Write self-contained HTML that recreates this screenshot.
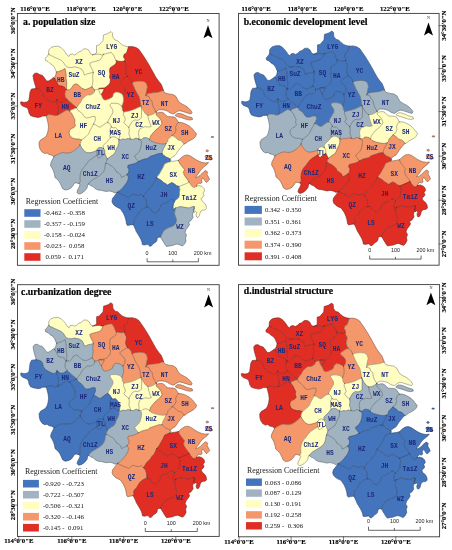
<!DOCTYPE html><html><head><meta charset="utf-8"><title>Regression coefficient maps</title>
<style>html,body{margin:0;padding:0;background:#fff}svg{display:block}.t{font-family:'Liberation Serif',serif;font-weight:bold;font-size:6.75px;fill:#000;stroke:#000;stroke-width:.15}.ti{font-family:'Liberation Serif',serif;font-weight:bold;font-size:9.75px;fill:#000;stroke:#000;stroke-width:.2}.lg{font-family:'Liberation Serif',serif;font-size:6.85px;fill:#111;white-space:pre}.lt{font-family:'Liberation Serif',serif;font-size:7.9px;fill:#222}.rl{font-family:'Liberation Mono',monospace;font-weight:bold;font-size:6.25px;fill:#1c2a7c;text-anchor:middle}.sb{font-family:'Liberation Sans',sans-serif;font-size:5.4px;fill:#222;text-anchor:middle}.rg{stroke:#1a1a1a;stroke-opacity:.62;stroke-width:0.5;stroke-linejoin:round;stroke-linecap:round}</style></head><body>
<svg width="452" height="550" viewBox="0 0 452 550">
<rect x="0" y="0" width="452" height="550" fill="#fff"/>
<g id="panel-a">
<g transform="translate(0.00 0.00)">
<g stroke-width="0.35" stroke-linejoin="round">
<polygon points="48.8,54.0 48.5,53.0 48.8,50.0 51.0,47.5 54.0,46.5 58.0,46.2 61.0,47.5 63.5,50.0 65.5,52.5 67.0,55.0 69.0,56.5 70.0,54.5 72.5,54.0 74.5,55.0 76.5,54.0 78.5,52.0 81.0,51.2 83.5,49.0 86.5,48.8 89.0,50.5 90.5,53.5 92.5,54.8 95.0,54.5 99.0,54.0 102.0,55.0 103.5,54.3 101.5,58.0 100.0,60.0 96.0,61.2 92.0,62.2 89.8,63.2 90.2,65.5 91.5,68.0 92.8,70.5 93.2,72.5 90.0,73.2 87.5,73.7 85.7,74.7 84.2,74.7 83.5,72.3 82.0,69.5 78.4,67.5 77.0,67.5 74.5,66.8 72.0,67.5 69.0,67.5 66.5,66.8 65.0,65.0 63.5,62.5 61.5,60.5 58.5,59.0 55.0,57.5 52.0,56.0 49.5,55.0" fill="#fffdbf" stroke="#fffdbf"/>
<polygon points="92.5,54.8 93.5,54.5 96.5,53.0 96.5,45.5 99.0,45.0 103.0,40.5 103.5,35.0 108.0,33.5 111.0,31.5 112.5,33.0 112.8,37.0 115.0,40.0 117.5,40.5 120.0,43.0 122.5,45.0 125.0,46.0 127.0,46.5 128.5,46.8 127.5,50.0 126.5,53.0 124.0,54.5 123.5,57.0 125.0,59.5 124.5,61.0 121.5,61.5 118.5,61.2 116.0,60.5 115.0,58.5 113.5,55.0 111.5,52.5 108.5,53.0 105.0,54.0 103.5,54.3 102.0,55.0 99.0,54.0 95.0,54.5" fill="#fffdbf" stroke="#fffdbf"/>
<polygon points="103.5,54.3 105.0,54.0 108.5,53.0 111.5,52.5 113.5,55.0 115.0,58.5 116.0,60.5 116.5,61.5 115.8,63.5 114.5,65.0 112.0,66.5 110.0,68.0 109.5,71.0 110.0,74.0 109.5,77.0 110.5,80.0 110.0,83.0 108.5,85.0 106.0,87.0 104.3,87.9 99.0,88.3 98.8,88.8 104.1,88.7 103.8,90.0 102.5,92.5 101.2,94.5 99.8,93.0 99.0,91.0 98.5,89.0 96.5,89.7 94.5,90.0 93.5,88.5 92.0,86.8 92.5,84.0 93.0,80.0 92.5,77.0 93.0,74.0 93.2,72.5 92.8,70.5 91.5,68.0 90.2,65.5 89.8,63.2 92.0,62.2 96.0,61.2 100.0,60.0 101.5,58.0" fill="#fffdbf" stroke="#fffdbf"/>
<polygon points="48.8,54.0 49.5,55.0 52.0,56.0 55.0,57.5 58.5,59.0 61.5,60.5 63.5,62.5 65.0,65.0 66.5,66.8 69.0,67.5 72.0,67.5 74.5,66.8 77.0,67.5 78.4,67.5 82.0,69.5 83.5,72.3 84.2,74.7 85.7,74.7 87.5,73.7 90.0,73.2 93.2,72.5 93.0,74.0 92.5,77.0 93.0,80.0 92.5,84.0 92.0,86.8 87.9,88.7 85.3,89.6 81.8,88.3 79.1,85.6 76.4,83.8 73.7,84.7 71.5,87.9 69.3,90.1 66.5,89.6 66.6,87.0 66.7,84.0 66.5,81.0 66.0,78.0 66.2,75.0 65.7,72.0 65.0,68.5 61.5,70.5 58.5,71.5 56.5,72.0 55.5,70.0 54.5,67.5 52.5,65.0 50.0,63.5 48.0,61.5 45.5,60.5 45.2,58.5 47.0,56.5" fill="#fffdbf" stroke="#fffdbf"/>
<polygon points="56.5,72.0 58.5,71.5 61.5,70.5 65.0,68.5 65.7,72.0 66.2,75.0 66.0,78.0 66.5,81.0 66.7,84.0 66.6,87.0 66.5,89.6 65.8,89.7 64.4,87.1 62.2,86.1 58.6,85.6 56.4,81.6 54.8,78.5 54.6,77.0 55.8,75.0 56.2,73.0" fill="#f4976a" stroke="#f4976a"/>
<polygon points="36.0,88.5 35.5,86.0 34.5,83.0 33.5,79.0 33.0,75.5 34.5,73.5 37.0,73.0 39.5,74.5 42.5,75.5 44.5,78.0 46.5,81.0 48.5,81.0 51.0,79.5 53.5,77.5 54.8,78.5 56.4,81.6 58.6,85.6 62.2,86.1 64.4,87.1 65.8,89.7 64.8,94.1 65.3,96.8 67.0,99.4 63.5,101.7 60.4,102.1 56.8,99.5 55.2,102.2 52.5,102.2 50.0,101.0 47.0,99.5 44.5,97.5 43.0,95.0 42.5,92.0 41.0,90.0 38.5,89.0" fill="#e02e25" stroke="#e02e25"/>
<polygon points="46.2,115.8 44.5,116.0 42.5,116.0 40.5,117.0 38.0,117.5 35.5,117.0 33.0,116.5 30.5,115.5 29.0,113.0 28.5,110.5 27.5,108.0 25.0,107.0 22.5,106.0 21.0,104.5 20.5,102.2 21.5,101.8 24.0,102.5 27.0,102.0 29.0,100.0 29.5,96.0 30.0,92.0 31.5,89.0 36.0,88.5 38.5,89.0 41.0,90.0 42.5,92.0 43.0,95.0 44.5,97.5 47.0,99.5 50.0,101.0 52.5,102.2 55.2,102.2 56.8,99.5 57.0,103.0 58.0,107.0 58.5,111.0 57.7,114.9 55.5,115.8 52.4,114.9 48.8,114.5" fill="#e02e25" stroke="#e02e25"/>
<polygon points="56.8,99.5 60.4,102.1 63.5,101.7 67.0,99.4 70.0,101.8 72.5,104.0 75.0,106.0 76.5,107.7 75.4,108.3 71.9,109.6 69.6,110.9 66.5,110.0 63.5,111.8 60.8,113.6 57.7,114.9 58.5,111.0 58.0,107.0 57.0,103.0" fill="#e02e25" stroke="#e02e25"/>
<polygon points="66.5,89.6 69.3,90.1 71.5,87.9 73.7,84.7 76.4,83.8 79.1,85.6 81.8,88.3 85.3,89.6 87.9,88.7 92.0,86.8 93.5,88.5 94.5,90.0 94.5,92.0 92.5,94.0 90.0,95.0 87.5,94.8 85.5,96.0 84.0,97.5 82.0,99.5 80.5,102.5 78.5,105.0 76.5,107.7 75.0,106.0 72.5,104.0 70.0,101.8 67.0,99.4 65.3,96.8 64.8,94.1 65.8,89.7" fill="#f4976a" stroke="#f4976a"/>
<polygon points="116.0,60.5 118.5,61.2 121.5,61.5 124.5,61.0 125.0,63.0 126.5,66.0 126.0,69.0 125.5,72.0 126.5,75.0 127.5,76.5 124.5,78.0 121.5,80.0 119.5,82.0 121.0,83.8 123.5,86.0 125.0,88.5 124.7,92.0 123.0,94.7 121.5,93.8 119.0,92.5 116.0,92.0 113.5,93.5 112.5,97.0 109.0,99.0 105.0,100.2 103.0,99.0 101.2,94.5 102.5,92.5 103.8,90.0 104.1,88.7 98.8,88.8 99.0,88.3 104.3,87.9 106.0,87.0 108.5,85.0 110.0,83.0 110.5,80.0 109.5,77.0 110.0,74.0 109.5,71.0 110.0,68.0 112.0,66.5 114.5,65.0 115.8,63.5 116.5,61.5" fill="#e02e25" stroke="#e02e25"/>
<polygon points="128.5,46.8 132.0,46.5 136.0,47.5 139.0,49.5 141.0,52.5 143.5,56.0 146.0,60.0 148.5,64.0 151.0,68.5 153.5,73.0 156.0,77.5 158.5,81.0 161.0,84.0 162.5,87.5 163.5,90.5 162.0,90.8 159.0,92.0 155.0,92.5 151.0,93.0 148.0,93.5 145.8,95.5 146.5,91.0 147.5,87.0 146.5,83.5 144.0,81.5 140.0,81.0 135.0,81.5 132.0,82.5 131.2,80.5 130.0,78.5 127.5,76.5 126.5,75.0 125.5,72.0 126.0,69.0 126.5,66.0 125.0,63.0 124.5,61.0 125.0,59.5 123.5,57.0 124.0,54.5 126.5,53.0 127.5,50.0" fill="#e02e25" stroke="#e02e25"/>
<polygon points="127.5,76.5 130.0,78.5 131.2,80.5 132.0,82.5 133.5,86.0 135.0,89.5 137.0,93.0 139.0,96.5 140.0,100.0 140.5,103.5 141.0,106.2 138.3,107.4 135.3,108.9 131.3,110.4 127.3,111.4 123.8,111.9 122.5,110.4 121.8,106.2 123.3,102.0 123.5,99.0 122.8,94.7 123.0,94.7 124.7,92.0 125.0,88.5 123.5,86.0 121.0,83.8 119.5,82.0 121.5,80.0 124.5,78.0" fill="#e02e25" stroke="#e02e25"/>
<polygon points="132.0,82.5 135.0,81.5 140.0,81.0 144.0,81.5 146.5,83.5 147.5,87.0 146.5,91.0 145.8,95.5 149.0,96.5 150.0,99.5 152.0,101.0 152.5,104.5 153.5,107.5 155.0,110.0 156.0,111.8 155.3,112.6 153.5,113.9 150.7,115.1 147.8,115.3 145.2,113.5 142.8,110.0 141.0,106.2 140.5,103.5 140.0,100.0 139.0,96.5 137.0,93.0 135.0,89.5 133.5,86.0" fill="#f4976a" stroke="#f4976a"/>
<polygon points="163.5,90.8 165.0,93.0 169.0,94.0 173.0,94.5 176.0,96.5 177.5,99.5 179.0,102.0 182.0,104.0 185.0,105.5 188.0,107.5 190.5,110.0 192.0,112.5 191.0,114.0 188.0,113.2 185.0,112.2 182.0,111.2 179.0,110.7 177.0,111.6 175.0,113.0 173.5,114.0 172.0,113.6 169.5,112.6 167.5,111.2 165.0,110.2 162.0,109.7 159.0,109.7 157.0,110.7 156.0,111.8 155.0,110.0 153.5,107.5 152.5,104.5 152.0,101.0 150.0,99.5 149.0,96.5 145.8,95.5 148.0,93.5 151.0,93.0 155.0,92.5 159.0,92.0 162.0,90.8 163.5,90.5" fill="#f4976a" stroke="#f4976a"/>
<polygon points="94.5,90.0 96.5,89.7 98.5,89.0 99.0,91.0 99.8,93.0 101.2,94.5 103.0,99.0 105.0,100.2 109.0,99.0 112.5,97.0 113.5,93.5 116.0,92.0 119.0,92.5 121.5,93.8 123.0,94.7 122.8,94.7 123.5,99.0 123.3,102.0 121.8,106.2 120.8,105.2 118.8,103.9 115.3,103.2 111.3,103.4 109.8,104.9 110.8,106.9 112.8,109.9 112.8,112.9 111.3,115.4 109.8,117.9 108.3,120.4 107.8,122.4 105.3,123.4 102.8,125.4 100.3,127.2 98.0,126.5 96.0,125.0 93.5,124.0 94.5,122.0 95.5,119.5 95.0,116.5 92.5,116.5 89.5,117.5 86.5,118.0 84.0,116.5 82.5,114.0 80.5,112.0 78.0,110.5 76.5,107.7 78.5,105.0 80.5,102.5 82.0,99.5 84.0,97.5 85.5,96.0 87.5,94.8 90.0,95.0 92.5,94.0 94.5,92.0" fill="#fffdbf" stroke="#fffdbf"/>
<polygon points="76.5,107.7 78.0,110.5 80.5,112.0 82.5,114.0 84.0,116.5 86.5,118.0 89.5,117.5 92.5,116.5 95.0,116.5 95.5,119.5 94.5,122.0 93.5,124.0 92.0,127.0 90.0,130.5 88.5,134.0 86.0,136.5 83.5,138.5 81.5,140.0 79.0,139.0 76.0,139.0 72.5,138.0 70.0,136.0 69.0,133.0 69.5,130.5 71.5,128.5 74.0,127.5 75.5,125.5 74.5,123.0 75.0,120.0 73.5,117.0 72.0,114.0 69.6,110.9 71.9,109.6 75.4,108.3" fill="#fffdbf" stroke="#fffdbf"/>
<polygon points="46.2,115.8 48.8,114.5 52.4,114.9 55.5,115.8 57.7,114.9 60.8,113.6 63.5,111.8 66.5,110.0 69.6,110.9 72.0,114.0 73.5,117.0 75.0,120.0 74.5,123.0 75.5,125.5 74.0,127.5 71.5,128.5 69.5,130.5 69.0,133.0 70.0,136.0 72.5,138.0 76.0,139.0 79.0,139.0 81.5,140.0 80.8,142.0 80.0,144.5 79.0,146.5 77.5,148.0 75.0,150.0 72.0,152.0 69.0,153.0 66.0,153.0 62.5,152.5 59.5,153.5 56.5,155.0 54.0,156.5 51.5,155.0 49.0,154.5 47.0,153.0 44.5,153.5 42.0,152.0 40.0,149.0 39.2,146.0 39.0,142.5 40.5,140.0 43.0,138.5 45.5,137.0 47.0,134.5 48.0,131.0 48.5,127.0 48.0,123.0 47.0,119.0" fill="#f4976a" stroke="#f4976a"/>
<polygon points="121.8,106.2 122.5,110.4 123.8,111.9 123.3,114.4 124.8,117.4 125.3,119.9 123.8,122.4 125.3,124.4 127.3,125.9 128.8,127.4 129.3,130.4 128.8,133.9 129.8,136.4 130.3,138.9 127.8,138.4 125.3,139.4 122.8,138.9 120.3,139.9 118.8,139.4 119.8,136.9 119.3,133.9 118.3,130.9 116.8,128.9 115.3,127.4 113.3,127.9 111.3,126.9 110.3,124.4 107.8,122.4 108.3,120.4 109.8,117.9 111.3,115.4 112.8,112.9 112.8,109.9 110.8,106.9 109.8,104.9 111.3,103.4 115.3,103.2 118.8,103.9 120.8,105.2" fill="#fffdbf" stroke="#fffdbf"/>
<polygon points="123.8,111.9 127.3,111.4 131.3,110.4 135.3,108.9 138.3,107.4 141.0,106.2 141.5,109.4 141.5,113.9 141.3,117.9 139.8,119.4 137.3,120.4 134.8,119.9 132.3,121.4 130.3,124.4 128.8,127.4 127.3,125.9 125.3,124.4 123.8,122.4 125.3,119.9 124.8,117.4 123.3,114.4" fill="#fffdbf" stroke="#fffdbf"/>
<polygon points="141.0,106.2 142.8,110.0 145.2,113.5 147.8,115.3 148.5,119.1 149.5,122.1 150.5,124.6 151.2,126.6 148.5,127.1 145.0,126.6 142.5,127.6 140.0,128.6 139.0,130.6 138.5,133.6 139.0,136.6 138.8,139.1 136.0,138.0 133.0,139.5 130.3,138.9 129.8,136.4 128.8,133.9 129.3,130.4 128.8,127.4 130.3,124.4 132.3,121.4 134.8,119.9 137.3,120.4 139.8,119.4 141.3,117.9 141.5,113.9 141.5,109.4" fill="#fffdbf" stroke="#fffdbf"/>
<polygon points="147.8,115.3 150.7,115.1 153.5,113.9 155.3,112.6 156.0,111.8 156.3,115.1 159.1,117.5 161.1,120.3 161.9,123.5 160.3,125.9 157.9,128.3 155.1,130.6 152.7,133.3 150.5,136.1 149.5,139.6 148.0,138.1 145.0,137.6 143.0,138.1 141.5,139.6 138.8,139.1 139.0,136.6 138.5,133.6 139.0,130.6 140.0,128.6 142.5,127.6 145.0,126.6 148.5,127.1 151.2,126.6 150.5,124.6 149.5,122.1 148.5,119.1" fill="#fffdbf" stroke="#fffdbf"/>
<polygon points="156.0,111.8 157.3,112.9 159.5,112.3 162.0,112.2 164.0,113.2 165.8,115.2 167.8,116.6 170.5,116.8 173.0,116.8 175.3,117.6 177.0,120.0 178.5,122.5 176.5,124.5 175.5,127.5 176.0,130.0 175.0,132.5 173.5,134.5 172.0,135.5 170.0,137.5 168.0,139.5 167.5,142.0 166.0,143.5 163.0,144.1 159.0,143.6 155.0,142.6 151.0,141.1 149.5,139.6 150.5,136.1 152.7,133.3 155.1,130.6 157.9,128.3 160.3,125.9 161.9,123.5 161.1,120.3 159.1,117.5 156.3,115.1" fill="#f4976a" stroke="#f4976a"/>
<polygon points="178.5,122.5 181.5,122.5 184.5,123.5 187.5,125.0 190.0,126.5 192.5,129.0 194.5,131.5 196.5,134.0 195.5,136.5 193.5,138.5 191.0,140.0 188.0,141.5 185.5,143.5 184.0,144.0 182.5,142.0 180.5,140.5 178.0,140.0 176.0,138.0 174.0,136.5 172.0,135.5 173.5,134.5 175.0,132.5 176.0,130.0 175.5,127.5 176.5,124.5" fill="#f4976a" stroke="#f4976a"/>
<polygon points="175.3,115.0 177.5,113.4 180.5,113.6 183.5,114.6 186.5,116.0 189.5,117.0 192.0,117.6 192.6,119.5 190.0,120.0 187.0,119.6 184.0,118.6 181.0,117.6 178.0,116.8 175.8,116.0" fill="#f4976a" stroke="#f4976a"/>
<polygon points="166.0,143.5 167.5,142.0 168.0,139.5 170.0,137.5 172.0,135.5 174.0,136.5 176.0,138.0 178.0,140.0 180.5,140.5 182.5,142.0 184.0,144.0 182.0,146.0 180.0,148.5 178.0,151.0 176.5,153.5 175.0,155.5 172.5,157.0 170.0,159.0 168.5,158.0 166.0,157.0 164.0,155.5 162.0,153.5 162.5,151.0 163.5,148.5 165.0,146.0" fill="#fffdbf" stroke="#fffdbf"/>
<polygon points="93.5,124.0 96.0,125.0 98.0,126.5 100.3,127.2 102.8,125.4 105.3,123.4 107.8,122.4 110.3,124.4 111.3,126.9 109.8,129.4 110.3,133.4 109.8,136.4 110.5,137.6 108.3,140.5 105.6,143.0 103.2,145.6 103.5,148.4 100.8,147.3 98.3,147.9 96.9,150.2 94.5,151.5 91.0,152.5 88.0,152.8 85.5,152.0 83.5,150.0 81.5,147.5 80.0,144.5 80.8,142.0 81.5,140.0 83.5,138.5 86.0,136.5 88.5,134.0 90.0,130.5 92.0,127.0" fill="#fffdbf" stroke="#fffdbf"/>
<polygon points="111.3,126.9 113.3,127.9 115.3,127.4 116.8,128.9 118.3,130.9 119.3,133.9 119.8,136.9 118.8,139.4 117.3,138.4 115.0,136.9 112.8,136.8 110.5,137.6 109.8,136.4 110.3,133.4 109.8,129.4" fill="#fffdbf" stroke="#fffdbf"/>
<polygon points="110.5,137.6 112.8,136.8 115.0,136.9 117.3,138.4 118.8,139.4 118.8,143.4 117.8,146.4 116.3,148.9 115.3,151.9 113.8,154.4 111.3,155.9 109.3,157.4 107.3,158.9 105.8,155.9 104.8,153.9 104.8,150.4 103.5,148.4 103.2,145.6 105.6,143.0 108.3,140.5" fill="#fffdbf" stroke="#fffdbf"/>
<polygon points="96.9,150.2 98.3,147.9 100.8,147.3 103.5,148.4 104.8,150.4 104.8,153.9 102.8,155.4 100.3,156.9 98.8,158.4 97.8,156.8 97.2,155.2 97.0,153.0" fill="#a1b3c0" stroke="#a1b3c0"/>
<polygon points="54.0,156.5 56.5,155.0 59.5,153.5 62.5,152.5 66.0,153.0 69.0,153.0 72.0,152.0 75.0,150.0 77.5,148.0 79.0,146.5 80.0,144.5 81.5,147.5 83.5,150.0 85.5,152.0 88.0,152.8 91.0,152.5 94.5,151.5 96.9,150.2 97.0,153.0 97.2,155.2 94.3,156.9 91.3,158.9 88.8,160.9 86.8,163.5 85.0,166.0 83.3,167.8 81.5,170.5 80.3,174.0 80.0,178.0 80.3,181.5 79.0,183.5 76.0,182.8 74.3,183.3 73.0,185.5 71.0,188.0 68.0,189.5 65.0,190.0 62.5,188.5 61.0,185.0 59.5,182.0 57.5,179.5 55.0,177.5 54.5,174.5 53.5,171.0 52.0,168.0 50.5,165.5 51.0,162.5 52.5,159.5" fill="#a1b3c0" stroke="#a1b3c0"/>
<polygon points="97.2,155.2 97.8,156.8 98.8,158.4 100.3,156.9 102.8,155.4 104.8,153.9 105.8,155.9 107.3,158.9 106.3,161.9 105.8,163.4 105.3,164.9 104.8,168.4 103.8,171.4 101.8,173.9 99.3,175.9 96.8,177.4 94.3,178.9 91.8,180.4 89.8,182.2 88.5,184.0 87.5,185.5 87.0,188.0 85.5,190.0 83.5,192.0 81.0,193.5 78.5,194.0 77.0,192.5 77.5,190.0 79.0,187.5 80.0,184.8 79.0,183.5 80.3,181.5 80.0,178.0 80.3,174.0 81.5,170.5 83.3,167.8 85.0,166.0 86.8,163.5 88.8,160.9 91.3,158.9 94.3,156.9" fill="#a1b3c0" stroke="#a1b3c0"/>
<polygon points="118.8,139.4 120.3,139.9 122.8,138.9 125.3,139.4 127.8,138.4 130.3,138.9 133.0,139.5 136.0,138.0 138.8,139.1 141.3,141.0 141.5,143.0 141.0,146.5 140.0,150.0 138.5,152.5 136.5,154.5 134.5,156.0 136.0,158.5 138.5,161.5 135.0,163.5 131.0,164.5 128.5,165.0 127.5,167.0 129.0,169.5 128.5,172.5 127.0,174.5 124.5,176.0 121.5,177.5 120.5,174.5 118.5,173.0 116.0,171.5 115.0,169.0 112.5,166.5 110.0,165.0 107.5,163.5 105.8,163.4 106.3,161.9 107.3,158.9 109.3,157.4 111.3,155.9 113.8,154.4 115.3,151.9 116.3,148.9 117.8,146.4 118.8,143.4" fill="#a1b3c0" stroke="#a1b3c0"/>
<polygon points="138.8,139.1 141.5,139.6 143.0,138.1 145.0,137.6 148.0,138.1 149.5,139.6 151.0,141.1 155.0,142.6 159.0,143.6 163.0,144.1 166.0,143.5 165.0,146.0 163.5,148.5 162.5,151.0 162.0,153.5 159.0,153.5 156.0,154.5 153.0,155.5 150.0,156.5 147.5,158.5 144.5,159.0 141.5,160.0 138.5,161.5 136.0,158.5 134.5,156.0 136.5,154.5 138.5,152.5 140.0,150.0 141.0,146.5 141.5,143.0 141.3,141.0" fill="#a1b3c0" stroke="#a1b3c0"/>
<polygon points="105.8,163.4 107.5,163.5 110.0,165.0 112.5,166.5 115.0,169.0 116.0,171.5 118.5,173.0 120.5,174.5 121.5,177.5 124.5,176.0 127.0,174.5 128.5,177.0 128.0,180.0 126.5,183.0 124.5,185.5 122.5,188.0 120.5,190.0 118.5,191.5 117.5,192.2 115.0,193.0 112.0,191.5 109.0,191.0 106.0,191.5 104.0,191.0 101.0,190.3 98.0,190.0 95.0,188.5 93.0,186.5 90.5,185.5 88.5,184.0 89.8,182.2 91.8,180.4 94.3,178.9 96.8,177.4 99.3,175.9 101.8,173.9 103.8,171.4 104.8,168.4 105.3,164.9" fill="#a1b3c0" stroke="#a1b3c0"/>
<polygon points="127.0,174.5 128.5,172.5 129.0,169.5 127.5,167.0 128.5,165.0 131.0,164.5 135.0,163.5 138.5,161.5 141.5,160.0 144.5,159.0 147.5,158.5 150.0,156.5 153.0,155.5 156.0,154.5 159.0,153.5 162.0,153.5 164.0,155.5 166.0,157.0 168.5,158.0 170.0,159.0 170.8,160.5 169.5,161.8 167.0,162.8 164.5,164.0 163.0,167.5 161.0,171.0 159.0,174.5 156.5,177.5 155.5,180.0 154.0,183.0 152.0,185.0 150.5,187.5 148.5,189.5 146.5,191.5 145.0,194.0 143.5,196.5 141.5,194.5 138.5,195.5 135.5,195.0 133.0,194.0 130.5,195.5 128.5,197.5 126.0,196.0 123.0,195.0 120.0,193.5 117.5,192.2 118.5,191.5 120.5,190.0 122.5,188.0 124.5,185.5 126.5,183.0 128.0,180.0 128.5,177.0" fill="#4474bc" stroke="#4474bc"/>
<polygon points="169.5,161.8 171.5,161.5 175.0,161.0 178.5,160.3 179.0,162.0 180.5,164.5 182.5,167.0 184.5,169.5 183.5,172.0 184.0,174.5 185.5,177.0 187.5,179.5 189.0,182.0 186.5,183.5 184.0,184.5 181.5,185.5 179.0,186.5 176.5,185.5 174.5,184.0 172.0,182.5 170.0,183.5 167.5,185.0 165.5,183.5 163.5,182.5 161.5,180.5 159.0,179.0 156.5,177.5 159.0,174.5 161.0,171.0 163.0,167.5 164.5,164.0 167.0,162.8" fill="#fffdbf" stroke="#fffdbf"/>
<polygon points="178.5,160.3 181.5,157.5 184.5,155.5 187.5,155.0 190.5,156.0 193.5,158.0 196.5,160.0 199.5,161.5 202.5,162.5 205.5,163.0 208.5,162.5 207.0,164.5 204.5,166.5 202.0,168.5 200.0,171.0 198.5,173.5 196.5,176.0 195.5,177.5 197.5,177.0 200.0,175.5 202.0,173.5 204.0,171.5 206.0,170.5 207.5,172.0 207.0,174.5 208.5,177.0 209.5,179.5 208.0,181.0 206.5,182.5 205.0,181.0 204.0,179.0 202.5,178.0 201.5,180.0 202.0,182.5 200.5,183.5 198.5,183.0 197.0,184.8 196.5,186.2 194.5,187.5 192.5,187.0 190.5,184.5 189.0,182.0 187.5,179.5 185.5,177.0 184.0,174.5 183.5,172.0 184.5,169.5 182.5,167.0 180.5,164.5 179.0,162.0" fill="#f4976a" stroke="#f4976a"/>
<polygon points="205.3,156.2 207.2,155.4 209.8,156.0 211.8,157.6 212.3,159.3 210.3,160.0 207.6,159.2 205.8,157.8" fill="#f4976a" stroke="#f4976a"/>
<polygon points="206.2,150.3 207.6,149.8 208.6,150.8 207.8,151.8 206.5,151.5" fill="#f4976a" stroke="#f4976a"/>
<polygon points="211.6,136.5 213.5,136.5 213.5,137.5 211.6,137.5" fill="#f4976a" stroke="#f4976a"/>
<polygon points="117.5,192.2 120.0,193.5 123.0,195.0 126.0,196.0 128.5,197.5 130.5,195.5 133.0,194.0 135.5,195.0 138.5,195.5 141.5,194.5 143.5,196.5 145.5,199.0 146.5,202.0 146.5,205.0 147.0,207.0 144.0,208.0 141.5,209.5 139.5,211.5 138.0,214.0 136.5,216.5 134.5,218.5 133.5,220.5 134.0,223.0 133.0,224.5 130.0,225.0 127.5,225.5 126.5,224.0 126.0,220.5 125.0,217.0 123.5,213.5 121.5,210.5 120.0,208.5 117.5,207.5 115.0,206.0 113.0,204.0 112.0,201.5 112.5,198.5 114.5,196.0 116.0,194.0" fill="#4474bc" stroke="#4474bc"/>
<polygon points="143.5,196.5 145.0,194.0 146.5,191.5 148.5,189.5 150.5,187.5 152.0,185.0 154.0,183.0 155.5,180.0 156.5,177.5 159.0,179.0 161.5,180.5 163.5,182.5 165.5,183.5 167.5,185.0 170.0,183.5 172.0,182.5 174.5,184.0 176.5,185.5 179.0,186.5 180.0,189.5 179.5,192.5 179.5,195.5 178.5,198.0 176.5,199.5 174.5,201.5 172.5,199.5 170.5,199.5 168.5,201.5 166.0,203.0 163.0,203.5 161.0,205.0 160.0,208.0 158.5,211.0 155.5,213.0 153.0,212.0 151.0,210.0 149.5,207.5 147.0,207.0 146.5,205.0 146.5,202.0 145.5,199.0" fill="#4474bc" stroke="#4474bc"/>
<polygon points="189.0,182.0 186.5,183.5 184.0,184.5 181.5,185.5 179.0,186.5 189.0,182.0 190.5,184.5 192.5,187.0 194.5,187.5 196.5,186.2 199.0,185.5 202.0,186.5 204.0,188.5 204.5,191.0 203.0,193.0 204.0,195.5 202.5,197.5 201.0,198.5 202.0,201.0 204.5,203.0 206.0,205.5 206.5,208.5 205.0,210.0 203.0,210.0 201.0,211.0 200.0,213.0 199.5,215.5 198.0,217.5 196.5,217.0 196.0,214.5 197.0,212.5 195.5,211.5 194.0,212.5 193.5,210.0 194.5,208.0 194.0,206.5 191.5,207.0 189.0,208.0 186.0,207.5 183.0,207.0 180.0,206.5 177.5,207.5 175.5,208.0 173.5,209.5 173.0,207.0 173.5,204.0 174.5,201.5 176.5,199.5 178.5,198.0 179.5,195.5 179.5,192.5 180.0,189.5 179.0,186.5" fill="#fffdbf" stroke="#fffdbf"/>
<polygon points="133.0,224.5 134.0,223.0 133.5,220.5 134.5,218.5 136.5,216.5 138.0,214.0 139.5,211.5 141.5,209.5 144.0,208.0 147.0,207.0 149.5,207.5 151.0,210.0 153.0,212.0 155.5,213.0 158.5,211.0 160.0,208.0 161.0,205.0 163.0,203.5 166.0,203.0 168.5,201.5 170.5,199.5 172.5,199.5 174.5,201.5 173.5,204.0 173.0,207.0 173.5,209.5 175.5,208.0 175.0,210.5 174.5,213.5 175.5,216.5 176.5,219.5 176.2,222.5 174.5,225.0 172.0,226.5 169.0,227.5 166.0,229.0 163.5,231.0 162.0,234.0 160.5,237.0 158.5,237.3 157.2,238.3 156.9,240.6 155.9,242.0 154.2,243.0 152.9,244.3 151.2,246.0 149.6,246.3 148.0,244.3 146.3,244.6 144.3,245.0 142.3,244.6 142.0,242.3 141.0,239.6 139.6,237.0 138.0,234.3 136.3,231.6 135.3,229.0 134.3,226.8" fill="#4474bc" stroke="#4474bc"/>
<polygon points="175.5,208.0 177.5,207.5 180.0,206.5 183.0,207.0 186.0,207.5 189.0,208.0 191.5,207.0 194.0,206.5 194.5,208.0 193.5,211.5 192.5,214.5 193.0,217.5 191.0,220.5 188.5,222.0 189.5,224.5 188.0,227.0 186.0,229.5 185.0,232.5 186.5,235.0 185.5,238.0 186.0,241.0 184.5,244.0 182.5,246.0 180.0,245.0 177.5,244.0 175.0,244.5 172.5,245.5 169.5,246.0 166.5,246.5 165.0,244.5 163.5,242.0 162.0,239.5 160.5,237.0 162.0,234.0 163.5,231.0 166.0,229.0 169.0,227.5 172.0,226.5 174.5,225.0 176.2,222.5 176.5,219.5 175.5,216.5 174.5,213.5 175.0,210.5" fill="#a1b3c0" stroke="#a1b3c0"/>
</g>
<path class="rg" fill="none" d="M48.8 54.0 48.5 53.0 48.8 50.0 51.0 47.5 54.0 46.5 58.0 46.2 61.0 47.5 63.5 50.0 65.5 52.5 67.0 55.0 69.0 56.5 70.0 54.5 72.5 54.0 74.5 55.0 76.5 54.0 78.5 52.0 81.0 51.2 83.5 49.0 86.5 48.8 89.0 50.5 90.5 53.5 92.5 54.8M92.5 54.8 95.0 54.5 99.0 54.0 102.0 55.0 103.5 54.3M103.5 54.3 101.5 58.0 100.0 60.0 96.0 61.2 92.0 62.2 89.8 63.2 90.2 65.5 91.5 68.0 92.8 70.5 93.2 72.5M93.2 72.5 90.0 73.2 87.5 73.7 85.7 74.7 84.2 74.7 83.5 72.3 82.0 69.5 78.4 67.5 77.0 67.5 74.5 66.8 72.0 67.5 69.0 67.5 66.5 66.8 65.0 65.0 63.5 62.5 61.5 60.5 58.5 59.0 55.0 57.5 52.0 56.0 49.5 55.0 48.8 54.0M92.5 54.8 93.5 54.5 96.5 53.0 96.5 45.5 99.0 45.0 103.0 40.5 103.5 35.0 108.0 33.5 111.0 31.5 112.5 33.0 112.8 37.0 115.0 40.0 117.5 40.5 120.0 43.0 122.5 45.0 125.0 46.0 127.0 46.5 128.5 46.8M128.5 46.8 127.5 50.0 126.5 53.0 124.0 54.5 123.5 57.0 125.0 59.5 124.5 61.0M124.5 61.0 121.5 61.5 118.5 61.2 116.0 60.5M116.0 60.5 115.0 58.5 113.5 55.0 111.5 52.5 108.5 53.0 105.0 54.0 103.5 54.3M116.0 60.5 116.5 61.5 115.8 63.5 114.5 65.0 112.0 66.5 110.0 68.0 109.5 71.0 110.0 74.0 109.5 77.0 110.5 80.0 110.0 83.0 108.5 85.0 106.0 87.0 104.3 87.9 99.0 88.3 98.8 88.8 104.1 88.7 103.8 90.0 102.5 92.5 101.2 94.5M101.2 94.5 99.8 93.0 99.0 91.0 98.5 89.0 96.5 89.7 94.5 90.0M94.5 90.0 93.5 88.5 92.0 86.8M92.0 86.8 92.5 84.0 93.0 80.0 92.5 77.0 93.0 74.0 93.2 72.5M48.8 54.0 47.0 56.5 45.2 58.5 45.5 60.5 48.0 61.5 50.0 63.5 52.5 65.0 54.5 67.5 55.5 70.0 56.5 72.0M56.5 72.0 58.5 71.5 61.5 70.5 65.0 68.5 65.7 72.0 66.2 75.0 66.0 78.0 66.5 81.0 66.7 84.0 66.6 87.0 66.5 89.6M66.5 89.6 65.8 89.7M65.8 89.7 64.4 87.1 62.2 86.1 58.6 85.6 56.4 81.6 54.8 78.5M54.8 78.5 54.6 77.0 55.8 75.0 56.2 73.0 56.5 72.0M66.5 89.6 69.3 90.1 71.5 87.9 73.7 84.7 76.4 83.8 79.1 85.6 81.8 88.3 85.3 89.6 87.9 88.7 92.0 86.8M65.8 89.7 64.8 94.1 65.3 96.8 67.0 99.4M67.0 99.4 63.5 101.7 60.4 102.1 56.8 99.5M56.8 99.5 55.2 102.2 52.5 102.2 50.0 101.0 47.0 99.5 44.5 97.5 43.0 95.0 42.5 92.0 41.0 90.0 38.5 89.0 36.0 88.5M36.0 88.5 35.5 86.0 34.5 83.0 33.5 79.0 33.0 75.5 34.5 73.5 37.0 73.0 39.5 74.5 42.5 75.5 44.5 78.0 46.5 81.0 48.5 81.0 51.0 79.5 53.5 77.5 54.8 78.5M56.8 99.5 57.0 103.0 58.0 107.0 58.5 111.0 57.7 114.9M57.7 114.9 55.5 115.8 52.4 114.9 48.8 114.5 46.2 115.8M46.2 115.8 44.5 116.0 42.5 116.0 40.5 117.0 38.0 117.5 35.5 117.0 33.0 116.5 30.5 115.5 29.0 113.0 28.5 110.5 27.5 108.0 25.0 107.0 22.5 106.0 21.0 104.5 20.5 102.2 21.5 101.8 24.0 102.5 27.0 102.0 29.0 100.0 29.5 96.0 30.0 92.0 31.5 89.0 36.0 88.5M67.0 99.4 70.0 101.8 72.5 104.0 75.0 106.0 76.5 107.7M76.5 107.7 75.4 108.3 71.9 109.6 69.6 110.9M69.6 110.9 66.5 110.0 63.5 111.8 60.8 113.6 57.7 114.9M94.5 90.0 94.5 92.0 92.5 94.0 90.0 95.0 87.5 94.8 85.5 96.0 84.0 97.5 82.0 99.5 80.5 102.5 78.5 105.0 76.5 107.7M124.5 61.0 125.0 63.0 126.5 66.0 126.0 69.0 125.5 72.0 126.5 75.0 127.5 76.5M127.5 76.5 124.5 78.0 121.5 80.0 119.5 82.0 121.0 83.8 123.5 86.0 125.0 88.5 124.7 92.0 123.0 94.7M123.0 94.7 121.5 93.8 119.0 92.5 116.0 92.0 113.5 93.5 112.5 97.0 109.0 99.0 105.0 100.2 103.0 99.0 101.2 94.5M128.5 46.8 132.0 46.5 136.0 47.5 139.0 49.5 141.0 52.5 143.5 56.0 146.0 60.0 148.5 64.0 151.0 68.5 153.5 73.0 156.0 77.5 158.5 81.0 161.0 84.0 162.5 87.5 163.5 90.5M163.5 90.5 162.0 90.8 159.0 92.0 155.0 92.5 151.0 93.0 148.0 93.5 145.8 95.5M145.8 95.5 146.5 91.0 147.5 87.0 146.5 83.5 144.0 81.5 140.0 81.0 135.0 81.5 132.0 82.5M132.0 82.5 131.2 80.5 130.0 78.5 127.5 76.5M132.0 82.5 133.5 86.0 135.0 89.5 137.0 93.0 139.0 96.5 140.0 100.0 140.5 103.5 141.0 106.2M123.8 111.9 127.3 111.4 131.3 110.4 135.3 108.9 138.3 107.4 141.0 106.2M121.8 106.2 122.5 110.4 123.8 111.9M122.8 94.7 123.5 99.0 123.3 102.0 121.8 106.2M121.8 106.2 120.8 105.2 118.8 103.9 115.3 103.2 111.3 103.4 109.8 104.9 110.8 106.9 112.8 109.9 112.8 112.9 111.3 115.4 109.8 117.9 108.3 120.4 107.8 122.4M141.0 106.2 141.5 109.4 141.5 113.9 141.3 117.9 139.8 119.4 137.3 120.4 134.8 119.9 132.3 121.4 130.3 124.4 128.8 127.4M123.8 111.9 123.3 114.4 124.8 117.4 125.3 119.9 123.8 122.4 125.3 124.4 127.3 125.9 128.8 127.4M128.8 127.4 129.3 130.4 128.8 133.9 129.8 136.4 130.3 138.9M130.3 138.9 127.8 138.4 125.3 139.4 122.8 138.9 120.3 139.9 118.8 139.4M118.8 139.4 119.8 136.9 119.3 133.9 118.3 130.9 116.8 128.9 115.3 127.4 113.3 127.9 111.3 126.9M111.3 126.9 110.3 124.4 107.8 122.4M145.8 95.5 149.0 96.5 150.0 99.5 152.0 101.0 152.5 104.5 153.5 107.5 155.0 110.0 156.0 111.8M156.0 111.8 155.3 112.6 153.5 113.9 150.7 115.1 147.8 115.3M147.8 115.3 145.2 113.5 142.8 110.0 141.0 106.2M163.5 90.8 165.0 93.0 169.0 94.0 173.0 94.5 176.0 96.5 177.5 99.5 179.0 102.0 182.0 104.0 185.0 105.5 188.0 107.5 190.5 110.0 192.0 112.5 191.0 114.0 188.0 113.2 185.0 112.2 182.0 111.2 179.0 110.7 177.0 111.6 175.0 113.0 173.5 114.0 172.0 113.6 169.5 112.6 167.5 111.2 165.0 110.2 162.0 109.7 159.0 109.7 157.0 110.7 156.0 111.8M147.8 115.3 148.5 119.1 149.5 122.1 150.5 124.6 151.2 126.6 148.5 127.1 145.0 126.6 142.5 127.6 140.0 128.6 139.0 130.6 138.5 133.6 139.0 136.6 138.8 139.1M156.0 111.8 156.3 115.1 159.1 117.5 161.1 120.3 161.9 123.5 160.3 125.9 157.9 128.3 155.1 130.6 152.7 133.3 150.5 136.1 149.5 139.6M149.5 139.6 148.0 138.1 145.0 137.6 143.0 138.1 141.5 139.6 138.8 139.1M156.0 111.8 157.3 112.9 159.5 112.3 162.0 112.2 164.0 113.2 165.8 115.2 167.8 116.6 170.5 116.8 173.0 116.8 175.3 117.6 177.0 120.0 178.5 122.5M178.5 122.5 176.5 124.5 175.5 127.5 176.0 130.0 175.0 132.5 173.5 134.5 172.0 135.5M172.0 135.5 170.0 137.5 168.0 139.5 167.5 142.0 166.0 143.5M166.0 143.5 163.0 144.1 159.0 143.6 155.0 142.6 151.0 141.1 149.5 139.6M178.5 122.5 181.5 122.5 184.5 123.5 187.5 125.0 190.0 126.5 192.5 129.0 194.5 131.5 196.5 134.0 195.5 136.5 193.5 138.5 191.0 140.0 188.0 141.5 185.5 143.5 184.0 144.0M184.0 144.0 182.5 142.0 180.5 140.5 178.0 140.0 176.0 138.0 174.0 136.5 172.0 135.5M166.0 143.5 165.0 146.0 163.5 148.5 162.5 151.0 162.0 153.5M162.0 153.5 164.0 155.5 166.0 157.0 168.5 158.0 170.0 159.0M170.0 159.0 172.5 157.0 175.0 155.5 176.5 153.5 178.0 151.0 180.0 148.5 182.0 146.0 184.0 144.0M175.3 115.0 177.5 113.4 180.5 113.6 183.5 114.6 186.5 116.0 189.5 117.0 192.0 117.6 192.6 119.5 190.0 120.0 187.0 119.6 184.0 118.6 181.0 117.6 178.0 116.8 175.8 116.0ZM138.8 139.1 136.0 138.0 133.0 139.5 130.3 138.9M76.5 107.7 78.0 110.5 80.5 112.0 82.5 114.0 84.0 116.5 86.5 118.0 89.5 117.5 92.5 116.5 95.0 116.5 95.5 119.5 94.5 122.0 93.5 124.0M107.8 122.4 105.3 123.4 102.8 125.4 100.3 127.2 98.0 126.5 96.0 125.0 93.5 124.0M93.5 124.0 92.0 127.0 90.0 130.5 88.5 134.0 86.0 136.5 83.5 138.5 81.5 140.0M81.5 140.0 79.0 139.0 76.0 139.0 72.5 138.0 70.0 136.0 69.0 133.0 69.5 130.5 71.5 128.5 74.0 127.5 75.5 125.5 74.5 123.0 75.0 120.0 73.5 117.0 72.0 114.0 69.6 110.9M54.0 156.5 51.5 155.0 49.0 154.5 47.0 153.0 44.5 153.5 42.0 152.0 40.0 149.0 39.2 146.0 39.0 142.5 40.5 140.0 43.0 138.5 45.5 137.0 47.0 134.5 48.0 131.0 48.5 127.0 48.0 123.0 47.0 119.0 46.2 115.8M80.0 144.5 79.0 146.5 77.5 148.0 75.0 150.0 72.0 152.0 69.0 153.0 66.0 153.0 62.5 152.5 59.5 153.5 56.5 155.0 54.0 156.5M81.5 140.0 80.8 142.0 80.0 144.5M80.0 144.5 81.5 147.5 83.5 150.0 85.5 152.0 88.0 152.8 91.0 152.5 94.5 151.5 96.9 150.2M96.9 150.2 97.0 153.0 97.2 155.2M97.2 155.2 94.3 156.9 91.3 158.9 88.8 160.9 86.8 163.5 85.0 166.0 83.3 167.8 81.5 170.5 80.3 174.0 80.0 178.0 80.3 181.5 79.0 183.5M79.0 183.5 76.0 182.8 74.3 183.3 73.0 185.5 71.0 188.0 68.0 189.5 65.0 190.0 62.5 188.5 61.0 185.0 59.5 182.0 57.5 179.5 55.0 177.5 54.5 174.5 53.5 171.0 52.0 168.0 50.5 165.5 51.0 162.5 52.5 159.5 54.0 156.5M111.3 126.9 109.8 129.4 110.3 133.4 109.8 136.4 110.5 137.6M110.5 137.6 108.3 140.5 105.6 143.0 103.2 145.6 103.5 148.4M103.5 148.4 100.8 147.3 98.3 147.9 96.9 150.2M110.5 137.6 112.8 136.8 115.0 136.9 117.3 138.4 118.8 139.4M118.8 139.4 118.8 143.4 117.8 146.4 116.3 148.9 115.3 151.9 113.8 154.4 111.3 155.9 109.3 157.4 107.3 158.9M107.3 158.9 105.8 155.9 104.8 153.9M104.8 153.9 104.8 150.4 103.5 148.4M104.8 153.9 102.8 155.4 100.3 156.9 98.8 158.4 97.8 156.8 97.2 155.2M107.3 158.9 106.3 161.9 105.8 163.4M105.8 163.4 105.3 164.9 104.8 168.4 103.8 171.4 101.8 173.9 99.3 175.9 96.8 177.4 94.3 178.9 91.8 180.4 89.8 182.2 88.5 184.0M88.5 184.0 87.5 185.5 87.0 188.0 85.5 190.0 83.5 192.0 81.0 193.5 78.5 194.0 77.0 192.5 77.5 190.0 79.0 187.5 80.0 184.8 79.0 183.5M138.8 139.1 141.3 141.0 141.5 143.0 141.0 146.5 140.0 150.0 138.5 152.5 136.5 154.5 134.5 156.0 136.0 158.5 138.5 161.5M138.5 161.5 135.0 163.5 131.0 164.5 128.5 165.0 127.5 167.0 129.0 169.5 128.5 172.5 127.0 174.5M127.0 174.5 124.5 176.0 121.5 177.5 120.5 174.5 118.5 173.0 116.0 171.5 115.0 169.0 112.5 166.5 110.0 165.0 107.5 163.5 105.8 163.4M127.0 174.5 128.5 177.0 128.0 180.0 126.5 183.0 124.5 185.5 122.5 188.0 120.5 190.0 118.5 191.5 117.5 192.2M88.5 184.0 90.5 185.5 93.0 186.5 95.0 188.5 98.0 190.0 101.0 190.3 104.0 191.0 106.0 191.5 109.0 191.0 112.0 191.5 115.0 193.0 117.5 192.2M117.5 192.2 120.0 193.5 123.0 195.0 126.0 196.0 128.5 197.5 130.5 195.5 133.0 194.0 135.5 195.0 138.5 195.5 141.5 194.5 143.5 196.5M133.0 224.5 130.0 225.0 127.5 225.5 126.5 224.0 126.0 220.5 125.0 217.0 123.5 213.5 121.5 210.5 120.0 208.5 117.5 207.5 115.0 206.0 113.0 204.0 112.0 201.5 112.5 198.5 114.5 196.0 116.0 194.0 117.5 192.2M143.5 196.5 145.5 199.0 146.5 202.0 146.5 205.0 147.0 207.0M147.0 207.0 144.0 208.0 141.5 209.5 139.5 211.5 138.0 214.0 136.5 216.5 134.5 218.5 133.5 220.5 134.0 223.0 133.0 224.5M156.5 177.5 155.5 180.0 154.0 183.0 152.0 185.0 150.5 187.5 148.5 189.5 146.5 191.5 145.0 194.0 143.5 196.5M147.0 207.0 149.5 207.5 151.0 210.0 153.0 212.0 155.5 213.0 158.5 211.0 160.0 208.0 161.0 205.0 163.0 203.5 166.0 203.0 168.5 201.5 170.5 199.5 172.5 199.5 174.5 201.5M160.5 237.0 158.5 237.3 157.2 238.3 156.9 240.6 155.9 242.0 154.2 243.0 152.9 244.3 151.2 246.0 149.6 246.3 148.0 244.3 146.3 244.6 144.3 245.0 142.3 244.6 142.0 242.3 141.0 239.6 139.6 237.0 138.0 234.3 136.3 231.6 135.3 229.0 134.3 226.8 133.0 224.5M175.5 208.0 175.0 210.5 174.5 213.5 175.5 216.5 176.5 219.5 176.2 222.5 174.5 225.0 172.0 226.5 169.0 227.5 166.0 229.0 163.5 231.0 162.0 234.0 160.5 237.0M175.5 208.0 177.5 207.5 180.0 206.5 183.0 207.0 186.0 207.5 189.0 208.0 191.5 207.0 194.0 206.5M194.0 206.5 194.5 208.0 193.5 211.5 192.5 214.5 193.0 217.5 191.0 220.5 188.5 222.0 189.5 224.5 188.0 227.0 186.0 229.5 185.0 232.5 186.5 235.0 185.5 238.0 186.0 241.0 184.5 244.0 182.5 246.0 180.0 245.0 177.5 244.0 175.0 244.5 172.5 245.5 169.5 246.0 166.5 246.5 165.0 244.5 163.5 242.0 162.0 239.5 160.5 237.0M174.5 201.5 173.5 204.0 173.0 207.0 173.5 209.5 175.5 208.0M179.0 186.5 180.0 189.5 179.5 192.5 179.5 195.5 178.5 198.0 176.5 199.5 174.5 201.5M156.5 177.5 159.0 179.0 161.5 180.5 163.5 182.5 165.5 183.5 167.5 185.0 170.0 183.5 172.0 182.5 174.5 184.0 176.5 185.5 179.0 186.5M179.0 186.5 181.5 185.5 184.0 184.5 186.5 183.5 189.0 182.0M189.0 182.0 187.5 179.5 185.5 177.0 184.0 174.5 183.5 172.0 184.5 169.5 182.5 167.0 180.5 164.5 179.0 162.0 178.5 160.3M169.5 161.8 171.5 161.5 175.0 161.0 178.5 160.3M169.5 161.8 167.0 162.8 164.5 164.0 163.0 167.5 161.0 171.0 159.0 174.5 156.5 177.5M170.0 159.0 170.8 160.5 169.5 161.8M138.5 161.5 141.5 160.0 144.5 159.0 147.5 158.5 150.0 156.5 153.0 155.5 156.0 154.5 159.0 153.5 162.0 153.5M189.0 182.0 190.5 184.5 192.5 187.0 194.5 187.5 196.5 186.2M178.5 160.3 181.5 157.5 184.5 155.5 187.5 155.0 190.5 156.0 193.5 158.0 196.5 160.0 199.5 161.5 202.5 162.5 205.5 163.0 208.5 162.5 207.0 164.5 204.5 166.5 202.0 168.5 200.0 171.0 198.5 173.5 196.5 176.0 195.5 177.5 197.5 177.0 200.0 175.5 202.0 173.5 204.0 171.5 206.0 170.5 207.5 172.0 207.0 174.5 208.5 177.0 209.5 179.5 208.0 181.0 206.5 182.5 205.0 181.0 204.0 179.0 202.5 178.0 201.5 180.0 202.0 182.5 200.5 183.5 198.5 183.0 197.0 184.8 196.5 186.2M196.5 186.2 199.0 185.5 202.0 186.5 204.0 188.5 204.5 191.0 203.0 193.0 204.0 195.5 202.5 197.5 201.0 198.5 202.0 201.0 204.5 203.0 206.0 205.5 206.5 208.5 205.0 210.0 203.0 210.0 201.0 211.0 200.0 213.0 199.5 215.5 198.0 217.5 196.5 217.0 196.0 214.5 197.0 212.5 195.5 211.5 194.0 212.5 193.5 210.0 194.5 208.0 194.0 206.5M205.3 156.2 207.2 155.4 209.8 156.0 211.8 157.6 212.3 159.3 210.3 160.0 207.6 159.2 205.8 157.8ZM206.2 150.3 207.6 149.8 208.6 150.8 207.8 151.8 206.5 151.5ZM211.6 136.5 213.5 136.5 213.5 137.5 211.6 137.5Z"/>
</g>
<g class="rl">
<text transform="translate(111.6 49.1) scale(1 1.2)">LYG</text>
<text transform="translate(78.9 64.1) scale(1 1.2)">XZ</text>
<text transform="translate(74.0 76.9) scale(1 1.2)">SuZ</text>
<text transform="translate(101.5 75.3) scale(1 1.2)">SQ</text>
<text transform="translate(115.7 79.0) scale(1 1.2)">HA</text>
<text transform="translate(138.5 74.0) scale(1 1.2)">YC</text>
<text transform="translate(60.7 81.5) scale(1 1.2)">HB</text>
<text transform="translate(49.9 91.5) scale(1 1.2)">BZ</text>
<text transform="translate(77.3 96.5) scale(1 1.2)">BB</text>
<text transform="translate(130.6 97.4) scale(1 1.2)">YZ</text>
<text transform="translate(145.6 105.3) scale(1 1.2)">TZ</text>
<text transform="translate(164.4 105.7) scale(1 1.2)">NT</text>
<text transform="translate(38.3 108.2) scale(1 1.2)">FY</text>
<text transform="translate(65.2 109.0) scale(1 1.2)">HN</text>
<text transform="translate(93.1 109.3) scale(1 1.2)">ChuZ</text>
<text transform="translate(83.4 128.2) scale(1 1.2)">HF</text>
<text transform="translate(116.5 123.2) scale(1 1.2)">NJ</text>
<text transform="translate(134.8 117.7) scale(1 1.2)">ZJ</text>
<text transform="translate(138.9 127.4) scale(1 1.2)">CZ</text>
<text transform="translate(156.0 124.8) scale(1 1.2)">WX</text>
<text transform="translate(168.2 131.4) scale(1 1.2)">SZ</text>
<text transform="translate(184.8 134.8) scale(1 1.2)">SH</text>
<text transform="translate(58.2 138.2) scale(1 1.2)">LA</text>
<text transform="translate(97.3 141.1) scale(1 1.2)">CH</text>
<text transform="translate(115.4 135.4) scale(1 1.2)">MAS</text>
<text transform="translate(111.2 149.8) scale(1 1.2)">WH</text>
<text transform="translate(100.8 155.2) scale(1 1.2)">TL</text>
<text transform="translate(151.1 150.2) scale(1 1.2)">HuZ</text>
<text transform="translate(171.0 149.8) scale(1 1.2)">JX</text>
<text transform="translate(125.2 159.0) scale(1 1.2)">XC</text>
<text transform="translate(66.8 169.8) scale(1 1.2)">AQ</text>
<text transform="translate(90.2 175.6) scale(1 1.2)">ChiZ</text>
<text transform="translate(208.7 159.9) scale(1 1.2)">ZS</text>
<text transform="translate(191.5 173.1) scale(1 1.2)">NB</text>
<text transform="translate(173.2 176.5) scale(1 1.2)">SX</text>
<text transform="translate(109.4 183.1) scale(1 1.2)">HS</text>
<text transform="translate(141.0 179.0) scale(1 1.2)">HZ</text>
<text transform="translate(163.8 196.5) scale(1 1.2)">JH</text>
<text transform="translate(189.3 199.5) scale(1 1.2)">TaiZ</text>
<text transform="translate(131.3 208.0) scale(1 1.2)">QZ</text>
<text transform="translate(150.0 225.5) scale(1 1.2)">LS</text>
<text transform="translate(179.9 229.0) scale(1 1.2)">WZ</text>
</g>
<rect x="17.4" y="13.5" width="201.7" height="251.8" fill="none" stroke="#3a3a3a" stroke-width="0.9"/>
<text class="ti" x="23.1" y="24.8">a. population size</text>
<text class="t" text-anchor="middle" x="35.0" y="11.2">116°0'0"E</text>
<text class="t" text-anchor="middle" x="81.2" y="11.2">118°0'0"E</text>
<text class="t" text-anchor="middle" x="127.5" y="11.2">120°0'0"E</text>
<text class="t" text-anchor="middle" x="173.8" y="11.2">122°0'0"E</text>
<text class="t" text-anchor="middle" transform="translate(14.5 20.8) rotate(-90)">36°0'0"N</text>
<text class="t" text-anchor="middle" transform="translate(14.5 63.4) rotate(-90)">34°30'0"N</text>
<text class="t" text-anchor="middle" transform="translate(14.5 106.1) rotate(-90)">33°0'0"N</text>
<text class="t" text-anchor="middle" transform="translate(14.5 148.6) rotate(-90)">31°30'0"N</text>
<text class="t" text-anchor="middle" transform="translate(14.5 191.3) rotate(-90)">30°0'0"N</text>
<text class="t" text-anchor="middle" transform="translate(14.5 234.0) rotate(-90)">28°30'0"N</text>
<path d="M35.0 8.9 V13.9 M81.2 8.9 V13.9 M127.5 8.9 V13.9 M173.8 8.9 V13.9 M13.4 20.8 H17.8 M13.4 63.4 H17.8 M13.4 106.1 H17.8 M13.4 148.6 H17.8 M13.4 191.3 H17.8 M13.4 234.0 H17.8" stroke="#333" stroke-width="0.6" fill="none"/>
<polygon points="208.0,25.3 212.5,38.2 208.0,35.5 203.5,38.2" fill="#000"/>
<text x="208.0" y="21.9" text-anchor="middle" style="font-family:'Liberation Serif',serif;font-size:4.2px;fill:#333">N</text>
<path d="M147.1 258.2 V261.8 H198.4 V258.2 M172.8 261.8 V259.5" stroke="#2a2a2a" stroke-width="0.7" fill="none"/>
<text class="sb" x="147.1" y="254.9">0</text>
<text class="sb" x="172.8" y="254.9">100</text>
<text class="sb" x="193.8" y="254.9" text-anchor="start" style="text-anchor:start">200 km</text>
<text class="lt" x="25.7" y="204.0">Regression Coefficient</text>
<rect x="24.3" y="209.2" width="16.2" height="7.6" fill="#4474bc"/>
<text class="lg" x="43.9" y="215.3" xml:space="preserve">-0.462 - -0.358</text>
<rect x="24.3" y="220.2" width="16.2" height="7.6" fill="#a1b3c0"/>
<text class="lg" x="43.9" y="226.3" xml:space="preserve">-0.357 - -0.159</text>
<rect x="24.3" y="231.2" width="16.2" height="7.6" fill="#fffdbf"/>
<text class="lg" x="43.9" y="237.3" xml:space="preserve">-0.158 - -0.024</text>
<rect x="24.3" y="242.2" width="16.2" height="7.6" fill="#f4976a"/>
<text class="lg" x="43.9" y="248.3" xml:space="preserve">-0.023 -  0.058</text>
<rect x="24.3" y="253.2" width="16.2" height="7.6" fill="#e02e25"/>
<text class="lg" x="43.9" y="259.3" xml:space="preserve"> 0.059 -  0.171</text>
</g>
<g id="panel-b">
<g transform="translate(221.00 -0.60)">
<g stroke-width="0.35" stroke-linejoin="round">
<polygon points="48.8,54.0 48.5,53.0 48.8,50.0 51.0,47.5 54.0,46.5 58.0,46.2 61.0,47.5 63.5,50.0 65.5,52.5 67.0,55.0 69.0,56.5 70.0,54.5 72.5,54.0 74.5,55.0 76.5,54.0 78.5,52.0 81.0,51.2 83.5,49.0 86.5,48.8 89.0,50.5 90.5,53.5 92.5,54.8 95.0,54.5 99.0,54.0 102.0,55.0 103.5,54.3 101.5,58.0 100.0,60.0 96.0,61.2 92.0,62.2 89.8,63.2 90.2,65.5 91.5,68.0 92.8,70.5 93.2,72.5 90.0,73.2 87.5,73.7 85.7,74.7 84.2,74.7 83.5,72.3 82.0,69.5 78.4,67.5 77.0,67.5 74.5,66.8 72.0,67.5 69.0,67.5 66.5,66.8 65.0,65.0 63.5,62.5 61.5,60.5 58.5,59.0 55.0,57.5 52.0,56.0 49.5,55.0" fill="#4474bc" stroke="#4474bc"/>
<polygon points="92.5,54.8 93.5,54.5 96.5,53.0 96.5,45.5 99.0,45.0 103.0,40.5 103.5,35.0 108.0,33.5 111.0,31.5 112.5,33.0 112.8,37.0 115.0,40.0 117.5,40.5 120.0,43.0 122.5,45.0 125.0,46.0 127.0,46.5 128.5,46.8 127.5,50.0 126.5,53.0 124.0,54.5 123.5,57.0 125.0,59.5 124.5,61.0 121.5,61.5 118.5,61.2 116.0,60.5 115.0,58.5 113.5,55.0 111.5,52.5 108.5,53.0 105.0,54.0 103.5,54.3 102.0,55.0 99.0,54.0 95.0,54.5" fill="#4474bc" stroke="#4474bc"/>
<polygon points="103.5,54.3 105.0,54.0 108.5,53.0 111.5,52.5 113.5,55.0 115.0,58.5 116.0,60.5 116.5,61.5 115.8,63.5 114.5,65.0 112.0,66.5 110.0,68.0 109.5,71.0 110.0,74.0 109.5,77.0 110.5,80.0 110.0,83.0 108.5,85.0 106.0,87.0 104.3,87.9 99.0,88.3 98.8,88.8 104.1,88.7 103.8,90.0 102.5,92.5 101.2,94.5 99.8,93.0 99.0,91.0 98.5,89.0 96.5,89.7 94.5,90.0 93.5,88.5 92.0,86.8 92.5,84.0 93.0,80.0 92.5,77.0 93.0,74.0 93.2,72.5 92.8,70.5 91.5,68.0 90.2,65.5 89.8,63.2 92.0,62.2 96.0,61.2 100.0,60.0 101.5,58.0" fill="#4474bc" stroke="#4474bc"/>
<polygon points="48.8,54.0 49.5,55.0 52.0,56.0 55.0,57.5 58.5,59.0 61.5,60.5 63.5,62.5 65.0,65.0 66.5,66.8 69.0,67.5 72.0,67.5 74.5,66.8 77.0,67.5 78.4,67.5 82.0,69.5 83.5,72.3 84.2,74.7 85.7,74.7 87.5,73.7 90.0,73.2 93.2,72.5 93.0,74.0 92.5,77.0 93.0,80.0 92.5,84.0 92.0,86.8 87.9,88.7 85.3,89.6 81.8,88.3 79.1,85.6 76.4,83.8 73.7,84.7 71.5,87.9 69.3,90.1 66.5,89.6 66.6,87.0 66.7,84.0 66.5,81.0 66.0,78.0 66.2,75.0 65.7,72.0 65.0,68.5 61.5,70.5 58.5,71.5 56.5,72.0 55.5,70.0 54.5,67.5 52.5,65.0 50.0,63.5 48.0,61.5 45.5,60.5 45.2,58.5 47.0,56.5" fill="#4474bc" stroke="#4474bc"/>
<polygon points="56.5,72.0 58.5,71.5 61.5,70.5 65.0,68.5 65.7,72.0 66.2,75.0 66.0,78.0 66.5,81.0 66.7,84.0 66.6,87.0 66.5,89.6 65.8,89.7 64.4,87.1 62.2,86.1 58.6,85.6 56.4,81.6 54.8,78.5 54.6,77.0 55.8,75.0 56.2,73.0" fill="#4474bc" stroke="#4474bc"/>
<polygon points="36.0,88.5 35.5,86.0 34.5,83.0 33.5,79.0 33.0,75.5 34.5,73.5 37.0,73.0 39.5,74.5 42.5,75.5 44.5,78.0 46.5,81.0 48.5,81.0 51.0,79.5 53.5,77.5 54.8,78.5 56.4,81.6 58.6,85.6 62.2,86.1 64.4,87.1 65.8,89.7 64.8,94.1 65.3,96.8 67.0,99.4 63.5,101.7 60.4,102.1 56.8,99.5 55.2,102.2 52.5,102.2 50.0,101.0 47.0,99.5 44.5,97.5 43.0,95.0 42.5,92.0 41.0,90.0 38.5,89.0" fill="#4474bc" stroke="#4474bc"/>
<polygon points="46.2,115.8 44.5,116.0 42.5,116.0 40.5,117.0 38.0,117.5 35.5,117.0 33.0,116.5 30.5,115.5 29.0,113.0 28.5,110.5 27.5,108.0 25.0,107.0 22.5,106.0 21.0,104.5 20.5,102.2 21.5,101.8 24.0,102.5 27.0,102.0 29.0,100.0 29.5,96.0 30.0,92.0 31.5,89.0 36.0,88.5 38.5,89.0 41.0,90.0 42.5,92.0 43.0,95.0 44.5,97.5 47.0,99.5 50.0,101.0 52.5,102.2 55.2,102.2 56.8,99.5 57.0,103.0 58.0,107.0 58.5,111.0 57.7,114.9 55.5,115.8 52.4,114.9 48.8,114.5" fill="#4474bc" stroke="#4474bc"/>
<polygon points="56.8,99.5 60.4,102.1 63.5,101.7 67.0,99.4 70.0,101.8 72.5,104.0 75.0,106.0 76.5,107.7 75.4,108.3 71.9,109.6 69.6,110.9 66.5,110.0 63.5,111.8 60.8,113.6 57.7,114.9 58.5,111.0 58.0,107.0 57.0,103.0" fill="#4474bc" stroke="#4474bc"/>
<polygon points="66.5,89.6 69.3,90.1 71.5,87.9 73.7,84.7 76.4,83.8 79.1,85.6 81.8,88.3 85.3,89.6 87.9,88.7 92.0,86.8 93.5,88.5 94.5,90.0 94.5,92.0 92.5,94.0 90.0,95.0 87.5,94.8 85.5,96.0 84.0,97.5 82.0,99.5 80.5,102.5 78.5,105.0 76.5,107.7 75.0,106.0 72.5,104.0 70.0,101.8 67.0,99.4 65.3,96.8 64.8,94.1 65.8,89.7" fill="#4474bc" stroke="#4474bc"/>
<polygon points="116.0,60.5 118.5,61.2 121.5,61.5 124.5,61.0 125.0,63.0 126.5,66.0 126.0,69.0 125.5,72.0 126.5,75.0 127.5,76.5 124.5,78.0 121.5,80.0 119.5,82.0 121.0,83.8 123.5,86.0 125.0,88.5 124.7,92.0 123.0,94.7 121.5,93.8 119.0,92.5 116.0,92.0 113.5,93.5 112.5,97.0 109.0,99.0 105.0,100.2 103.0,99.0 101.2,94.5 102.5,92.5 103.8,90.0 104.1,88.7 98.8,88.8 99.0,88.3 104.3,87.9 106.0,87.0 108.5,85.0 110.0,83.0 110.5,80.0 109.5,77.0 110.0,74.0 109.5,71.0 110.0,68.0 112.0,66.5 114.5,65.0 115.8,63.5 116.5,61.5" fill="#4474bc" stroke="#4474bc"/>
<polygon points="128.5,46.8 132.0,46.5 136.0,47.5 139.0,49.5 141.0,52.5 143.5,56.0 146.0,60.0 148.5,64.0 151.0,68.5 153.5,73.0 156.0,77.5 158.5,81.0 161.0,84.0 162.5,87.5 163.5,90.5 162.0,90.8 159.0,92.0 155.0,92.5 151.0,93.0 148.0,93.5 145.8,95.5 146.5,91.0 147.5,87.0 146.5,83.5 144.0,81.5 140.0,81.0 135.0,81.5 132.0,82.5 131.2,80.5 130.0,78.5 127.5,76.5 126.5,75.0 125.5,72.0 126.0,69.0 126.5,66.0 125.0,63.0 124.5,61.0 125.0,59.5 123.5,57.0 124.0,54.5 126.5,53.0 127.5,50.0" fill="#4474bc" stroke="#4474bc"/>
<polygon points="127.5,76.5 130.0,78.5 131.2,80.5 132.0,82.5 133.5,86.0 135.0,89.5 137.0,93.0 139.0,96.5 140.0,100.0 140.5,103.5 141.0,106.2 138.3,107.4 135.3,108.9 131.3,110.4 127.3,111.4 123.8,111.9 122.5,110.4 121.8,106.2 123.3,102.0 123.5,99.0 122.8,94.7 123.0,94.7 124.7,92.0 125.0,88.5 123.5,86.0 121.0,83.8 119.5,82.0 121.5,80.0 124.5,78.0" fill="#4474bc" stroke="#4474bc"/>
<polygon points="132.0,82.5 135.0,81.5 140.0,81.0 144.0,81.5 146.5,83.5 147.5,87.0 146.5,91.0 145.8,95.5 149.0,96.5 150.0,99.5 152.0,101.0 152.5,104.5 153.5,107.5 155.0,110.0 156.0,111.8 155.3,112.6 153.5,113.9 150.7,115.1 147.8,115.3 145.2,113.5 142.8,110.0 141.0,106.2 140.5,103.5 140.0,100.0 139.0,96.5 137.0,93.0 135.0,89.5 133.5,86.0" fill="#a1b3c0" stroke="#a1b3c0"/>
<polygon points="163.5,90.8 165.0,93.0 169.0,94.0 173.0,94.5 176.0,96.5 177.5,99.5 179.0,102.0 182.0,104.0 185.0,105.5 188.0,107.5 190.5,110.0 192.0,112.5 191.0,114.0 188.0,113.2 185.0,112.2 182.0,111.2 179.0,110.7 177.0,111.6 175.0,113.0 173.5,114.0 172.0,113.6 169.5,112.6 167.5,111.2 165.0,110.2 162.0,109.7 159.0,109.7 157.0,110.7 156.0,111.8 155.0,110.0 153.5,107.5 152.5,104.5 152.0,101.0 150.0,99.5 149.0,96.5 145.8,95.5 148.0,93.5 151.0,93.0 155.0,92.5 159.0,92.0 162.0,90.8 163.5,90.5" fill="#a1b3c0" stroke="#a1b3c0"/>
<polygon points="94.5,90.0 96.5,89.7 98.5,89.0 99.0,91.0 99.8,93.0 101.2,94.5 103.0,99.0 105.0,100.2 109.0,99.0 112.5,97.0 113.5,93.5 116.0,92.0 119.0,92.5 121.5,93.8 123.0,94.7 122.8,94.7 123.5,99.0 123.3,102.0 121.8,106.2 120.8,105.2 118.8,103.9 115.3,103.2 111.3,103.4 109.8,104.9 110.8,106.9 112.8,109.9 112.8,112.9 111.3,115.4 109.8,117.9 108.3,120.4 107.8,122.4 105.3,123.4 102.8,125.4 100.3,127.2 98.0,126.5 96.0,125.0 93.5,124.0 94.5,122.0 95.5,119.5 95.0,116.5 92.5,116.5 89.5,117.5 86.5,118.0 84.0,116.5 82.5,114.0 80.5,112.0 78.0,110.5 76.5,107.7 78.5,105.0 80.5,102.5 82.0,99.5 84.0,97.5 85.5,96.0 87.5,94.8 90.0,95.0 92.5,94.0 94.5,92.0" fill="#4474bc" stroke="#4474bc"/>
<polygon points="76.5,107.7 78.0,110.5 80.5,112.0 82.5,114.0 84.0,116.5 86.5,118.0 89.5,117.5 92.5,116.5 95.0,116.5 95.5,119.5 94.5,122.0 93.5,124.0 92.0,127.0 90.0,130.5 88.5,134.0 86.0,136.5 83.5,138.5 81.5,140.0 79.0,139.0 76.0,139.0 72.5,138.0 70.0,136.0 69.0,133.0 69.5,130.5 71.5,128.5 74.0,127.5 75.5,125.5 74.5,123.0 75.0,120.0 73.5,117.0 72.0,114.0 69.6,110.9 71.9,109.6 75.4,108.3" fill="#a1b3c0" stroke="#a1b3c0"/>
<polygon points="46.2,115.8 48.8,114.5 52.4,114.9 55.5,115.8 57.7,114.9 60.8,113.6 63.5,111.8 66.5,110.0 69.6,110.9 72.0,114.0 73.5,117.0 75.0,120.0 74.5,123.0 75.5,125.5 74.0,127.5 71.5,128.5 69.5,130.5 69.0,133.0 70.0,136.0 72.5,138.0 76.0,139.0 79.0,139.0 81.5,140.0 80.8,142.0 80.0,144.5 79.0,146.5 77.5,148.0 75.0,150.0 72.0,152.0 69.0,153.0 66.0,153.0 62.5,152.5 59.5,153.5 56.5,155.0 54.0,156.5 51.5,155.0 49.0,154.5 47.0,153.0 44.5,153.5 42.0,152.0 40.0,149.0 39.2,146.0 39.0,142.5 40.5,140.0 43.0,138.5 45.5,137.0 47.0,134.5 48.0,131.0 48.5,127.0 48.0,123.0 47.0,119.0" fill="#a1b3c0" stroke="#a1b3c0"/>
<polygon points="121.8,106.2 122.5,110.4 123.8,111.9 123.3,114.4 124.8,117.4 125.3,119.9 123.8,122.4 125.3,124.4 127.3,125.9 128.8,127.4 129.3,130.4 128.8,133.9 129.8,136.4 130.3,138.9 127.8,138.4 125.3,139.4 122.8,138.9 120.3,139.9 118.8,139.4 119.8,136.9 119.3,133.9 118.3,130.9 116.8,128.9 115.3,127.4 113.3,127.9 111.3,126.9 110.3,124.4 107.8,122.4 108.3,120.4 109.8,117.9 111.3,115.4 112.8,112.9 112.8,109.9 110.8,106.9 109.8,104.9 111.3,103.4 115.3,103.2 118.8,103.9 120.8,105.2" fill="#a1b3c0" stroke="#a1b3c0"/>
<polygon points="123.8,111.9 127.3,111.4 131.3,110.4 135.3,108.9 138.3,107.4 141.0,106.2 141.5,109.4 141.5,113.9 141.3,117.9 139.8,119.4 137.3,120.4 134.8,119.9 132.3,121.4 130.3,124.4 128.8,127.4 127.3,125.9 125.3,124.4 123.8,122.4 125.3,119.9 124.8,117.4 123.3,114.4" fill="#a1b3c0" stroke="#a1b3c0"/>
<polygon points="141.0,106.2 142.8,110.0 145.2,113.5 147.8,115.3 148.5,119.1 149.5,122.1 150.5,124.6 151.2,126.6 148.5,127.1 145.0,126.6 142.5,127.6 140.0,128.6 139.0,130.6 138.5,133.6 139.0,136.6 138.8,139.1 136.0,138.0 133.0,139.5 130.3,138.9 129.8,136.4 128.8,133.9 129.3,130.4 128.8,127.4 130.3,124.4 132.3,121.4 134.8,119.9 137.3,120.4 139.8,119.4 141.3,117.9 141.5,113.9 141.5,109.4" fill="#a1b3c0" stroke="#a1b3c0"/>
<polygon points="147.8,115.3 150.7,115.1 153.5,113.9 155.3,112.6 156.0,111.8 156.3,115.1 159.1,117.5 161.1,120.3 161.9,123.5 160.3,125.9 157.9,128.3 155.1,130.6 152.7,133.3 150.5,136.1 149.5,139.6 148.0,138.1 145.0,137.6 143.0,138.1 141.5,139.6 138.8,139.1 139.0,136.6 138.5,133.6 139.0,130.6 140.0,128.6 142.5,127.6 145.0,126.6 148.5,127.1 151.2,126.6 150.5,124.6 149.5,122.1 148.5,119.1" fill="#fffdbf" stroke="#fffdbf"/>
<polygon points="156.0,111.8 157.3,112.9 159.5,112.3 162.0,112.2 164.0,113.2 165.8,115.2 167.8,116.6 170.5,116.8 173.0,116.8 175.3,117.6 177.0,120.0 178.5,122.5 176.5,124.5 175.5,127.5 176.0,130.0 175.0,132.5 173.5,134.5 172.0,135.5 170.0,137.5 168.0,139.5 167.5,142.0 166.0,143.5 163.0,144.1 159.0,143.6 155.0,142.6 151.0,141.1 149.5,139.6 150.5,136.1 152.7,133.3 155.1,130.6 157.9,128.3 160.3,125.9 161.9,123.5 161.1,120.3 159.1,117.5 156.3,115.1" fill="#fffdbf" stroke="#fffdbf"/>
<polygon points="178.5,122.5 181.5,122.5 184.5,123.5 187.5,125.0 190.0,126.5 192.5,129.0 194.5,131.5 196.5,134.0 195.5,136.5 193.5,138.5 191.0,140.0 188.0,141.5 185.5,143.5 184.0,144.0 182.5,142.0 180.5,140.5 178.0,140.0 176.0,138.0 174.0,136.5 172.0,135.5 173.5,134.5 175.0,132.5 176.0,130.0 175.5,127.5 176.5,124.5" fill="#fffdbf" stroke="#fffdbf"/>
<polygon points="175.3,115.0 177.5,113.4 180.5,113.6 183.5,114.6 186.5,116.0 189.5,117.0 192.0,117.6 192.6,119.5 190.0,120.0 187.0,119.6 184.0,118.6 181.0,117.6 178.0,116.8 175.8,116.0" fill="#fffdbf" stroke="#fffdbf"/>
<polygon points="166.0,143.5 167.5,142.0 168.0,139.5 170.0,137.5 172.0,135.5 174.0,136.5 176.0,138.0 178.0,140.0 180.5,140.5 182.5,142.0 184.0,144.0 182.0,146.0 180.0,148.5 178.0,151.0 176.5,153.5 175.0,155.5 172.5,157.0 170.0,159.0 168.5,158.0 166.0,157.0 164.0,155.5 162.0,153.5 162.5,151.0 163.5,148.5 165.0,146.0" fill="#f4976a" stroke="#f4976a"/>
<polygon points="93.5,124.0 96.0,125.0 98.0,126.5 100.3,127.2 102.8,125.4 105.3,123.4 107.8,122.4 110.3,124.4 111.3,126.9 109.8,129.4 110.3,133.4 109.8,136.4 110.5,137.6 108.3,140.5 105.6,143.0 103.2,145.6 103.5,148.4 100.8,147.3 98.3,147.9 96.9,150.2 94.5,151.5 91.0,152.5 88.0,152.8 85.5,152.0 83.5,150.0 81.5,147.5 80.0,144.5 80.8,142.0 81.5,140.0 83.5,138.5 86.0,136.5 88.5,134.0 90.0,130.5 92.0,127.0" fill="#a1b3c0" stroke="#a1b3c0"/>
<polygon points="111.3,126.9 113.3,127.9 115.3,127.4 116.8,128.9 118.3,130.9 119.3,133.9 119.8,136.9 118.8,139.4 117.3,138.4 115.0,136.9 112.8,136.8 110.5,137.6 109.8,136.4 110.3,133.4 109.8,129.4" fill="#a1b3c0" stroke="#a1b3c0"/>
<polygon points="110.5,137.6 112.8,136.8 115.0,136.9 117.3,138.4 118.8,139.4 118.8,143.4 117.8,146.4 116.3,148.9 115.3,151.9 113.8,154.4 111.3,155.9 109.3,157.4 107.3,158.9 105.8,155.9 104.8,153.9 104.8,150.4 103.5,148.4 103.2,145.6 105.6,143.0 108.3,140.5" fill="#fffdbf" stroke="#fffdbf"/>
<polygon points="96.9,150.2 98.3,147.9 100.8,147.3 103.5,148.4 104.8,150.4 104.8,153.9 102.8,155.4 100.3,156.9 98.8,158.4 97.8,156.8 97.2,155.2 97.0,153.0" fill="#fffdbf" stroke="#fffdbf"/>
<polygon points="54.0,156.5 56.5,155.0 59.5,153.5 62.5,152.5 66.0,153.0 69.0,153.0 72.0,152.0 75.0,150.0 77.5,148.0 79.0,146.5 80.0,144.5 81.5,147.5 83.5,150.0 85.5,152.0 88.0,152.8 91.0,152.5 94.5,151.5 96.9,150.2 97.0,153.0 97.2,155.2 94.3,156.9 91.3,158.9 88.8,160.9 86.8,163.5 85.0,166.0 83.3,167.8 81.5,170.5 80.3,174.0 80.0,178.0 80.3,181.5 79.0,183.5 76.0,182.8 74.3,183.3 73.0,185.5 71.0,188.0 68.0,189.5 65.0,190.0 62.5,188.5 61.0,185.0 59.5,182.0 57.5,179.5 55.0,177.5 54.5,174.5 53.5,171.0 52.0,168.0 50.5,165.5 51.0,162.5 52.5,159.5" fill="#f4976a" stroke="#f4976a"/>
<polygon points="97.2,155.2 97.8,156.8 98.8,158.4 100.3,156.9 102.8,155.4 104.8,153.9 105.8,155.9 107.3,158.9 106.3,161.9 105.8,163.4 105.3,164.9 104.8,168.4 103.8,171.4 101.8,173.9 99.3,175.9 96.8,177.4 94.3,178.9 91.8,180.4 89.8,182.2 88.5,184.0 87.5,185.5 87.0,188.0 85.5,190.0 83.5,192.0 81.0,193.5 78.5,194.0 77.0,192.5 77.5,190.0 79.0,187.5 80.0,184.8 79.0,183.5 80.3,181.5 80.0,178.0 80.3,174.0 81.5,170.5 83.3,167.8 85.0,166.0 86.8,163.5 88.8,160.9 91.3,158.9 94.3,156.9" fill="#e02e25" stroke="#e02e25"/>
<polygon points="118.8,139.4 120.3,139.9 122.8,138.9 125.3,139.4 127.8,138.4 130.3,138.9 133.0,139.5 136.0,138.0 138.8,139.1 141.3,141.0 141.5,143.0 141.0,146.5 140.0,150.0 138.5,152.5 136.5,154.5 134.5,156.0 136.0,158.5 138.5,161.5 135.0,163.5 131.0,164.5 128.5,165.0 127.5,167.0 129.0,169.5 128.5,172.5 127.0,174.5 124.5,176.0 121.5,177.5 120.5,174.5 118.5,173.0 116.0,171.5 115.0,169.0 112.5,166.5 110.0,165.0 107.5,163.5 105.8,163.4 106.3,161.9 107.3,158.9 109.3,157.4 111.3,155.9 113.8,154.4 115.3,151.9 116.3,148.9 117.8,146.4 118.8,143.4" fill="#f4976a" stroke="#f4976a"/>
<polygon points="138.8,139.1 141.5,139.6 143.0,138.1 145.0,137.6 148.0,138.1 149.5,139.6 151.0,141.1 155.0,142.6 159.0,143.6 163.0,144.1 166.0,143.5 165.0,146.0 163.5,148.5 162.5,151.0 162.0,153.5 159.0,153.5 156.0,154.5 153.0,155.5 150.0,156.5 147.5,158.5 144.5,159.0 141.5,160.0 138.5,161.5 136.0,158.5 134.5,156.0 136.5,154.5 138.5,152.5 140.0,150.0 141.0,146.5 141.5,143.0 141.3,141.0" fill="#f4976a" stroke="#f4976a"/>
<polygon points="105.8,163.4 107.5,163.5 110.0,165.0 112.5,166.5 115.0,169.0 116.0,171.5 118.5,173.0 120.5,174.5 121.5,177.5 124.5,176.0 127.0,174.5 128.5,177.0 128.0,180.0 126.5,183.0 124.5,185.5 122.5,188.0 120.5,190.0 118.5,191.5 117.5,192.2 115.0,193.0 112.0,191.5 109.0,191.0 106.0,191.5 104.0,191.0 101.0,190.3 98.0,190.0 95.0,188.5 93.0,186.5 90.5,185.5 88.5,184.0 89.8,182.2 91.8,180.4 94.3,178.9 96.8,177.4 99.3,175.9 101.8,173.9 103.8,171.4 104.8,168.4 105.3,164.9" fill="#e02e25" stroke="#e02e25"/>
<polygon points="127.0,174.5 128.5,172.5 129.0,169.5 127.5,167.0 128.5,165.0 131.0,164.5 135.0,163.5 138.5,161.5 141.5,160.0 144.5,159.0 147.5,158.5 150.0,156.5 153.0,155.5 156.0,154.5 159.0,153.5 162.0,153.5 164.0,155.5 166.0,157.0 168.5,158.0 170.0,159.0 170.8,160.5 169.5,161.8 167.0,162.8 164.5,164.0 163.0,167.5 161.0,171.0 159.0,174.5 156.5,177.5 155.5,180.0 154.0,183.0 152.0,185.0 150.5,187.5 148.5,189.5 146.5,191.5 145.0,194.0 143.5,196.5 141.5,194.5 138.5,195.5 135.5,195.0 133.0,194.0 130.5,195.5 128.5,197.5 126.0,196.0 123.0,195.0 120.0,193.5 117.5,192.2 118.5,191.5 120.5,190.0 122.5,188.0 124.5,185.5 126.5,183.0 128.0,180.0 128.5,177.0" fill="#e02e25" stroke="#e02e25"/>
<polygon points="169.5,161.8 171.5,161.5 175.0,161.0 178.5,160.3 179.0,162.0 180.5,164.5 182.5,167.0 184.5,169.5 183.5,172.0 184.0,174.5 185.5,177.0 187.5,179.5 189.0,182.0 186.5,183.5 184.0,184.5 181.5,185.5 179.0,186.5 176.5,185.5 174.5,184.0 172.0,182.5 170.0,183.5 167.5,185.0 165.5,183.5 163.5,182.5 161.5,180.5 159.0,179.0 156.5,177.5 159.0,174.5 161.0,171.0 163.0,167.5 164.5,164.0 167.0,162.8" fill="#f4976a" stroke="#f4976a"/>
<polygon points="178.5,160.3 181.5,157.5 184.5,155.5 187.5,155.0 190.5,156.0 193.5,158.0 196.5,160.0 199.5,161.5 202.5,162.5 205.5,163.0 208.5,162.5 207.0,164.5 204.5,166.5 202.0,168.5 200.0,171.0 198.5,173.5 196.5,176.0 195.5,177.5 197.5,177.0 200.0,175.5 202.0,173.5 204.0,171.5 206.0,170.5 207.5,172.0 207.0,174.5 208.5,177.0 209.5,179.5 208.0,181.0 206.5,182.5 205.0,181.0 204.0,179.0 202.5,178.0 201.5,180.0 202.0,182.5 200.5,183.5 198.5,183.0 197.0,184.8 196.5,186.2 194.5,187.5 192.5,187.0 190.5,184.5 189.0,182.0 187.5,179.5 185.5,177.0 184.0,174.5 183.5,172.0 184.5,169.5 182.5,167.0 180.5,164.5 179.0,162.0" fill="#f4976a" stroke="#f4976a"/>
<polygon points="205.3,156.2 207.2,155.4 209.8,156.0 211.8,157.6 212.3,159.3 210.3,160.0 207.6,159.2 205.8,157.8" fill="#f4976a" stroke="#f4976a"/>
<polygon points="206.2,150.3 207.6,149.8 208.6,150.8 207.8,151.8 206.5,151.5" fill="#f4976a" stroke="#f4976a"/>
<polygon points="211.6,136.5 213.5,136.5 213.5,137.5 211.6,137.5" fill="#f4976a" stroke="#f4976a"/>
<polygon points="117.5,192.2 120.0,193.5 123.0,195.0 126.0,196.0 128.5,197.5 130.5,195.5 133.0,194.0 135.5,195.0 138.5,195.5 141.5,194.5 143.5,196.5 145.5,199.0 146.5,202.0 146.5,205.0 147.0,207.0 144.0,208.0 141.5,209.5 139.5,211.5 138.0,214.0 136.5,216.5 134.5,218.5 133.5,220.5 134.0,223.0 133.0,224.5 130.0,225.0 127.5,225.5 126.5,224.0 126.0,220.5 125.0,217.0 123.5,213.5 121.5,210.5 120.0,208.5 117.5,207.5 115.0,206.0 113.0,204.0 112.0,201.5 112.5,198.5 114.5,196.0 116.0,194.0" fill="#e02e25" stroke="#e02e25"/>
<polygon points="143.5,196.5 145.0,194.0 146.5,191.5 148.5,189.5 150.5,187.5 152.0,185.0 154.0,183.0 155.5,180.0 156.5,177.5 159.0,179.0 161.5,180.5 163.5,182.5 165.5,183.5 167.5,185.0 170.0,183.5 172.0,182.5 174.5,184.0 176.5,185.5 179.0,186.5 180.0,189.5 179.5,192.5 179.5,195.5 178.5,198.0 176.5,199.5 174.5,201.5 172.5,199.5 170.5,199.5 168.5,201.5 166.0,203.0 163.0,203.5 161.0,205.0 160.0,208.0 158.5,211.0 155.5,213.0 153.0,212.0 151.0,210.0 149.5,207.5 147.0,207.0 146.5,205.0 146.5,202.0 145.5,199.0" fill="#e02e25" stroke="#e02e25"/>
<polygon points="189.0,182.0 186.5,183.5 184.0,184.5 181.5,185.5 179.0,186.5 189.0,182.0 190.5,184.5 192.5,187.0 194.5,187.5 196.5,186.2 199.0,185.5 202.0,186.5 204.0,188.5 204.5,191.0 203.0,193.0 204.0,195.5 202.5,197.5 201.0,198.5 202.0,201.0 204.5,203.0 206.0,205.5 206.5,208.5 205.0,210.0 203.0,210.0 201.0,211.0 200.0,213.0 199.5,215.5 198.0,217.5 196.5,217.0 196.0,214.5 197.0,212.5 195.5,211.5 194.0,212.5 193.5,210.0 194.5,208.0 194.0,206.5 191.5,207.0 189.0,208.0 186.0,207.5 183.0,207.0 180.0,206.5 177.5,207.5 175.5,208.0 173.5,209.5 173.0,207.0 173.5,204.0 174.5,201.5 176.5,199.5 178.5,198.0 179.5,195.5 179.5,192.5 180.0,189.5 179.0,186.5" fill="#e02e25" stroke="#e02e25"/>
<polygon points="133.0,224.5 134.0,223.0 133.5,220.5 134.5,218.5 136.5,216.5 138.0,214.0 139.5,211.5 141.5,209.5 144.0,208.0 147.0,207.0 149.5,207.5 151.0,210.0 153.0,212.0 155.5,213.0 158.5,211.0 160.0,208.0 161.0,205.0 163.0,203.5 166.0,203.0 168.5,201.5 170.5,199.5 172.5,199.5 174.5,201.5 173.5,204.0 173.0,207.0 173.5,209.5 175.5,208.0 175.0,210.5 174.5,213.5 175.5,216.5 176.5,219.5 176.2,222.5 174.5,225.0 172.0,226.5 169.0,227.5 166.0,229.0 163.5,231.0 162.0,234.0 160.5,237.0 158.5,237.3 157.2,238.3 156.9,240.6 155.9,242.0 154.2,243.0 152.9,244.3 151.2,246.0 149.6,246.3 148.0,244.3 146.3,244.6 144.3,245.0 142.3,244.6 142.0,242.3 141.0,239.6 139.6,237.0 138.0,234.3 136.3,231.6 135.3,229.0 134.3,226.8" fill="#e02e25" stroke="#e02e25"/>
<polygon points="175.5,208.0 177.5,207.5 180.0,206.5 183.0,207.0 186.0,207.5 189.0,208.0 191.5,207.0 194.0,206.5 194.5,208.0 193.5,211.5 192.5,214.5 193.0,217.5 191.0,220.5 188.5,222.0 189.5,224.5 188.0,227.0 186.0,229.5 185.0,232.5 186.5,235.0 185.5,238.0 186.0,241.0 184.5,244.0 182.5,246.0 180.0,245.0 177.5,244.0 175.0,244.5 172.5,245.5 169.5,246.0 166.5,246.5 165.0,244.5 163.5,242.0 162.0,239.5 160.5,237.0 162.0,234.0 163.5,231.0 166.0,229.0 169.0,227.5 172.0,226.5 174.5,225.0 176.2,222.5 176.5,219.5 175.5,216.5 174.5,213.5 175.0,210.5" fill="#e02e25" stroke="#e02e25"/>
</g>
<path class="rg" fill="none" d="M48.8 54.0 48.5 53.0 48.8 50.0 51.0 47.5 54.0 46.5 58.0 46.2 61.0 47.5 63.5 50.0 65.5 52.5 67.0 55.0 69.0 56.5 70.0 54.5 72.5 54.0 74.5 55.0 76.5 54.0 78.5 52.0 81.0 51.2 83.5 49.0 86.5 48.8 89.0 50.5 90.5 53.5 92.5 54.8M92.5 54.8 95.0 54.5 99.0 54.0 102.0 55.0 103.5 54.3M103.5 54.3 101.5 58.0 100.0 60.0 96.0 61.2 92.0 62.2 89.8 63.2 90.2 65.5 91.5 68.0 92.8 70.5 93.2 72.5M93.2 72.5 90.0 73.2 87.5 73.7 85.7 74.7 84.2 74.7 83.5 72.3 82.0 69.5 78.4 67.5 77.0 67.5 74.5 66.8 72.0 67.5 69.0 67.5 66.5 66.8 65.0 65.0 63.5 62.5 61.5 60.5 58.5 59.0 55.0 57.5 52.0 56.0 49.5 55.0 48.8 54.0M92.5 54.8 93.5 54.5 96.5 53.0 96.5 45.5 99.0 45.0 103.0 40.5 103.5 35.0 108.0 33.5 111.0 31.5 112.5 33.0 112.8 37.0 115.0 40.0 117.5 40.5 120.0 43.0 122.5 45.0 125.0 46.0 127.0 46.5 128.5 46.8M128.5 46.8 127.5 50.0 126.5 53.0 124.0 54.5 123.5 57.0 125.0 59.5 124.5 61.0M124.5 61.0 121.5 61.5 118.5 61.2 116.0 60.5M116.0 60.5 115.0 58.5 113.5 55.0 111.5 52.5 108.5 53.0 105.0 54.0 103.5 54.3M116.0 60.5 116.5 61.5 115.8 63.5 114.5 65.0 112.0 66.5 110.0 68.0 109.5 71.0 110.0 74.0 109.5 77.0 110.5 80.0 110.0 83.0 108.5 85.0 106.0 87.0 104.3 87.9 99.0 88.3 98.8 88.8 104.1 88.7 103.8 90.0 102.5 92.5 101.2 94.5M101.2 94.5 99.8 93.0 99.0 91.0 98.5 89.0 96.5 89.7 94.5 90.0M94.5 90.0 93.5 88.5 92.0 86.8M92.0 86.8 92.5 84.0 93.0 80.0 92.5 77.0 93.0 74.0 93.2 72.5M48.8 54.0 47.0 56.5 45.2 58.5 45.5 60.5 48.0 61.5 50.0 63.5 52.5 65.0 54.5 67.5 55.5 70.0 56.5 72.0M56.5 72.0 58.5 71.5 61.5 70.5 65.0 68.5 65.7 72.0 66.2 75.0 66.0 78.0 66.5 81.0 66.7 84.0 66.6 87.0 66.5 89.6M66.5 89.6 65.8 89.7M65.8 89.7 64.4 87.1 62.2 86.1 58.6 85.6 56.4 81.6 54.8 78.5M54.8 78.5 54.6 77.0 55.8 75.0 56.2 73.0 56.5 72.0M66.5 89.6 69.3 90.1 71.5 87.9 73.7 84.7 76.4 83.8 79.1 85.6 81.8 88.3 85.3 89.6 87.9 88.7 92.0 86.8M65.8 89.7 64.8 94.1 65.3 96.8 67.0 99.4M67.0 99.4 63.5 101.7 60.4 102.1 56.8 99.5M56.8 99.5 55.2 102.2 52.5 102.2 50.0 101.0 47.0 99.5 44.5 97.5 43.0 95.0 42.5 92.0 41.0 90.0 38.5 89.0 36.0 88.5M36.0 88.5 35.5 86.0 34.5 83.0 33.5 79.0 33.0 75.5 34.5 73.5 37.0 73.0 39.5 74.5 42.5 75.5 44.5 78.0 46.5 81.0 48.5 81.0 51.0 79.5 53.5 77.5 54.8 78.5M56.8 99.5 57.0 103.0 58.0 107.0 58.5 111.0 57.7 114.9M57.7 114.9 55.5 115.8 52.4 114.9 48.8 114.5 46.2 115.8M46.2 115.8 44.5 116.0 42.5 116.0 40.5 117.0 38.0 117.5 35.5 117.0 33.0 116.5 30.5 115.5 29.0 113.0 28.5 110.5 27.5 108.0 25.0 107.0 22.5 106.0 21.0 104.5 20.5 102.2 21.5 101.8 24.0 102.5 27.0 102.0 29.0 100.0 29.5 96.0 30.0 92.0 31.5 89.0 36.0 88.5M67.0 99.4 70.0 101.8 72.5 104.0 75.0 106.0 76.5 107.7M76.5 107.7 75.4 108.3 71.9 109.6 69.6 110.9M69.6 110.9 66.5 110.0 63.5 111.8 60.8 113.6 57.7 114.9M94.5 90.0 94.5 92.0 92.5 94.0 90.0 95.0 87.5 94.8 85.5 96.0 84.0 97.5 82.0 99.5 80.5 102.5 78.5 105.0 76.5 107.7M124.5 61.0 125.0 63.0 126.5 66.0 126.0 69.0 125.5 72.0 126.5 75.0 127.5 76.5M127.5 76.5 124.5 78.0 121.5 80.0 119.5 82.0 121.0 83.8 123.5 86.0 125.0 88.5 124.7 92.0 123.0 94.7M123.0 94.7 121.5 93.8 119.0 92.5 116.0 92.0 113.5 93.5 112.5 97.0 109.0 99.0 105.0 100.2 103.0 99.0 101.2 94.5M128.5 46.8 132.0 46.5 136.0 47.5 139.0 49.5 141.0 52.5 143.5 56.0 146.0 60.0 148.5 64.0 151.0 68.5 153.5 73.0 156.0 77.5 158.5 81.0 161.0 84.0 162.5 87.5 163.5 90.5M163.5 90.5 162.0 90.8 159.0 92.0 155.0 92.5 151.0 93.0 148.0 93.5 145.8 95.5M145.8 95.5 146.5 91.0 147.5 87.0 146.5 83.5 144.0 81.5 140.0 81.0 135.0 81.5 132.0 82.5M132.0 82.5 131.2 80.5 130.0 78.5 127.5 76.5M132.0 82.5 133.5 86.0 135.0 89.5 137.0 93.0 139.0 96.5 140.0 100.0 140.5 103.5 141.0 106.2M123.8 111.9 127.3 111.4 131.3 110.4 135.3 108.9 138.3 107.4 141.0 106.2M121.8 106.2 122.5 110.4 123.8 111.9M122.8 94.7 123.5 99.0 123.3 102.0 121.8 106.2M121.8 106.2 120.8 105.2 118.8 103.9 115.3 103.2 111.3 103.4 109.8 104.9 110.8 106.9 112.8 109.9 112.8 112.9 111.3 115.4 109.8 117.9 108.3 120.4 107.8 122.4M141.0 106.2 141.5 109.4 141.5 113.9 141.3 117.9 139.8 119.4 137.3 120.4 134.8 119.9 132.3 121.4 130.3 124.4 128.8 127.4M123.8 111.9 123.3 114.4 124.8 117.4 125.3 119.9 123.8 122.4 125.3 124.4 127.3 125.9 128.8 127.4M128.8 127.4 129.3 130.4 128.8 133.9 129.8 136.4 130.3 138.9M130.3 138.9 127.8 138.4 125.3 139.4 122.8 138.9 120.3 139.9 118.8 139.4M118.8 139.4 119.8 136.9 119.3 133.9 118.3 130.9 116.8 128.9 115.3 127.4 113.3 127.9 111.3 126.9M111.3 126.9 110.3 124.4 107.8 122.4M145.8 95.5 149.0 96.5 150.0 99.5 152.0 101.0 152.5 104.5 153.5 107.5 155.0 110.0 156.0 111.8M156.0 111.8 155.3 112.6 153.5 113.9 150.7 115.1 147.8 115.3M147.8 115.3 145.2 113.5 142.8 110.0 141.0 106.2M163.5 90.8 165.0 93.0 169.0 94.0 173.0 94.5 176.0 96.5 177.5 99.5 179.0 102.0 182.0 104.0 185.0 105.5 188.0 107.5 190.5 110.0 192.0 112.5 191.0 114.0 188.0 113.2 185.0 112.2 182.0 111.2 179.0 110.7 177.0 111.6 175.0 113.0 173.5 114.0 172.0 113.6 169.5 112.6 167.5 111.2 165.0 110.2 162.0 109.7 159.0 109.7 157.0 110.7 156.0 111.8M147.8 115.3 148.5 119.1 149.5 122.1 150.5 124.6 151.2 126.6 148.5 127.1 145.0 126.6 142.5 127.6 140.0 128.6 139.0 130.6 138.5 133.6 139.0 136.6 138.8 139.1M156.0 111.8 156.3 115.1 159.1 117.5 161.1 120.3 161.9 123.5 160.3 125.9 157.9 128.3 155.1 130.6 152.7 133.3 150.5 136.1 149.5 139.6M149.5 139.6 148.0 138.1 145.0 137.6 143.0 138.1 141.5 139.6 138.8 139.1M156.0 111.8 157.3 112.9 159.5 112.3 162.0 112.2 164.0 113.2 165.8 115.2 167.8 116.6 170.5 116.8 173.0 116.8 175.3 117.6 177.0 120.0 178.5 122.5M178.5 122.5 176.5 124.5 175.5 127.5 176.0 130.0 175.0 132.5 173.5 134.5 172.0 135.5M172.0 135.5 170.0 137.5 168.0 139.5 167.5 142.0 166.0 143.5M166.0 143.5 163.0 144.1 159.0 143.6 155.0 142.6 151.0 141.1 149.5 139.6M178.5 122.5 181.5 122.5 184.5 123.5 187.5 125.0 190.0 126.5 192.5 129.0 194.5 131.5 196.5 134.0 195.5 136.5 193.5 138.5 191.0 140.0 188.0 141.5 185.5 143.5 184.0 144.0M184.0 144.0 182.5 142.0 180.5 140.5 178.0 140.0 176.0 138.0 174.0 136.5 172.0 135.5M166.0 143.5 165.0 146.0 163.5 148.5 162.5 151.0 162.0 153.5M162.0 153.5 164.0 155.5 166.0 157.0 168.5 158.0 170.0 159.0M170.0 159.0 172.5 157.0 175.0 155.5 176.5 153.5 178.0 151.0 180.0 148.5 182.0 146.0 184.0 144.0M175.3 115.0 177.5 113.4 180.5 113.6 183.5 114.6 186.5 116.0 189.5 117.0 192.0 117.6 192.6 119.5 190.0 120.0 187.0 119.6 184.0 118.6 181.0 117.6 178.0 116.8 175.8 116.0ZM138.8 139.1 136.0 138.0 133.0 139.5 130.3 138.9M76.5 107.7 78.0 110.5 80.5 112.0 82.5 114.0 84.0 116.5 86.5 118.0 89.5 117.5 92.5 116.5 95.0 116.5 95.5 119.5 94.5 122.0 93.5 124.0M107.8 122.4 105.3 123.4 102.8 125.4 100.3 127.2 98.0 126.5 96.0 125.0 93.5 124.0M93.5 124.0 92.0 127.0 90.0 130.5 88.5 134.0 86.0 136.5 83.5 138.5 81.5 140.0M81.5 140.0 79.0 139.0 76.0 139.0 72.5 138.0 70.0 136.0 69.0 133.0 69.5 130.5 71.5 128.5 74.0 127.5 75.5 125.5 74.5 123.0 75.0 120.0 73.5 117.0 72.0 114.0 69.6 110.9M54.0 156.5 51.5 155.0 49.0 154.5 47.0 153.0 44.5 153.5 42.0 152.0 40.0 149.0 39.2 146.0 39.0 142.5 40.5 140.0 43.0 138.5 45.5 137.0 47.0 134.5 48.0 131.0 48.5 127.0 48.0 123.0 47.0 119.0 46.2 115.8M80.0 144.5 79.0 146.5 77.5 148.0 75.0 150.0 72.0 152.0 69.0 153.0 66.0 153.0 62.5 152.5 59.5 153.5 56.5 155.0 54.0 156.5M81.5 140.0 80.8 142.0 80.0 144.5M80.0 144.5 81.5 147.5 83.5 150.0 85.5 152.0 88.0 152.8 91.0 152.5 94.5 151.5 96.9 150.2M96.9 150.2 97.0 153.0 97.2 155.2M97.2 155.2 94.3 156.9 91.3 158.9 88.8 160.9 86.8 163.5 85.0 166.0 83.3 167.8 81.5 170.5 80.3 174.0 80.0 178.0 80.3 181.5 79.0 183.5M79.0 183.5 76.0 182.8 74.3 183.3 73.0 185.5 71.0 188.0 68.0 189.5 65.0 190.0 62.5 188.5 61.0 185.0 59.5 182.0 57.5 179.5 55.0 177.5 54.5 174.5 53.5 171.0 52.0 168.0 50.5 165.5 51.0 162.5 52.5 159.5 54.0 156.5M111.3 126.9 109.8 129.4 110.3 133.4 109.8 136.4 110.5 137.6M110.5 137.6 108.3 140.5 105.6 143.0 103.2 145.6 103.5 148.4M103.5 148.4 100.8 147.3 98.3 147.9 96.9 150.2M110.5 137.6 112.8 136.8 115.0 136.9 117.3 138.4 118.8 139.4M118.8 139.4 118.8 143.4 117.8 146.4 116.3 148.9 115.3 151.9 113.8 154.4 111.3 155.9 109.3 157.4 107.3 158.9M107.3 158.9 105.8 155.9 104.8 153.9M104.8 153.9 104.8 150.4 103.5 148.4M104.8 153.9 102.8 155.4 100.3 156.9 98.8 158.4 97.8 156.8 97.2 155.2M107.3 158.9 106.3 161.9 105.8 163.4M105.8 163.4 105.3 164.9 104.8 168.4 103.8 171.4 101.8 173.9 99.3 175.9 96.8 177.4 94.3 178.9 91.8 180.4 89.8 182.2 88.5 184.0M88.5 184.0 87.5 185.5 87.0 188.0 85.5 190.0 83.5 192.0 81.0 193.5 78.5 194.0 77.0 192.5 77.5 190.0 79.0 187.5 80.0 184.8 79.0 183.5M138.8 139.1 141.3 141.0 141.5 143.0 141.0 146.5 140.0 150.0 138.5 152.5 136.5 154.5 134.5 156.0 136.0 158.5 138.5 161.5M138.5 161.5 135.0 163.5 131.0 164.5 128.5 165.0 127.5 167.0 129.0 169.5 128.5 172.5 127.0 174.5M127.0 174.5 124.5 176.0 121.5 177.5 120.5 174.5 118.5 173.0 116.0 171.5 115.0 169.0 112.5 166.5 110.0 165.0 107.5 163.5 105.8 163.4M127.0 174.5 128.5 177.0 128.0 180.0 126.5 183.0 124.5 185.5 122.5 188.0 120.5 190.0 118.5 191.5 117.5 192.2M88.5 184.0 90.5 185.5 93.0 186.5 95.0 188.5 98.0 190.0 101.0 190.3 104.0 191.0 106.0 191.5 109.0 191.0 112.0 191.5 115.0 193.0 117.5 192.2M117.5 192.2 120.0 193.5 123.0 195.0 126.0 196.0 128.5 197.5 130.5 195.5 133.0 194.0 135.5 195.0 138.5 195.5 141.5 194.5 143.5 196.5M133.0 224.5 130.0 225.0 127.5 225.5 126.5 224.0 126.0 220.5 125.0 217.0 123.5 213.5 121.5 210.5 120.0 208.5 117.5 207.5 115.0 206.0 113.0 204.0 112.0 201.5 112.5 198.5 114.5 196.0 116.0 194.0 117.5 192.2M143.5 196.5 145.5 199.0 146.5 202.0 146.5 205.0 147.0 207.0M147.0 207.0 144.0 208.0 141.5 209.5 139.5 211.5 138.0 214.0 136.5 216.5 134.5 218.5 133.5 220.5 134.0 223.0 133.0 224.5M156.5 177.5 155.5 180.0 154.0 183.0 152.0 185.0 150.5 187.5 148.5 189.5 146.5 191.5 145.0 194.0 143.5 196.5M147.0 207.0 149.5 207.5 151.0 210.0 153.0 212.0 155.5 213.0 158.5 211.0 160.0 208.0 161.0 205.0 163.0 203.5 166.0 203.0 168.5 201.5 170.5 199.5 172.5 199.5 174.5 201.5M160.5 237.0 158.5 237.3 157.2 238.3 156.9 240.6 155.9 242.0 154.2 243.0 152.9 244.3 151.2 246.0 149.6 246.3 148.0 244.3 146.3 244.6 144.3 245.0 142.3 244.6 142.0 242.3 141.0 239.6 139.6 237.0 138.0 234.3 136.3 231.6 135.3 229.0 134.3 226.8 133.0 224.5M175.5 208.0 175.0 210.5 174.5 213.5 175.5 216.5 176.5 219.5 176.2 222.5 174.5 225.0 172.0 226.5 169.0 227.5 166.0 229.0 163.5 231.0 162.0 234.0 160.5 237.0M175.5 208.0 177.5 207.5 180.0 206.5 183.0 207.0 186.0 207.5 189.0 208.0 191.5 207.0 194.0 206.5M194.0 206.5 194.5 208.0 193.5 211.5 192.5 214.5 193.0 217.5 191.0 220.5 188.5 222.0 189.5 224.5 188.0 227.0 186.0 229.5 185.0 232.5 186.5 235.0 185.5 238.0 186.0 241.0 184.5 244.0 182.5 246.0 180.0 245.0 177.5 244.0 175.0 244.5 172.5 245.5 169.5 246.0 166.5 246.5 165.0 244.5 163.5 242.0 162.0 239.5 160.5 237.0M174.5 201.5 173.5 204.0 173.0 207.0 173.5 209.5 175.5 208.0M179.0 186.5 180.0 189.5 179.5 192.5 179.5 195.5 178.5 198.0 176.5 199.5 174.5 201.5M156.5 177.5 159.0 179.0 161.5 180.5 163.5 182.5 165.5 183.5 167.5 185.0 170.0 183.5 172.0 182.5 174.5 184.0 176.5 185.5 179.0 186.5M179.0 186.5 181.5 185.5 184.0 184.5 186.5 183.5 189.0 182.0M189.0 182.0 187.5 179.5 185.5 177.0 184.0 174.5 183.5 172.0 184.5 169.5 182.5 167.0 180.5 164.5 179.0 162.0 178.5 160.3M169.5 161.8 171.5 161.5 175.0 161.0 178.5 160.3M169.5 161.8 167.0 162.8 164.5 164.0 163.0 167.5 161.0 171.0 159.0 174.5 156.5 177.5M170.0 159.0 170.8 160.5 169.5 161.8M138.5 161.5 141.5 160.0 144.5 159.0 147.5 158.5 150.0 156.5 153.0 155.5 156.0 154.5 159.0 153.5 162.0 153.5M189.0 182.0 190.5 184.5 192.5 187.0 194.5 187.5 196.5 186.2M178.5 160.3 181.5 157.5 184.5 155.5 187.5 155.0 190.5 156.0 193.5 158.0 196.5 160.0 199.5 161.5 202.5 162.5 205.5 163.0 208.5 162.5 207.0 164.5 204.5 166.5 202.0 168.5 200.0 171.0 198.5 173.5 196.5 176.0 195.5 177.5 197.5 177.0 200.0 175.5 202.0 173.5 204.0 171.5 206.0 170.5 207.5 172.0 207.0 174.5 208.5 177.0 209.5 179.5 208.0 181.0 206.5 182.5 205.0 181.0 204.0 179.0 202.5 178.0 201.5 180.0 202.0 182.5 200.5 183.5 198.5 183.0 197.0 184.8 196.5 186.2M196.5 186.2 199.0 185.5 202.0 186.5 204.0 188.5 204.5 191.0 203.0 193.0 204.0 195.5 202.5 197.5 201.0 198.5 202.0 201.0 204.5 203.0 206.0 205.5 206.5 208.5 205.0 210.0 203.0 210.0 201.0 211.0 200.0 213.0 199.5 215.5 198.0 217.5 196.5 217.0 196.0 214.5 197.0 212.5 195.5 211.5 194.0 212.5 193.5 210.0 194.5 208.0 194.0 206.5M205.3 156.2 207.2 155.4 209.8 156.0 211.8 157.6 212.3 159.3 210.3 160.0 207.6 159.2 205.8 157.8ZM206.2 150.3 207.6 149.8 208.6 150.8 207.8 151.8 206.5 151.5ZM211.6 136.5 213.5 136.5 213.5 137.5 211.6 137.5Z"/>
</g>
<g class="rl">
<text transform="translate(332.6 48.5) scale(1 1.2)">LYG</text>
<text transform="translate(299.9 63.5) scale(1 1.2)">XZ</text>
<text transform="translate(295.0 76.3) scale(1 1.2)">SuZ</text>
<text transform="translate(322.5 74.7) scale(1 1.2)">SQ</text>
<text transform="translate(336.7 78.4) scale(1 1.2)">HA</text>
<text transform="translate(359.5 73.4) scale(1 1.2)">YC</text>
<text transform="translate(281.7 80.9) scale(1 1.2)">HB</text>
<text transform="translate(270.9 90.9) scale(1 1.2)">BZ</text>
<text transform="translate(298.3 95.9) scale(1 1.2)">BB</text>
<text transform="translate(351.6 96.8) scale(1 1.2)">YZ</text>
<text transform="translate(366.6 104.7) scale(1 1.2)">TZ</text>
<text transform="translate(385.4 105.1) scale(1 1.2)">NT</text>
<text transform="translate(259.3 107.6) scale(1 1.2)">FY</text>
<text transform="translate(286.2 108.4) scale(1 1.2)">HN</text>
<text transform="translate(314.1 108.7) scale(1 1.2)">ChuZ</text>
<text transform="translate(304.4 127.6) scale(1 1.2)">HF</text>
<text transform="translate(337.5 122.6) scale(1 1.2)">NJ</text>
<text transform="translate(355.8 117.1) scale(1 1.2)">ZJ</text>
<text transform="translate(359.9 126.8) scale(1 1.2)">CZ</text>
<text transform="translate(377.0 124.2) scale(1 1.2)">WX</text>
<text transform="translate(389.2 130.8) scale(1 1.2)">SZ</text>
<text transform="translate(405.8 134.2) scale(1 1.2)">SH</text>
<text transform="translate(279.2 137.6) scale(1 1.2)">LA</text>
<text transform="translate(318.3 140.5) scale(1 1.2)">CH</text>
<text transform="translate(336.4 134.8) scale(1 1.2)">MAS</text>
<text transform="translate(332.2 149.2) scale(1 1.2)">WH</text>
<text transform="translate(321.8 154.6) scale(1 1.2)">TL</text>
<text transform="translate(372.1 149.6) scale(1 1.2)">HuZ</text>
<text transform="translate(392.0 149.2) scale(1 1.2)">JX</text>
<text transform="translate(346.2 158.4) scale(1 1.2)">XC</text>
<text transform="translate(287.8 169.2) scale(1 1.2)">AQ</text>
<text transform="translate(311.2 175.0) scale(1 1.2)">ChiZ</text>
<text transform="translate(429.7 159.3) scale(1 1.2)">ZS</text>
<text transform="translate(412.5 172.5) scale(1 1.2)">NB</text>
<text transform="translate(394.2 175.9) scale(1 1.2)">SX</text>
<text transform="translate(330.4 182.5) scale(1 1.2)">HS</text>
<text transform="translate(362.0 178.4) scale(1 1.2)">HZ</text>
<text transform="translate(384.8 195.9) scale(1 1.2)">JH</text>
<text transform="translate(410.3 198.9) scale(1 1.2)">TaiZ</text>
<text transform="translate(352.3 207.4) scale(1 1.2)">QZ</text>
<text transform="translate(371.0 224.9) scale(1 1.2)">LS</text>
<text transform="translate(400.9 228.4) scale(1 1.2)">WZ</text>
</g>
<rect x="238.5" y="13.4" width="200.6" height="251.8" fill="none" stroke="#3a3a3a" stroke-width="0.9"/>
<text class="ti" x="243.7" y="24.6">b.economic development level</text>
<text class="t" text-anchor="middle" x="256.2" y="11.1">116°0'0"E</text>
<text class="t" text-anchor="middle" x="302.4" y="11.1">118°0'0"E</text>
<text class="t" text-anchor="middle" x="348.6" y="11.1">120°0'0"E</text>
<text class="t" text-anchor="middle" x="394.8" y="11.1">122°0'0"E</text>
<text class="t" text-anchor="middle" transform="translate(446.4 25.6) rotate(-90)">34°30'0"N</text>
<text class="t" text-anchor="middle" transform="translate(446.4 68.5) rotate(-90)">33°0'0"N</text>
<text class="t" text-anchor="middle" transform="translate(446.4 111.5) rotate(-90)">31°30'0"N</text>
<text class="t" text-anchor="middle" transform="translate(446.4 156.2) rotate(-90)">30°0'0"N</text>
<text class="t" text-anchor="middle" transform="translate(446.4 200.3) rotate(-90)">28°30'0"N</text>
<text class="t" text-anchor="middle" transform="translate(446.4 244.0) rotate(-90)">27°0'0"N</text>
<path d="M256.2 8.8 V13.8 M302.4 8.8 V13.8 M348.6 8.8 V13.8 M394.8 8.8 V13.8 M438.7 25.6 H442.7 M438.7 68.5 H442.7 M438.7 111.5 H442.7 M438.7 156.2 H442.7 M438.7 200.3 H442.7 M438.7 244.0 H442.7" stroke="#333" stroke-width="0.6" fill="none"/>
<polygon points="428.5,22.6 433.0,35.5 428.5,32.8 424.0,35.5" fill="#000"/>
<text x="428.5" y="19.2" text-anchor="middle" style="font-family:'Liberation Serif',serif;font-size:4.2px;fill:#333">N</text>
<path d="M369.7 255.5 V259.1 H421.1 V255.5 M395.4 259.1 V256.8" stroke="#2a2a2a" stroke-width="0.7" fill="none"/>
<text class="sb" x="369.7" y="252.2">0</text>
<text class="sb" x="395.4" y="252.2">100</text>
<text class="sb" x="416.5" y="252.2" text-anchor="start" style="text-anchor:start">200 km</text>
<text class="lt" x="244.6" y="201.3">Regression Coefficient</text>
<rect x="244.6" y="205.9" width="17.3" height="8.0" fill="#4474bc"/>
<text class="lg" x="264.9" y="212.2" xml:space="preserve">0.342 - 0.350</text>
<rect x="244.6" y="217.5" width="17.3" height="8.0" fill="#a1b3c0"/>
<text class="lg" x="264.9" y="223.8" xml:space="preserve">0.351 - 0.361</text>
<rect x="244.6" y="229.1" width="17.3" height="8.0" fill="#fffdbf"/>
<text class="lg" x="264.9" y="235.4" xml:space="preserve">0.362 - 0.373</text>
<rect x="244.6" y="240.7" width="17.3" height="8.0" fill="#f4976a"/>
<text class="lg" x="264.9" y="247.0" xml:space="preserve">0.374 - 0.390</text>
<rect x="244.6" y="252.3" width="17.3" height="8.0" fill="#e02e25"/>
<text class="lg" x="264.9" y="258.6" xml:space="preserve">0.391 - 0.408</text>
</g>
<g id="panel-c">
<g transform="translate(0.10 271.20)">
<g stroke-width="0.35" stroke-linejoin="round">
<polygon points="48.8,54.0 48.5,53.0 48.8,50.0 51.0,47.5 54.0,46.5 58.0,46.2 61.0,47.5 63.5,50.0 65.5,52.5 67.0,55.0 69.0,56.5 70.0,54.5 72.5,54.0 74.5,55.0 76.5,54.0 78.5,52.0 81.0,51.2 83.5,49.0 86.5,48.8 89.0,50.5 90.5,53.5 92.5,54.8 95.0,54.5 99.0,54.0 102.0,55.0 103.5,54.3 101.5,58.0 100.0,60.0 96.0,61.2 92.0,62.2 89.8,63.2 90.2,65.5 91.5,68.0 92.8,70.5 93.2,72.5 90.0,73.2 87.5,73.7 85.7,74.7 84.2,74.7 83.5,72.3 82.0,69.5 78.4,67.5 77.0,67.5 74.5,66.8 72.0,67.5 69.0,67.5 66.5,66.8 65.0,65.0 63.5,62.5 61.5,60.5 58.5,59.0 55.0,57.5 52.0,56.0 49.5,55.0" fill="#fffdbf" stroke="#fffdbf"/>
<polygon points="92.5,54.8 93.5,54.5 96.5,53.0 96.5,45.5 99.0,45.0 103.0,40.5 103.5,35.0 108.0,33.5 111.0,31.5 112.5,33.0 112.8,37.0 115.0,40.0 117.5,40.5 120.0,43.0 122.5,45.0 125.0,46.0 127.0,46.5 128.5,46.8 127.5,50.0 126.5,53.0 124.0,54.5 123.5,57.0 125.0,59.5 124.5,61.0 121.5,61.5 118.5,61.2 116.0,60.5 115.0,58.5 113.5,55.0 111.5,52.5 108.5,53.0 105.0,54.0 103.5,54.3 102.0,55.0 99.0,54.0 95.0,54.5" fill="#e02e25" stroke="#e02e25"/>
<polygon points="103.5,54.3 105.0,54.0 108.5,53.0 111.5,52.5 113.5,55.0 115.0,58.5 116.0,60.5 116.5,61.5 115.8,63.5 114.5,65.0 112.0,66.5 110.0,68.0 109.5,71.0 110.0,74.0 109.5,77.0 110.5,80.0 110.0,83.0 108.5,85.0 106.0,87.0 104.3,87.9 99.0,88.3 98.8,88.8 104.1,88.7 103.8,90.0 102.5,92.5 101.2,94.5 99.8,93.0 99.0,91.0 98.5,89.0 96.5,89.7 94.5,90.0 93.5,88.5 92.0,86.8 92.5,84.0 93.0,80.0 92.5,77.0 93.0,74.0 93.2,72.5 92.8,70.5 91.5,68.0 90.2,65.5 89.8,63.2 92.0,62.2 96.0,61.2 100.0,60.0 101.5,58.0" fill="#f4976a" stroke="#f4976a"/>
<polygon points="48.8,54.0 49.5,55.0 52.0,56.0 55.0,57.5 58.5,59.0 61.5,60.5 63.5,62.5 65.0,65.0 66.5,66.8 69.0,67.5 72.0,67.5 74.5,66.8 77.0,67.5 78.4,67.5 82.0,69.5 83.5,72.3 84.2,74.7 85.7,74.7 87.5,73.7 90.0,73.2 93.2,72.5 93.0,74.0 92.5,77.0 93.0,80.0 92.5,84.0 92.0,86.8 87.9,88.7 85.3,89.6 81.8,88.3 79.1,85.6 76.4,83.8 73.7,84.7 71.5,87.9 69.3,90.1 66.5,89.6 66.6,87.0 66.7,84.0 66.5,81.0 66.0,78.0 66.2,75.0 65.7,72.0 65.0,68.5 61.5,70.5 58.5,71.5 56.5,72.0 55.5,70.0 54.5,67.5 52.5,65.0 50.0,63.5 48.0,61.5 45.5,60.5 45.2,58.5 47.0,56.5" fill="#a1b3c0" stroke="#a1b3c0"/>
<polygon points="56.5,72.0 58.5,71.5 61.5,70.5 65.0,68.5 65.7,72.0 66.2,75.0 66.0,78.0 66.5,81.0 66.7,84.0 66.6,87.0 66.5,89.6 65.8,89.7 64.4,87.1 62.2,86.1 58.6,85.6 56.4,81.6 54.8,78.5 54.6,77.0 55.8,75.0 56.2,73.0" fill="#a1b3c0" stroke="#a1b3c0"/>
<polygon points="36.0,88.5 35.5,86.0 34.5,83.0 33.5,79.0 33.0,75.5 34.5,73.5 37.0,73.0 39.5,74.5 42.5,75.5 44.5,78.0 46.5,81.0 48.5,81.0 51.0,79.5 53.5,77.5 54.8,78.5 56.4,81.6 58.6,85.6 62.2,86.1 64.4,87.1 65.8,89.7 64.8,94.1 65.3,96.8 67.0,99.4 63.5,101.7 60.4,102.1 56.8,99.5 55.2,102.2 52.5,102.2 50.0,101.0 47.0,99.5 44.5,97.5 43.0,95.0 42.5,92.0 41.0,90.0 38.5,89.0" fill="#a1b3c0" stroke="#a1b3c0"/>
<polygon points="46.2,115.8 44.5,116.0 42.5,116.0 40.5,117.0 38.0,117.5 35.5,117.0 33.0,116.5 30.5,115.5 29.0,113.0 28.5,110.5 27.5,108.0 25.0,107.0 22.5,106.0 21.0,104.5 20.5,102.2 21.5,101.8 24.0,102.5 27.0,102.0 29.0,100.0 29.5,96.0 30.0,92.0 31.5,89.0 36.0,88.5 38.5,89.0 41.0,90.0 42.5,92.0 43.0,95.0 44.5,97.5 47.0,99.5 50.0,101.0 52.5,102.2 55.2,102.2 56.8,99.5 57.0,103.0 58.0,107.0 58.5,111.0 57.7,114.9 55.5,115.8 52.4,114.9 48.8,114.5" fill="#4474bc" stroke="#4474bc"/>
<polygon points="56.8,99.5 60.4,102.1 63.5,101.7 67.0,99.4 70.0,101.8 72.5,104.0 75.0,106.0 76.5,107.7 75.4,108.3 71.9,109.6 69.6,110.9 66.5,110.0 63.5,111.8 60.8,113.6 57.7,114.9 58.5,111.0 58.0,107.0 57.0,103.0" fill="#4474bc" stroke="#4474bc"/>
<polygon points="66.5,89.6 69.3,90.1 71.5,87.9 73.7,84.7 76.4,83.8 79.1,85.6 81.8,88.3 85.3,89.6 87.9,88.7 92.0,86.8 93.5,88.5 94.5,90.0 94.5,92.0 92.5,94.0 90.0,95.0 87.5,94.8 85.5,96.0 84.0,97.5 82.0,99.5 80.5,102.5 78.5,105.0 76.5,107.7 75.0,106.0 72.5,104.0 70.0,101.8 67.0,99.4 65.3,96.8 64.8,94.1 65.8,89.7" fill="#a1b3c0" stroke="#a1b3c0"/>
<polygon points="116.0,60.5 118.5,61.2 121.5,61.5 124.5,61.0 125.0,63.0 126.5,66.0 126.0,69.0 125.5,72.0 126.5,75.0 127.5,76.5 124.5,78.0 121.5,80.0 119.5,82.0 121.0,83.8 123.5,86.0 125.0,88.5 124.7,92.0 123.0,94.7 121.5,93.8 119.0,92.5 116.0,92.0 113.5,93.5 112.5,97.0 109.0,99.0 105.0,100.2 103.0,99.0 101.2,94.5 102.5,92.5 103.8,90.0 104.1,88.7 98.8,88.8 99.0,88.3 104.3,87.9 106.0,87.0 108.5,85.0 110.0,83.0 110.5,80.0 109.5,77.0 110.0,74.0 109.5,71.0 110.0,68.0 112.0,66.5 114.5,65.0 115.8,63.5 116.5,61.5" fill="#f4976a" stroke="#f4976a"/>
<polygon points="128.5,46.8 132.0,46.5 136.0,47.5 139.0,49.5 141.0,52.5 143.5,56.0 146.0,60.0 148.5,64.0 151.0,68.5 153.5,73.0 156.0,77.5 158.5,81.0 161.0,84.0 162.5,87.5 163.5,90.5 162.0,90.8 159.0,92.0 155.0,92.5 151.0,93.0 148.0,93.5 145.8,95.5 146.5,91.0 147.5,87.0 146.5,83.5 144.0,81.5 140.0,81.0 135.0,81.5 132.0,82.5 131.2,80.5 130.0,78.5 127.5,76.5 126.5,75.0 125.5,72.0 126.0,69.0 126.5,66.0 125.0,63.0 124.5,61.0 125.0,59.5 123.5,57.0 124.0,54.5 126.5,53.0 127.5,50.0" fill="#e02e25" stroke="#e02e25"/>
<polygon points="127.5,76.5 130.0,78.5 131.2,80.5 132.0,82.5 133.5,86.0 135.0,89.5 137.0,93.0 139.0,96.5 140.0,100.0 140.5,103.5 141.0,106.2 138.3,107.4 135.3,108.9 131.3,110.4 127.3,111.4 123.8,111.9 122.5,110.4 121.8,106.2 123.3,102.0 123.5,99.0 122.8,94.7 123.0,94.7 124.7,92.0 125.0,88.5 123.5,86.0 121.0,83.8 119.5,82.0 121.5,80.0 124.5,78.0" fill="#f4976a" stroke="#f4976a"/>
<polygon points="132.0,82.5 135.0,81.5 140.0,81.0 144.0,81.5 146.5,83.5 147.5,87.0 146.5,91.0 145.8,95.5 149.0,96.5 150.0,99.5 152.0,101.0 152.5,104.5 153.5,107.5 155.0,110.0 156.0,111.8 155.3,112.6 153.5,113.9 150.7,115.1 147.8,115.3 145.2,113.5 142.8,110.0 141.0,106.2 140.5,103.5 140.0,100.0 139.0,96.5 137.0,93.0 135.0,89.5 133.5,86.0" fill="#f4976a" stroke="#f4976a"/>
<polygon points="163.5,90.8 165.0,93.0 169.0,94.0 173.0,94.5 176.0,96.5 177.5,99.5 179.0,102.0 182.0,104.0 185.0,105.5 188.0,107.5 190.5,110.0 192.0,112.5 191.0,114.0 188.0,113.2 185.0,112.2 182.0,111.2 179.0,110.7 177.0,111.6 175.0,113.0 173.5,114.0 172.0,113.6 169.5,112.6 167.5,111.2 165.0,110.2 162.0,109.7 159.0,109.7 157.0,110.7 156.0,111.8 155.0,110.0 153.5,107.5 152.5,104.5 152.0,101.0 150.0,99.5 149.0,96.5 145.8,95.5 148.0,93.5 151.0,93.0 155.0,92.5 159.0,92.0 162.0,90.8 163.5,90.5" fill="#f4976a" stroke="#f4976a"/>
<polygon points="94.5,90.0 96.5,89.7 98.5,89.0 99.0,91.0 99.8,93.0 101.2,94.5 103.0,99.0 105.0,100.2 109.0,99.0 112.5,97.0 113.5,93.5 116.0,92.0 119.0,92.5 121.5,93.8 123.0,94.7 122.8,94.7 123.5,99.0 123.3,102.0 121.8,106.2 120.8,105.2 118.8,103.9 115.3,103.2 111.3,103.4 109.8,104.9 110.8,106.9 112.8,109.9 112.8,112.9 111.3,115.4 109.8,117.9 108.3,120.4 107.8,122.4 105.3,123.4 102.8,125.4 100.3,127.2 98.0,126.5 96.0,125.0 93.5,124.0 94.5,122.0 95.5,119.5 95.0,116.5 92.5,116.5 89.5,117.5 86.5,118.0 84.0,116.5 82.5,114.0 80.5,112.0 78.0,110.5 76.5,107.7 78.5,105.0 80.5,102.5 82.0,99.5 84.0,97.5 85.5,96.0 87.5,94.8 90.0,95.0 92.5,94.0 94.5,92.0" fill="#a1b3c0" stroke="#a1b3c0"/>
<polygon points="76.5,107.7 78.0,110.5 80.5,112.0 82.5,114.0 84.0,116.5 86.5,118.0 89.5,117.5 92.5,116.5 95.0,116.5 95.5,119.5 94.5,122.0 93.5,124.0 92.0,127.0 90.0,130.5 88.5,134.0 86.0,136.5 83.5,138.5 81.5,140.0 79.0,139.0 76.0,139.0 72.5,138.0 70.0,136.0 69.0,133.0 69.5,130.5 71.5,128.5 74.0,127.5 75.5,125.5 74.5,123.0 75.0,120.0 73.5,117.0 72.0,114.0 69.6,110.9 71.9,109.6 75.4,108.3" fill="#4474bc" stroke="#4474bc"/>
<polygon points="46.2,115.8 48.8,114.5 52.4,114.9 55.5,115.8 57.7,114.9 60.8,113.6 63.5,111.8 66.5,110.0 69.6,110.9 72.0,114.0 73.5,117.0 75.0,120.0 74.5,123.0 75.5,125.5 74.0,127.5 71.5,128.5 69.5,130.5 69.0,133.0 70.0,136.0 72.5,138.0 76.0,139.0 79.0,139.0 81.5,140.0 80.8,142.0 80.0,144.5 79.0,146.5 77.5,148.0 75.0,150.0 72.0,152.0 69.0,153.0 66.0,153.0 62.5,152.5 59.5,153.5 56.5,155.0 54.0,156.5 51.5,155.0 49.0,154.5 47.0,153.0 44.5,153.5 42.0,152.0 40.0,149.0 39.2,146.0 39.0,142.5 40.5,140.0 43.0,138.5 45.5,137.0 47.0,134.5 48.0,131.0 48.5,127.0 48.0,123.0 47.0,119.0" fill="#4474bc" stroke="#4474bc"/>
<polygon points="121.8,106.2 122.5,110.4 123.8,111.9 123.3,114.4 124.8,117.4 125.3,119.9 123.8,122.4 125.3,124.4 127.3,125.9 128.8,127.4 129.3,130.4 128.8,133.9 129.8,136.4 130.3,138.9 127.8,138.4 125.3,139.4 122.8,138.9 120.3,139.9 118.8,139.4 119.8,136.9 119.3,133.9 118.3,130.9 116.8,128.9 115.3,127.4 113.3,127.9 111.3,126.9 110.3,124.4 107.8,122.4 108.3,120.4 109.8,117.9 111.3,115.4 112.8,112.9 112.8,109.9 110.8,106.9 109.8,104.9 111.3,103.4 115.3,103.2 118.8,103.9 120.8,105.2" fill="#fffdbf" stroke="#fffdbf"/>
<polygon points="123.8,111.9 127.3,111.4 131.3,110.4 135.3,108.9 138.3,107.4 141.0,106.2 141.5,109.4 141.5,113.9 141.3,117.9 139.8,119.4 137.3,120.4 134.8,119.9 132.3,121.4 130.3,124.4 128.8,127.4 127.3,125.9 125.3,124.4 123.8,122.4 125.3,119.9 124.8,117.4 123.3,114.4" fill="#fffdbf" stroke="#fffdbf"/>
<polygon points="141.0,106.2 142.8,110.0 145.2,113.5 147.8,115.3 148.5,119.1 149.5,122.1 150.5,124.6 151.2,126.6 148.5,127.1 145.0,126.6 142.5,127.6 140.0,128.6 139.0,130.6 138.5,133.6 139.0,136.6 138.8,139.1 136.0,138.0 133.0,139.5 130.3,138.9 129.8,136.4 128.8,133.9 129.3,130.4 128.8,127.4 130.3,124.4 132.3,121.4 134.8,119.9 137.3,120.4 139.8,119.4 141.3,117.9 141.5,113.9 141.5,109.4" fill="#fffdbf" stroke="#fffdbf"/>
<polygon points="147.8,115.3 150.7,115.1 153.5,113.9 155.3,112.6 156.0,111.8 156.3,115.1 159.1,117.5 161.1,120.3 161.9,123.5 160.3,125.9 157.9,128.3 155.1,130.6 152.7,133.3 150.5,136.1 149.5,139.6 148.0,138.1 145.0,137.6 143.0,138.1 141.5,139.6 138.8,139.1 139.0,136.6 138.5,133.6 139.0,130.6 140.0,128.6 142.5,127.6 145.0,126.6 148.5,127.1 151.2,126.6 150.5,124.6 149.5,122.1 148.5,119.1" fill="#fffdbf" stroke="#fffdbf"/>
<polygon points="156.0,111.8 157.3,112.9 159.5,112.3 162.0,112.2 164.0,113.2 165.8,115.2 167.8,116.6 170.5,116.8 173.0,116.8 175.3,117.6 177.0,120.0 178.5,122.5 176.5,124.5 175.5,127.5 176.0,130.0 175.0,132.5 173.5,134.5 172.0,135.5 170.0,137.5 168.0,139.5 167.5,142.0 166.0,143.5 163.0,144.1 159.0,143.6 155.0,142.6 151.0,141.1 149.5,139.6 150.5,136.1 152.7,133.3 155.1,130.6 157.9,128.3 160.3,125.9 161.9,123.5 161.1,120.3 159.1,117.5 156.3,115.1" fill="#f4976a" stroke="#f4976a"/>
<polygon points="178.5,122.5 181.5,122.5 184.5,123.5 187.5,125.0 190.0,126.5 192.5,129.0 194.5,131.5 196.5,134.0 195.5,136.5 193.5,138.5 191.0,140.0 188.0,141.5 185.5,143.5 184.0,144.0 182.5,142.0 180.5,140.5 178.0,140.0 176.0,138.0 174.0,136.5 172.0,135.5 173.5,134.5 175.0,132.5 176.0,130.0 175.5,127.5 176.5,124.5" fill="#f4976a" stroke="#f4976a"/>
<polygon points="175.3,115.0 177.5,113.4 180.5,113.6 183.5,114.6 186.5,116.0 189.5,117.0 192.0,117.6 192.6,119.5 190.0,120.0 187.0,119.6 184.0,118.6 181.0,117.6 178.0,116.8 175.8,116.0" fill="#f4976a" stroke="#f4976a"/>
<polygon points="166.0,143.5 167.5,142.0 168.0,139.5 170.0,137.5 172.0,135.5 174.0,136.5 176.0,138.0 178.0,140.0 180.5,140.5 182.5,142.0 184.0,144.0 182.0,146.0 180.0,148.5 178.0,151.0 176.5,153.5 175.0,155.5 172.5,157.0 170.0,159.0 168.5,158.0 166.0,157.0 164.0,155.5 162.0,153.5 162.5,151.0 163.5,148.5 165.0,146.0" fill="#f4976a" stroke="#f4976a"/>
<polygon points="93.5,124.0 96.0,125.0 98.0,126.5 100.3,127.2 102.8,125.4 105.3,123.4 107.8,122.4 110.3,124.4 111.3,126.9 109.8,129.4 110.3,133.4 109.8,136.4 110.5,137.6 108.3,140.5 105.6,143.0 103.2,145.6 103.5,148.4 100.8,147.3 98.3,147.9 96.9,150.2 94.5,151.5 91.0,152.5 88.0,152.8 85.5,152.0 83.5,150.0 81.5,147.5 80.0,144.5 80.8,142.0 81.5,140.0 83.5,138.5 86.0,136.5 88.5,134.0 90.0,130.5 92.0,127.0" fill="#4474bc" stroke="#4474bc"/>
<polygon points="111.3,126.9 113.3,127.9 115.3,127.4 116.8,128.9 118.3,130.9 119.3,133.9 119.8,136.9 118.8,139.4 117.3,138.4 115.0,136.9 112.8,136.8 110.5,137.6 109.8,136.4 110.3,133.4 109.8,129.4" fill="#4474bc" stroke="#4474bc"/>
<polygon points="110.5,137.6 112.8,136.8 115.0,136.9 117.3,138.4 118.8,139.4 118.8,143.4 117.8,146.4 116.3,148.9 115.3,151.9 113.8,154.4 111.3,155.9 109.3,157.4 107.3,158.9 105.8,155.9 104.8,153.9 104.8,150.4 103.5,148.4 103.2,145.6 105.6,143.0 108.3,140.5" fill="#4474bc" stroke="#4474bc"/>
<polygon points="96.9,150.2 98.3,147.9 100.8,147.3 103.5,148.4 104.8,150.4 104.8,153.9 102.8,155.4 100.3,156.9 98.8,158.4 97.8,156.8 97.2,155.2 97.0,153.0" fill="#4474bc" stroke="#4474bc"/>
<polygon points="54.0,156.5 56.5,155.0 59.5,153.5 62.5,152.5 66.0,153.0 69.0,153.0 72.0,152.0 75.0,150.0 77.5,148.0 79.0,146.5 80.0,144.5 81.5,147.5 83.5,150.0 85.5,152.0 88.0,152.8 91.0,152.5 94.5,151.5 96.9,150.2 97.0,153.0 97.2,155.2 94.3,156.9 91.3,158.9 88.8,160.9 86.8,163.5 85.0,166.0 83.3,167.8 81.5,170.5 80.3,174.0 80.0,178.0 80.3,181.5 79.0,183.5 76.0,182.8 74.3,183.3 73.0,185.5 71.0,188.0 68.0,189.5 65.0,190.0 62.5,188.5 61.0,185.0 59.5,182.0 57.5,179.5 55.0,177.5 54.5,174.5 53.5,171.0 52.0,168.0 50.5,165.5 51.0,162.5 52.5,159.5" fill="#4474bc" stroke="#4474bc"/>
<polygon points="97.2,155.2 97.8,156.8 98.8,158.4 100.3,156.9 102.8,155.4 104.8,153.9 105.8,155.9 107.3,158.9 106.3,161.9 105.8,163.4 105.3,164.9 104.8,168.4 103.8,171.4 101.8,173.9 99.3,175.9 96.8,177.4 94.3,178.9 91.8,180.4 89.8,182.2 88.5,184.0 87.5,185.5 87.0,188.0 85.5,190.0 83.5,192.0 81.0,193.5 78.5,194.0 77.0,192.5 77.5,190.0 79.0,187.5 80.0,184.8 79.0,183.5 80.3,181.5 80.0,178.0 80.3,174.0 81.5,170.5 83.3,167.8 85.0,166.0 86.8,163.5 88.8,160.9 91.3,158.9 94.3,156.9" fill="#4474bc" stroke="#4474bc"/>
<polygon points="118.8,139.4 120.3,139.9 122.8,138.9 125.3,139.4 127.8,138.4 130.3,138.9 133.0,139.5 136.0,138.0 138.8,139.1 141.3,141.0 141.5,143.0 141.0,146.5 140.0,150.0 138.5,152.5 136.5,154.5 134.5,156.0 136.0,158.5 138.5,161.5 135.0,163.5 131.0,164.5 128.5,165.0 127.5,167.0 129.0,169.5 128.5,172.5 127.0,174.5 124.5,176.0 121.5,177.5 120.5,174.5 118.5,173.0 116.0,171.5 115.0,169.0 112.5,166.5 110.0,165.0 107.5,163.5 105.8,163.4 106.3,161.9 107.3,158.9 109.3,157.4 111.3,155.9 113.8,154.4 115.3,151.9 116.3,148.9 117.8,146.4 118.8,143.4" fill="#a1b3c0" stroke="#a1b3c0"/>
<polygon points="138.8,139.1 141.5,139.6 143.0,138.1 145.0,137.6 148.0,138.1 149.5,139.6 151.0,141.1 155.0,142.6 159.0,143.6 163.0,144.1 166.0,143.5 165.0,146.0 163.5,148.5 162.5,151.0 162.0,153.5 159.0,153.5 156.0,154.5 153.0,155.5 150.0,156.5 147.5,158.5 144.5,159.0 141.5,160.0 138.5,161.5 136.0,158.5 134.5,156.0 136.5,154.5 138.5,152.5 140.0,150.0 141.0,146.5 141.5,143.0 141.3,141.0" fill="#fffdbf" stroke="#fffdbf"/>
<polygon points="105.8,163.4 107.5,163.5 110.0,165.0 112.5,166.5 115.0,169.0 116.0,171.5 118.5,173.0 120.5,174.5 121.5,177.5 124.5,176.0 127.0,174.5 128.5,177.0 128.0,180.0 126.5,183.0 124.5,185.5 122.5,188.0 120.5,190.0 118.5,191.5 117.5,192.2 115.0,193.0 112.0,191.5 109.0,191.0 106.0,191.5 104.0,191.0 101.0,190.3 98.0,190.0 95.0,188.5 93.0,186.5 90.5,185.5 88.5,184.0 89.8,182.2 91.8,180.4 94.3,178.9 96.8,177.4 99.3,175.9 101.8,173.9 103.8,171.4 104.8,168.4 105.3,164.9" fill="#a1b3c0" stroke="#a1b3c0"/>
<polygon points="127.0,174.5 128.5,172.5 129.0,169.5 127.5,167.0 128.5,165.0 131.0,164.5 135.0,163.5 138.5,161.5 141.5,160.0 144.5,159.0 147.5,158.5 150.0,156.5 153.0,155.5 156.0,154.5 159.0,153.5 162.0,153.5 164.0,155.5 166.0,157.0 168.5,158.0 170.0,159.0 170.8,160.5 169.5,161.8 167.0,162.8 164.5,164.0 163.0,167.5 161.0,171.0 159.0,174.5 156.5,177.5 155.5,180.0 154.0,183.0 152.0,185.0 150.5,187.5 148.5,189.5 146.5,191.5 145.0,194.0 143.5,196.5 141.5,194.5 138.5,195.5 135.5,195.0 133.0,194.0 130.5,195.5 128.5,197.5 126.0,196.0 123.0,195.0 120.0,193.5 117.5,192.2 118.5,191.5 120.5,190.0 122.5,188.0 124.5,185.5 126.5,183.0 128.0,180.0 128.5,177.0" fill="#f4976a" stroke="#f4976a"/>
<polygon points="169.5,161.8 171.5,161.5 175.0,161.0 178.5,160.3 179.0,162.0 180.5,164.5 182.5,167.0 184.5,169.5 183.5,172.0 184.0,174.5 185.5,177.0 187.5,179.5 189.0,182.0 186.5,183.5 184.0,184.5 181.5,185.5 179.0,186.5 176.5,185.5 174.5,184.0 172.0,182.5 170.0,183.5 167.5,185.0 165.5,183.5 163.5,182.5 161.5,180.5 159.0,179.0 156.5,177.5 159.0,174.5 161.0,171.0 163.0,167.5 164.5,164.0 167.0,162.8" fill="#e02e25" stroke="#e02e25"/>
<polygon points="178.5,160.3 181.5,157.5 184.5,155.5 187.5,155.0 190.5,156.0 193.5,158.0 196.5,160.0 199.5,161.5 202.5,162.5 205.5,163.0 208.5,162.5 207.0,164.5 204.5,166.5 202.0,168.5 200.0,171.0 198.5,173.5 196.5,176.0 195.5,177.5 197.5,177.0 200.0,175.5 202.0,173.5 204.0,171.5 206.0,170.5 207.5,172.0 207.0,174.5 208.5,177.0 209.5,179.5 208.0,181.0 206.5,182.5 205.0,181.0 204.0,179.0 202.5,178.0 201.5,180.0 202.0,182.5 200.5,183.5 198.5,183.0 197.0,184.8 196.5,186.2 194.5,187.5 192.5,187.0 190.5,184.5 189.0,182.0 187.5,179.5 185.5,177.0 184.0,174.5 183.5,172.0 184.5,169.5 182.5,167.0 180.5,164.5 179.0,162.0" fill="#f4976a" stroke="#f4976a"/>
<polygon points="205.3,156.2 207.2,155.4 209.8,156.0 211.8,157.6 212.3,159.3 210.3,160.0 207.6,159.2 205.8,157.8" fill="#f4976a" stroke="#f4976a"/>
<polygon points="206.2,150.3 207.6,149.8 208.6,150.8 207.8,151.8 206.5,151.5" fill="#f4976a" stroke="#f4976a"/>
<polygon points="211.6,136.5 213.5,136.5 213.5,137.5 211.6,137.5" fill="#f4976a" stroke="#f4976a"/>
<polygon points="117.5,192.2 120.0,193.5 123.0,195.0 126.0,196.0 128.5,197.5 130.5,195.5 133.0,194.0 135.5,195.0 138.5,195.5 141.5,194.5 143.5,196.5 145.5,199.0 146.5,202.0 146.5,205.0 147.0,207.0 144.0,208.0 141.5,209.5 139.5,211.5 138.0,214.0 136.5,216.5 134.5,218.5 133.5,220.5 134.0,223.0 133.0,224.5 130.0,225.0 127.5,225.5 126.5,224.0 126.0,220.5 125.0,217.0 123.5,213.5 121.5,210.5 120.0,208.5 117.5,207.5 115.0,206.0 113.0,204.0 112.0,201.5 112.5,198.5 114.5,196.0 116.0,194.0" fill="#f4976a" stroke="#f4976a"/>
<polygon points="143.5,196.5 145.0,194.0 146.5,191.5 148.5,189.5 150.5,187.5 152.0,185.0 154.0,183.0 155.5,180.0 156.5,177.5 159.0,179.0 161.5,180.5 163.5,182.5 165.5,183.5 167.5,185.0 170.0,183.5 172.0,182.5 174.5,184.0 176.5,185.5 179.0,186.5 180.0,189.5 179.5,192.5 179.5,195.5 178.5,198.0 176.5,199.5 174.5,201.5 172.5,199.5 170.5,199.5 168.5,201.5 166.0,203.0 163.0,203.5 161.0,205.0 160.0,208.0 158.5,211.0 155.5,213.0 153.0,212.0 151.0,210.0 149.5,207.5 147.0,207.0 146.5,205.0 146.5,202.0 145.5,199.0" fill="#e02e25" stroke="#e02e25"/>
<polygon points="189.0,182.0 186.5,183.5 184.0,184.5 181.5,185.5 179.0,186.5 189.0,182.0 190.5,184.5 192.5,187.0 194.5,187.5 196.5,186.2 199.0,185.5 202.0,186.5 204.0,188.5 204.5,191.0 203.0,193.0 204.0,195.5 202.5,197.5 201.0,198.5 202.0,201.0 204.5,203.0 206.0,205.5 206.5,208.5 205.0,210.0 203.0,210.0 201.0,211.0 200.0,213.0 199.5,215.5 198.0,217.5 196.5,217.0 196.0,214.5 197.0,212.5 195.5,211.5 194.0,212.5 193.5,210.0 194.5,208.0 194.0,206.5 191.5,207.0 189.0,208.0 186.0,207.5 183.0,207.0 180.0,206.5 177.5,207.5 175.5,208.0 173.5,209.5 173.0,207.0 173.5,204.0 174.5,201.5 176.5,199.5 178.5,198.0 179.5,195.5 179.5,192.5 180.0,189.5 179.0,186.5" fill="#e02e25" stroke="#e02e25"/>
<polygon points="133.0,224.5 134.0,223.0 133.5,220.5 134.5,218.5 136.5,216.5 138.0,214.0 139.5,211.5 141.5,209.5 144.0,208.0 147.0,207.0 149.5,207.5 151.0,210.0 153.0,212.0 155.5,213.0 158.5,211.0 160.0,208.0 161.0,205.0 163.0,203.5 166.0,203.0 168.5,201.5 170.5,199.5 172.5,199.5 174.5,201.5 173.5,204.0 173.0,207.0 173.5,209.5 175.5,208.0 175.0,210.5 174.5,213.5 175.5,216.5 176.5,219.5 176.2,222.5 174.5,225.0 172.0,226.5 169.0,227.5 166.0,229.0 163.5,231.0 162.0,234.0 160.5,237.0 158.5,237.3 157.2,238.3 156.9,240.6 155.9,242.0 154.2,243.0 152.9,244.3 151.2,246.0 149.6,246.3 148.0,244.3 146.3,244.6 144.3,245.0 142.3,244.6 142.0,242.3 141.0,239.6 139.6,237.0 138.0,234.3 136.3,231.6 135.3,229.0 134.3,226.8" fill="#e02e25" stroke="#e02e25"/>
<polygon points="175.5,208.0 177.5,207.5 180.0,206.5 183.0,207.0 186.0,207.5 189.0,208.0 191.5,207.0 194.0,206.5 194.5,208.0 193.5,211.5 192.5,214.5 193.0,217.5 191.0,220.5 188.5,222.0 189.5,224.5 188.0,227.0 186.0,229.5 185.0,232.5 186.5,235.0 185.5,238.0 186.0,241.0 184.5,244.0 182.5,246.0 180.0,245.0 177.5,244.0 175.0,244.5 172.5,245.5 169.5,246.0 166.5,246.5 165.0,244.5 163.5,242.0 162.0,239.5 160.5,237.0 162.0,234.0 163.5,231.0 166.0,229.0 169.0,227.5 172.0,226.5 174.5,225.0 176.2,222.5 176.5,219.5 175.5,216.5 174.5,213.5 175.0,210.5" fill="#e02e25" stroke="#e02e25"/>
</g>
<path class="rg" fill="none" d="M48.8 54.0 48.5 53.0 48.8 50.0 51.0 47.5 54.0 46.5 58.0 46.2 61.0 47.5 63.5 50.0 65.5 52.5 67.0 55.0 69.0 56.5 70.0 54.5 72.5 54.0 74.5 55.0 76.5 54.0 78.5 52.0 81.0 51.2 83.5 49.0 86.5 48.8 89.0 50.5 90.5 53.5 92.5 54.8M92.5 54.8 95.0 54.5 99.0 54.0 102.0 55.0 103.5 54.3M103.5 54.3 101.5 58.0 100.0 60.0 96.0 61.2 92.0 62.2 89.8 63.2 90.2 65.5 91.5 68.0 92.8 70.5 93.2 72.5M93.2 72.5 90.0 73.2 87.5 73.7 85.7 74.7 84.2 74.7 83.5 72.3 82.0 69.5 78.4 67.5 77.0 67.5 74.5 66.8 72.0 67.5 69.0 67.5 66.5 66.8 65.0 65.0 63.5 62.5 61.5 60.5 58.5 59.0 55.0 57.5 52.0 56.0 49.5 55.0 48.8 54.0M92.5 54.8 93.5 54.5 96.5 53.0 96.5 45.5 99.0 45.0 103.0 40.5 103.5 35.0 108.0 33.5 111.0 31.5 112.5 33.0 112.8 37.0 115.0 40.0 117.5 40.5 120.0 43.0 122.5 45.0 125.0 46.0 127.0 46.5 128.5 46.8M128.5 46.8 127.5 50.0 126.5 53.0 124.0 54.5 123.5 57.0 125.0 59.5 124.5 61.0M124.5 61.0 121.5 61.5 118.5 61.2 116.0 60.5M116.0 60.5 115.0 58.5 113.5 55.0 111.5 52.5 108.5 53.0 105.0 54.0 103.5 54.3M116.0 60.5 116.5 61.5 115.8 63.5 114.5 65.0 112.0 66.5 110.0 68.0 109.5 71.0 110.0 74.0 109.5 77.0 110.5 80.0 110.0 83.0 108.5 85.0 106.0 87.0 104.3 87.9 99.0 88.3 98.8 88.8 104.1 88.7 103.8 90.0 102.5 92.5 101.2 94.5M101.2 94.5 99.8 93.0 99.0 91.0 98.5 89.0 96.5 89.7 94.5 90.0M94.5 90.0 93.5 88.5 92.0 86.8M92.0 86.8 92.5 84.0 93.0 80.0 92.5 77.0 93.0 74.0 93.2 72.5M48.8 54.0 47.0 56.5 45.2 58.5 45.5 60.5 48.0 61.5 50.0 63.5 52.5 65.0 54.5 67.5 55.5 70.0 56.5 72.0M56.5 72.0 58.5 71.5 61.5 70.5 65.0 68.5 65.7 72.0 66.2 75.0 66.0 78.0 66.5 81.0 66.7 84.0 66.6 87.0 66.5 89.6M66.5 89.6 65.8 89.7M65.8 89.7 64.4 87.1 62.2 86.1 58.6 85.6 56.4 81.6 54.8 78.5M54.8 78.5 54.6 77.0 55.8 75.0 56.2 73.0 56.5 72.0M66.5 89.6 69.3 90.1 71.5 87.9 73.7 84.7 76.4 83.8 79.1 85.6 81.8 88.3 85.3 89.6 87.9 88.7 92.0 86.8M65.8 89.7 64.8 94.1 65.3 96.8 67.0 99.4M67.0 99.4 63.5 101.7 60.4 102.1 56.8 99.5M56.8 99.5 55.2 102.2 52.5 102.2 50.0 101.0 47.0 99.5 44.5 97.5 43.0 95.0 42.5 92.0 41.0 90.0 38.5 89.0 36.0 88.5M36.0 88.5 35.5 86.0 34.5 83.0 33.5 79.0 33.0 75.5 34.5 73.5 37.0 73.0 39.5 74.5 42.5 75.5 44.5 78.0 46.5 81.0 48.5 81.0 51.0 79.5 53.5 77.5 54.8 78.5M56.8 99.5 57.0 103.0 58.0 107.0 58.5 111.0 57.7 114.9M57.7 114.9 55.5 115.8 52.4 114.9 48.8 114.5 46.2 115.8M46.2 115.8 44.5 116.0 42.5 116.0 40.5 117.0 38.0 117.5 35.5 117.0 33.0 116.5 30.5 115.5 29.0 113.0 28.5 110.5 27.5 108.0 25.0 107.0 22.5 106.0 21.0 104.5 20.5 102.2 21.5 101.8 24.0 102.5 27.0 102.0 29.0 100.0 29.5 96.0 30.0 92.0 31.5 89.0 36.0 88.5M67.0 99.4 70.0 101.8 72.5 104.0 75.0 106.0 76.5 107.7M76.5 107.7 75.4 108.3 71.9 109.6 69.6 110.9M69.6 110.9 66.5 110.0 63.5 111.8 60.8 113.6 57.7 114.9M94.5 90.0 94.5 92.0 92.5 94.0 90.0 95.0 87.5 94.8 85.5 96.0 84.0 97.5 82.0 99.5 80.5 102.5 78.5 105.0 76.5 107.7M124.5 61.0 125.0 63.0 126.5 66.0 126.0 69.0 125.5 72.0 126.5 75.0 127.5 76.5M127.5 76.5 124.5 78.0 121.5 80.0 119.5 82.0 121.0 83.8 123.5 86.0 125.0 88.5 124.7 92.0 123.0 94.7M123.0 94.7 121.5 93.8 119.0 92.5 116.0 92.0 113.5 93.5 112.5 97.0 109.0 99.0 105.0 100.2 103.0 99.0 101.2 94.5M128.5 46.8 132.0 46.5 136.0 47.5 139.0 49.5 141.0 52.5 143.5 56.0 146.0 60.0 148.5 64.0 151.0 68.5 153.5 73.0 156.0 77.5 158.5 81.0 161.0 84.0 162.5 87.5 163.5 90.5M163.5 90.5 162.0 90.8 159.0 92.0 155.0 92.5 151.0 93.0 148.0 93.5 145.8 95.5M145.8 95.5 146.5 91.0 147.5 87.0 146.5 83.5 144.0 81.5 140.0 81.0 135.0 81.5 132.0 82.5M132.0 82.5 131.2 80.5 130.0 78.5 127.5 76.5M132.0 82.5 133.5 86.0 135.0 89.5 137.0 93.0 139.0 96.5 140.0 100.0 140.5 103.5 141.0 106.2M123.8 111.9 127.3 111.4 131.3 110.4 135.3 108.9 138.3 107.4 141.0 106.2M121.8 106.2 122.5 110.4 123.8 111.9M122.8 94.7 123.5 99.0 123.3 102.0 121.8 106.2M121.8 106.2 120.8 105.2 118.8 103.9 115.3 103.2 111.3 103.4 109.8 104.9 110.8 106.9 112.8 109.9 112.8 112.9 111.3 115.4 109.8 117.9 108.3 120.4 107.8 122.4M141.0 106.2 141.5 109.4 141.5 113.9 141.3 117.9 139.8 119.4 137.3 120.4 134.8 119.9 132.3 121.4 130.3 124.4 128.8 127.4M123.8 111.9 123.3 114.4 124.8 117.4 125.3 119.9 123.8 122.4 125.3 124.4 127.3 125.9 128.8 127.4M128.8 127.4 129.3 130.4 128.8 133.9 129.8 136.4 130.3 138.9M130.3 138.9 127.8 138.4 125.3 139.4 122.8 138.9 120.3 139.9 118.8 139.4M118.8 139.4 119.8 136.9 119.3 133.9 118.3 130.9 116.8 128.9 115.3 127.4 113.3 127.9 111.3 126.9M111.3 126.9 110.3 124.4 107.8 122.4M145.8 95.5 149.0 96.5 150.0 99.5 152.0 101.0 152.5 104.5 153.5 107.5 155.0 110.0 156.0 111.8M156.0 111.8 155.3 112.6 153.5 113.9 150.7 115.1 147.8 115.3M147.8 115.3 145.2 113.5 142.8 110.0 141.0 106.2M163.5 90.8 165.0 93.0 169.0 94.0 173.0 94.5 176.0 96.5 177.5 99.5 179.0 102.0 182.0 104.0 185.0 105.5 188.0 107.5 190.5 110.0 192.0 112.5 191.0 114.0 188.0 113.2 185.0 112.2 182.0 111.2 179.0 110.7 177.0 111.6 175.0 113.0 173.5 114.0 172.0 113.6 169.5 112.6 167.5 111.2 165.0 110.2 162.0 109.7 159.0 109.7 157.0 110.7 156.0 111.8M147.8 115.3 148.5 119.1 149.5 122.1 150.5 124.6 151.2 126.6 148.5 127.1 145.0 126.6 142.5 127.6 140.0 128.6 139.0 130.6 138.5 133.6 139.0 136.6 138.8 139.1M156.0 111.8 156.3 115.1 159.1 117.5 161.1 120.3 161.9 123.5 160.3 125.9 157.9 128.3 155.1 130.6 152.7 133.3 150.5 136.1 149.5 139.6M149.5 139.6 148.0 138.1 145.0 137.6 143.0 138.1 141.5 139.6 138.8 139.1M156.0 111.8 157.3 112.9 159.5 112.3 162.0 112.2 164.0 113.2 165.8 115.2 167.8 116.6 170.5 116.8 173.0 116.8 175.3 117.6 177.0 120.0 178.5 122.5M178.5 122.5 176.5 124.5 175.5 127.5 176.0 130.0 175.0 132.5 173.5 134.5 172.0 135.5M172.0 135.5 170.0 137.5 168.0 139.5 167.5 142.0 166.0 143.5M166.0 143.5 163.0 144.1 159.0 143.6 155.0 142.6 151.0 141.1 149.5 139.6M178.5 122.5 181.5 122.5 184.5 123.5 187.5 125.0 190.0 126.5 192.5 129.0 194.5 131.5 196.5 134.0 195.5 136.5 193.5 138.5 191.0 140.0 188.0 141.5 185.5 143.5 184.0 144.0M184.0 144.0 182.5 142.0 180.5 140.5 178.0 140.0 176.0 138.0 174.0 136.5 172.0 135.5M166.0 143.5 165.0 146.0 163.5 148.5 162.5 151.0 162.0 153.5M162.0 153.5 164.0 155.5 166.0 157.0 168.5 158.0 170.0 159.0M170.0 159.0 172.5 157.0 175.0 155.5 176.5 153.5 178.0 151.0 180.0 148.5 182.0 146.0 184.0 144.0M175.3 115.0 177.5 113.4 180.5 113.6 183.5 114.6 186.5 116.0 189.5 117.0 192.0 117.6 192.6 119.5 190.0 120.0 187.0 119.6 184.0 118.6 181.0 117.6 178.0 116.8 175.8 116.0ZM138.8 139.1 136.0 138.0 133.0 139.5 130.3 138.9M76.5 107.7 78.0 110.5 80.5 112.0 82.5 114.0 84.0 116.5 86.5 118.0 89.5 117.5 92.5 116.5 95.0 116.5 95.5 119.5 94.5 122.0 93.5 124.0M107.8 122.4 105.3 123.4 102.8 125.4 100.3 127.2 98.0 126.5 96.0 125.0 93.5 124.0M93.5 124.0 92.0 127.0 90.0 130.5 88.5 134.0 86.0 136.5 83.5 138.5 81.5 140.0M81.5 140.0 79.0 139.0 76.0 139.0 72.5 138.0 70.0 136.0 69.0 133.0 69.5 130.5 71.5 128.5 74.0 127.5 75.5 125.5 74.5 123.0 75.0 120.0 73.5 117.0 72.0 114.0 69.6 110.9M54.0 156.5 51.5 155.0 49.0 154.5 47.0 153.0 44.5 153.5 42.0 152.0 40.0 149.0 39.2 146.0 39.0 142.5 40.5 140.0 43.0 138.5 45.5 137.0 47.0 134.5 48.0 131.0 48.5 127.0 48.0 123.0 47.0 119.0 46.2 115.8M80.0 144.5 79.0 146.5 77.5 148.0 75.0 150.0 72.0 152.0 69.0 153.0 66.0 153.0 62.5 152.5 59.5 153.5 56.5 155.0 54.0 156.5M81.5 140.0 80.8 142.0 80.0 144.5M80.0 144.5 81.5 147.5 83.5 150.0 85.5 152.0 88.0 152.8 91.0 152.5 94.5 151.5 96.9 150.2M96.9 150.2 97.0 153.0 97.2 155.2M97.2 155.2 94.3 156.9 91.3 158.9 88.8 160.9 86.8 163.5 85.0 166.0 83.3 167.8 81.5 170.5 80.3 174.0 80.0 178.0 80.3 181.5 79.0 183.5M79.0 183.5 76.0 182.8 74.3 183.3 73.0 185.5 71.0 188.0 68.0 189.5 65.0 190.0 62.5 188.5 61.0 185.0 59.5 182.0 57.5 179.5 55.0 177.5 54.5 174.5 53.5 171.0 52.0 168.0 50.5 165.5 51.0 162.5 52.5 159.5 54.0 156.5M111.3 126.9 109.8 129.4 110.3 133.4 109.8 136.4 110.5 137.6M110.5 137.6 108.3 140.5 105.6 143.0 103.2 145.6 103.5 148.4M103.5 148.4 100.8 147.3 98.3 147.9 96.9 150.2M110.5 137.6 112.8 136.8 115.0 136.9 117.3 138.4 118.8 139.4M118.8 139.4 118.8 143.4 117.8 146.4 116.3 148.9 115.3 151.9 113.8 154.4 111.3 155.9 109.3 157.4 107.3 158.9M107.3 158.9 105.8 155.9 104.8 153.9M104.8 153.9 104.8 150.4 103.5 148.4M104.8 153.9 102.8 155.4 100.3 156.9 98.8 158.4 97.8 156.8 97.2 155.2M107.3 158.9 106.3 161.9 105.8 163.4M105.8 163.4 105.3 164.9 104.8 168.4 103.8 171.4 101.8 173.9 99.3 175.9 96.8 177.4 94.3 178.9 91.8 180.4 89.8 182.2 88.5 184.0M88.5 184.0 87.5 185.5 87.0 188.0 85.5 190.0 83.5 192.0 81.0 193.5 78.5 194.0 77.0 192.5 77.5 190.0 79.0 187.5 80.0 184.8 79.0 183.5M138.8 139.1 141.3 141.0 141.5 143.0 141.0 146.5 140.0 150.0 138.5 152.5 136.5 154.5 134.5 156.0 136.0 158.5 138.5 161.5M138.5 161.5 135.0 163.5 131.0 164.5 128.5 165.0 127.5 167.0 129.0 169.5 128.5 172.5 127.0 174.5M127.0 174.5 124.5 176.0 121.5 177.5 120.5 174.5 118.5 173.0 116.0 171.5 115.0 169.0 112.5 166.5 110.0 165.0 107.5 163.5 105.8 163.4M127.0 174.5 128.5 177.0 128.0 180.0 126.5 183.0 124.5 185.5 122.5 188.0 120.5 190.0 118.5 191.5 117.5 192.2M88.5 184.0 90.5 185.5 93.0 186.5 95.0 188.5 98.0 190.0 101.0 190.3 104.0 191.0 106.0 191.5 109.0 191.0 112.0 191.5 115.0 193.0 117.5 192.2M117.5 192.2 120.0 193.5 123.0 195.0 126.0 196.0 128.5 197.5 130.5 195.5 133.0 194.0 135.5 195.0 138.5 195.5 141.5 194.5 143.5 196.5M133.0 224.5 130.0 225.0 127.5 225.5 126.5 224.0 126.0 220.5 125.0 217.0 123.5 213.5 121.5 210.5 120.0 208.5 117.5 207.5 115.0 206.0 113.0 204.0 112.0 201.5 112.5 198.5 114.5 196.0 116.0 194.0 117.5 192.2M143.5 196.5 145.5 199.0 146.5 202.0 146.5 205.0 147.0 207.0M147.0 207.0 144.0 208.0 141.5 209.5 139.5 211.5 138.0 214.0 136.5 216.5 134.5 218.5 133.5 220.5 134.0 223.0 133.0 224.5M156.5 177.5 155.5 180.0 154.0 183.0 152.0 185.0 150.5 187.5 148.5 189.5 146.5 191.5 145.0 194.0 143.5 196.5M147.0 207.0 149.5 207.5 151.0 210.0 153.0 212.0 155.5 213.0 158.5 211.0 160.0 208.0 161.0 205.0 163.0 203.5 166.0 203.0 168.5 201.5 170.5 199.5 172.5 199.5 174.5 201.5M160.5 237.0 158.5 237.3 157.2 238.3 156.9 240.6 155.9 242.0 154.2 243.0 152.9 244.3 151.2 246.0 149.6 246.3 148.0 244.3 146.3 244.6 144.3 245.0 142.3 244.6 142.0 242.3 141.0 239.6 139.6 237.0 138.0 234.3 136.3 231.6 135.3 229.0 134.3 226.8 133.0 224.5M175.5 208.0 175.0 210.5 174.5 213.5 175.5 216.5 176.5 219.5 176.2 222.5 174.5 225.0 172.0 226.5 169.0 227.5 166.0 229.0 163.5 231.0 162.0 234.0 160.5 237.0M175.5 208.0 177.5 207.5 180.0 206.5 183.0 207.0 186.0 207.5 189.0 208.0 191.5 207.0 194.0 206.5M194.0 206.5 194.5 208.0 193.5 211.5 192.5 214.5 193.0 217.5 191.0 220.5 188.5 222.0 189.5 224.5 188.0 227.0 186.0 229.5 185.0 232.5 186.5 235.0 185.5 238.0 186.0 241.0 184.5 244.0 182.5 246.0 180.0 245.0 177.5 244.0 175.0 244.5 172.5 245.5 169.5 246.0 166.5 246.5 165.0 244.5 163.5 242.0 162.0 239.5 160.5 237.0M174.5 201.5 173.5 204.0 173.0 207.0 173.5 209.5 175.5 208.0M179.0 186.5 180.0 189.5 179.5 192.5 179.5 195.5 178.5 198.0 176.5 199.5 174.5 201.5M156.5 177.5 159.0 179.0 161.5 180.5 163.5 182.5 165.5 183.5 167.5 185.0 170.0 183.5 172.0 182.5 174.5 184.0 176.5 185.5 179.0 186.5M179.0 186.5 181.5 185.5 184.0 184.5 186.5 183.5 189.0 182.0M189.0 182.0 187.5 179.5 185.5 177.0 184.0 174.5 183.5 172.0 184.5 169.5 182.5 167.0 180.5 164.5 179.0 162.0 178.5 160.3M169.5 161.8 171.5 161.5 175.0 161.0 178.5 160.3M169.5 161.8 167.0 162.8 164.5 164.0 163.0 167.5 161.0 171.0 159.0 174.5 156.5 177.5M170.0 159.0 170.8 160.5 169.5 161.8M138.5 161.5 141.5 160.0 144.5 159.0 147.5 158.5 150.0 156.5 153.0 155.5 156.0 154.5 159.0 153.5 162.0 153.5M189.0 182.0 190.5 184.5 192.5 187.0 194.5 187.5 196.5 186.2M178.5 160.3 181.5 157.5 184.5 155.5 187.5 155.0 190.5 156.0 193.5 158.0 196.5 160.0 199.5 161.5 202.5 162.5 205.5 163.0 208.5 162.5 207.0 164.5 204.5 166.5 202.0 168.5 200.0 171.0 198.5 173.5 196.5 176.0 195.5 177.5 197.5 177.0 200.0 175.5 202.0 173.5 204.0 171.5 206.0 170.5 207.5 172.0 207.0 174.5 208.5 177.0 209.5 179.5 208.0 181.0 206.5 182.5 205.0 181.0 204.0 179.0 202.5 178.0 201.5 180.0 202.0 182.5 200.5 183.5 198.5 183.0 197.0 184.8 196.5 186.2M196.5 186.2 199.0 185.5 202.0 186.5 204.0 188.5 204.5 191.0 203.0 193.0 204.0 195.5 202.5 197.5 201.0 198.5 202.0 201.0 204.5 203.0 206.0 205.5 206.5 208.5 205.0 210.0 203.0 210.0 201.0 211.0 200.0 213.0 199.5 215.5 198.0 217.5 196.5 217.0 196.0 214.5 197.0 212.5 195.5 211.5 194.0 212.5 193.5 210.0 194.5 208.0 194.0 206.5M205.3 156.2 207.2 155.4 209.8 156.0 211.8 157.6 212.3 159.3 210.3 160.0 207.6 159.2 205.8 157.8ZM206.2 150.3 207.6 149.8 208.6 150.8 207.8 151.8 206.5 151.5ZM211.6 136.5 213.5 136.5 213.5 137.5 211.6 137.5Z"/>
</g>
<g class="rl">
<text transform="translate(111.7 320.3) scale(1 1.2)">LYG</text>
<text transform="translate(79.0 335.3) scale(1 1.2)">XZ</text>
<text transform="translate(74.1 348.1) scale(1 1.2)">SuZ</text>
<text transform="translate(101.6 346.5) scale(1 1.2)">SQ</text>
<text transform="translate(115.8 350.2) scale(1 1.2)">HA</text>
<text transform="translate(138.6 345.2) scale(1 1.2)">YC</text>
<text transform="translate(60.8 352.7) scale(1 1.2)">HB</text>
<text transform="translate(50.0 362.7) scale(1 1.2)">BZ</text>
<text transform="translate(77.4 367.7) scale(1 1.2)">BB</text>
<text transform="translate(130.7 368.6) scale(1 1.2)">YZ</text>
<text transform="translate(145.7 376.5) scale(1 1.2)">TZ</text>
<text transform="translate(164.5 376.9) scale(1 1.2)">NT</text>
<text transform="translate(38.4 379.4) scale(1 1.2)">FY</text>
<text transform="translate(65.3 380.2) scale(1 1.2)">HN</text>
<text transform="translate(93.2 380.5) scale(1 1.2)">ChuZ</text>
<text transform="translate(83.5 399.4) scale(1 1.2)">HF</text>
<text transform="translate(116.6 394.4) scale(1 1.2)">NJ</text>
<text transform="translate(134.9 388.9) scale(1 1.2)">ZJ</text>
<text transform="translate(139.0 398.6) scale(1 1.2)">CZ</text>
<text transform="translate(156.1 396.0) scale(1 1.2)">WX</text>
<text transform="translate(168.3 402.6) scale(1 1.2)">SZ</text>
<text transform="translate(184.9 406.0) scale(1 1.2)">SH</text>
<text transform="translate(58.3 409.4) scale(1 1.2)">LA</text>
<text transform="translate(97.4 412.3) scale(1 1.2)">CH</text>
<text transform="translate(115.5 406.6) scale(1 1.2)">MAS</text>
<text transform="translate(111.3 421.0) scale(1 1.2)">WH</text>
<text transform="translate(100.9 426.4) scale(1 1.2)">TL</text>
<text transform="translate(151.2 421.4) scale(1 1.2)">HuZ</text>
<text transform="translate(171.1 421.0) scale(1 1.2)">JX</text>
<text transform="translate(125.3 430.2) scale(1 1.2)">XC</text>
<text transform="translate(66.9 441.0) scale(1 1.2)">AQ</text>
<text transform="translate(90.3 446.8) scale(1 1.2)">ChiZ</text>
<text transform="translate(208.8 431.1) scale(1 1.2)">ZS</text>
<text transform="translate(191.6 444.3) scale(1 1.2)">NB</text>
<text transform="translate(173.3 447.7) scale(1 1.2)">SX</text>
<text transform="translate(109.5 454.3) scale(1 1.2)">HS</text>
<text transform="translate(141.1 450.2) scale(1 1.2)">HZ</text>
<text transform="translate(163.9 467.7) scale(1 1.2)">JH</text>
<text transform="translate(189.4 470.7) scale(1 1.2)">TaiZ</text>
<text transform="translate(131.4 479.2) scale(1 1.2)">QZ</text>
<text transform="translate(150.1 496.7) scale(1 1.2)">LS</text>
<text transform="translate(180.0 500.2) scale(1 1.2)">WZ</text>
</g>
<rect x="17.5" y="284.7" width="201.7" height="251.7" fill="none" stroke="#3a3a3a" stroke-width="0.9"/>
<text class="ti" x="21.1" y="294.6">c.urbanization degree</text>
<text class="t" text-anchor="middle" x="18.8" y="543.4">114°0'0"E</text>
<text class="t" text-anchor="middle" x="71.8" y="543.4">116°0'0"E</text>
<text class="t" text-anchor="middle" x="123.7" y="543.4">118°0'0"E</text>
<text class="t" text-anchor="middle" x="175.8" y="543.4">120°0'0"E</text>
<text class="t" text-anchor="middle" transform="translate(14.6 291.9) rotate(-90)">36°0'0"N</text>
<text class="t" text-anchor="middle" transform="translate(14.6 334.5) rotate(-90)">34°30'0"N</text>
<text class="t" text-anchor="middle" transform="translate(14.6 377.2) rotate(-90)">33°0'0"N</text>
<text class="t" text-anchor="middle" transform="translate(14.6 419.8) rotate(-90)">31°30'0"N</text>
<text class="t" text-anchor="middle" transform="translate(14.6 462.5) rotate(-90)">30°0'0"N</text>
<text class="t" text-anchor="middle" transform="translate(14.6 505.1) rotate(-90)">28°30'0"N</text>
<path d="M18.8 536.0 V541.0 M71.8 536.0 V541.0 M123.7 536.0 V541.0 M175.8 536.0 V541.0 M13.5 291.9 H17.9 M13.5 334.5 H17.9 M13.5 377.2 H17.9 M13.5 419.8 H17.9 M13.5 462.5 H17.9 M13.5 505.1 H17.9" stroke="#333" stroke-width="0.6" fill="none"/>
<polygon points="208.6,294.6 213.1,307.5 208.6,304.8 204.1,307.5" fill="#000"/>
<text x="208.6" y="291.2" text-anchor="middle" style="font-family:'Liberation Serif',serif;font-size:4.2px;fill:#333">N</text>
<path d="M145.3 527.9 V531.5 H197.3 V527.9 M171.3 531.5 V529.2" stroke="#2a2a2a" stroke-width="0.7" fill="none"/>
<text class="sb" x="145.3" y="524.6">0</text>
<text class="sb" x="171.3" y="524.6">100</text>
<text class="sb" x="192.7" y="524.6" text-anchor="start" style="text-anchor:start">200 km</text>
<text class="lt" x="25.0" y="473.9">Regression Coefficient</text>
<rect x="23.0" y="479.9" width="15.9" height="7.6" fill="#4474bc"/>
<text class="lg" x="42.9" y="486.0" xml:space="preserve">-0.920 - -0.723</text>
<rect x="23.0" y="490.9" width="15.9" height="7.6" fill="#a1b3c0"/>
<text class="lg" x="42.9" y="497.0" xml:space="preserve">-0.722 - -0.507</text>
<rect x="23.0" y="501.9" width="15.9" height="7.6" fill="#fffdbf"/>
<text class="lg" x="42.9" y="508.0" xml:space="preserve">-0.506 - -0.321</text>
<rect x="23.0" y="512.9" width="15.9" height="7.6" fill="#f4976a"/>
<text class="lg" x="42.9" y="519.0" xml:space="preserve">-0.320 - -0.146</text>
<rect x="23.0" y="523.9" width="15.9" height="7.6" fill="#e02e25"/>
<text class="lg" x="42.9" y="530.0" xml:space="preserve">-0.145 -  0.091</text>
</g>
<g id="panel-d">
<g transform="translate(220.70 271.60)">
<g stroke-width="0.35" stroke-linejoin="round">
<polygon points="48.8,54.0 48.5,53.0 48.8,50.0 51.0,47.5 54.0,46.5 58.0,46.2 61.0,47.5 63.5,50.0 65.5,52.5 67.0,55.0 69.0,56.5 70.0,54.5 72.5,54.0 74.5,55.0 76.5,54.0 78.5,52.0 81.0,51.2 83.5,49.0 86.5,48.8 89.0,50.5 90.5,53.5 92.5,54.8 95.0,54.5 99.0,54.0 102.0,55.0 103.5,54.3 101.5,58.0 100.0,60.0 96.0,61.2 92.0,62.2 89.8,63.2 90.2,65.5 91.5,68.0 92.8,70.5 93.2,72.5 90.0,73.2 87.5,73.7 85.7,74.7 84.2,74.7 83.5,72.3 82.0,69.5 78.4,67.5 77.0,67.5 74.5,66.8 72.0,67.5 69.0,67.5 66.5,66.8 65.0,65.0 63.5,62.5 61.5,60.5 58.5,59.0 55.0,57.5 52.0,56.0 49.5,55.0" fill="#e02e25" stroke="#e02e25"/>
<polygon points="92.5,54.8 93.5,54.5 96.5,53.0 96.5,45.5 99.0,45.0 103.0,40.5 103.5,35.0 108.0,33.5 111.0,31.5 112.5,33.0 112.8,37.0 115.0,40.0 117.5,40.5 120.0,43.0 122.5,45.0 125.0,46.0 127.0,46.5 128.5,46.8 127.5,50.0 126.5,53.0 124.0,54.5 123.5,57.0 125.0,59.5 124.5,61.0 121.5,61.5 118.5,61.2 116.0,60.5 115.0,58.5 113.5,55.0 111.5,52.5 108.5,53.0 105.0,54.0 103.5,54.3 102.0,55.0 99.0,54.0 95.0,54.5" fill="#e02e25" stroke="#e02e25"/>
<polygon points="103.5,54.3 105.0,54.0 108.5,53.0 111.5,52.5 113.5,55.0 115.0,58.5 116.0,60.5 116.5,61.5 115.8,63.5 114.5,65.0 112.0,66.5 110.0,68.0 109.5,71.0 110.0,74.0 109.5,77.0 110.5,80.0 110.0,83.0 108.5,85.0 106.0,87.0 104.3,87.9 99.0,88.3 98.8,88.8 104.1,88.7 103.8,90.0 102.5,92.5 101.2,94.5 99.8,93.0 99.0,91.0 98.5,89.0 96.5,89.7 94.5,90.0 93.5,88.5 92.0,86.8 92.5,84.0 93.0,80.0 92.5,77.0 93.0,74.0 93.2,72.5 92.8,70.5 91.5,68.0 90.2,65.5 89.8,63.2 92.0,62.2 96.0,61.2 100.0,60.0 101.5,58.0" fill="#e02e25" stroke="#e02e25"/>
<polygon points="48.8,54.0 49.5,55.0 52.0,56.0 55.0,57.5 58.5,59.0 61.5,60.5 63.5,62.5 65.0,65.0 66.5,66.8 69.0,67.5 72.0,67.5 74.5,66.8 77.0,67.5 78.4,67.5 82.0,69.5 83.5,72.3 84.2,74.7 85.7,74.7 87.5,73.7 90.0,73.2 93.2,72.5 93.0,74.0 92.5,77.0 93.0,80.0 92.5,84.0 92.0,86.8 87.9,88.7 85.3,89.6 81.8,88.3 79.1,85.6 76.4,83.8 73.7,84.7 71.5,87.9 69.3,90.1 66.5,89.6 66.6,87.0 66.7,84.0 66.5,81.0 66.0,78.0 66.2,75.0 65.7,72.0 65.0,68.5 61.5,70.5 58.5,71.5 56.5,72.0 55.5,70.0 54.5,67.5 52.5,65.0 50.0,63.5 48.0,61.5 45.5,60.5 45.2,58.5 47.0,56.5" fill="#e02e25" stroke="#e02e25"/>
<polygon points="56.5,72.0 58.5,71.5 61.5,70.5 65.0,68.5 65.7,72.0 66.2,75.0 66.0,78.0 66.5,81.0 66.7,84.0 66.6,87.0 66.5,89.6 65.8,89.7 64.4,87.1 62.2,86.1 58.6,85.6 56.4,81.6 54.8,78.5 54.6,77.0 55.8,75.0 56.2,73.0" fill="#e02e25" stroke="#e02e25"/>
<polygon points="36.0,88.5 35.5,86.0 34.5,83.0 33.5,79.0 33.0,75.5 34.5,73.5 37.0,73.0 39.5,74.5 42.5,75.5 44.5,78.0 46.5,81.0 48.5,81.0 51.0,79.5 53.5,77.5 54.8,78.5 56.4,81.6 58.6,85.6 62.2,86.1 64.4,87.1 65.8,89.7 64.8,94.1 65.3,96.8 67.0,99.4 63.5,101.7 60.4,102.1 56.8,99.5 55.2,102.2 52.5,102.2 50.0,101.0 47.0,99.5 44.5,97.5 43.0,95.0 42.5,92.0 41.0,90.0 38.5,89.0" fill="#e02e25" stroke="#e02e25"/>
<polygon points="46.2,115.8 44.5,116.0 42.5,116.0 40.5,117.0 38.0,117.5 35.5,117.0 33.0,116.5 30.5,115.5 29.0,113.0 28.5,110.5 27.5,108.0 25.0,107.0 22.5,106.0 21.0,104.5 20.5,102.2 21.5,101.8 24.0,102.5 27.0,102.0 29.0,100.0 29.5,96.0 30.0,92.0 31.5,89.0 36.0,88.5 38.5,89.0 41.0,90.0 42.5,92.0 43.0,95.0 44.5,97.5 47.0,99.5 50.0,101.0 52.5,102.2 55.2,102.2 56.8,99.5 57.0,103.0 58.0,107.0 58.5,111.0 57.7,114.9 55.5,115.8 52.4,114.9 48.8,114.5" fill="#e02e25" stroke="#e02e25"/>
<polygon points="56.8,99.5 60.4,102.1 63.5,101.7 67.0,99.4 70.0,101.8 72.5,104.0 75.0,106.0 76.5,107.7 75.4,108.3 71.9,109.6 69.6,110.9 66.5,110.0 63.5,111.8 60.8,113.6 57.7,114.9 58.5,111.0 58.0,107.0 57.0,103.0" fill="#e02e25" stroke="#e02e25"/>
<polygon points="66.5,89.6 69.3,90.1 71.5,87.9 73.7,84.7 76.4,83.8 79.1,85.6 81.8,88.3 85.3,89.6 87.9,88.7 92.0,86.8 93.5,88.5 94.5,90.0 94.5,92.0 92.5,94.0 90.0,95.0 87.5,94.8 85.5,96.0 84.0,97.5 82.0,99.5 80.5,102.5 78.5,105.0 76.5,107.7 75.0,106.0 72.5,104.0 70.0,101.8 67.0,99.4 65.3,96.8 64.8,94.1 65.8,89.7" fill="#e02e25" stroke="#e02e25"/>
<polygon points="116.0,60.5 118.5,61.2 121.5,61.5 124.5,61.0 125.0,63.0 126.5,66.0 126.0,69.0 125.5,72.0 126.5,75.0 127.5,76.5 124.5,78.0 121.5,80.0 119.5,82.0 121.0,83.8 123.5,86.0 125.0,88.5 124.7,92.0 123.0,94.7 121.5,93.8 119.0,92.5 116.0,92.0 113.5,93.5 112.5,97.0 109.0,99.0 105.0,100.2 103.0,99.0 101.2,94.5 102.5,92.5 103.8,90.0 104.1,88.7 98.8,88.8 99.0,88.3 104.3,87.9 106.0,87.0 108.5,85.0 110.0,83.0 110.5,80.0 109.5,77.0 110.0,74.0 109.5,71.0 110.0,68.0 112.0,66.5 114.5,65.0 115.8,63.5 116.5,61.5" fill="#e02e25" stroke="#e02e25"/>
<polygon points="128.5,46.8 132.0,46.5 136.0,47.5 139.0,49.5 141.0,52.5 143.5,56.0 146.0,60.0 148.5,64.0 151.0,68.5 153.5,73.0 156.0,77.5 158.5,81.0 161.0,84.0 162.5,87.5 163.5,90.5 162.0,90.8 159.0,92.0 155.0,92.5 151.0,93.0 148.0,93.5 145.8,95.5 146.5,91.0 147.5,87.0 146.5,83.5 144.0,81.5 140.0,81.0 135.0,81.5 132.0,82.5 131.2,80.5 130.0,78.5 127.5,76.5 126.5,75.0 125.5,72.0 126.0,69.0 126.5,66.0 125.0,63.0 124.5,61.0 125.0,59.5 123.5,57.0 124.0,54.5 126.5,53.0 127.5,50.0" fill="#f4976a" stroke="#f4976a"/>
<polygon points="127.5,76.5 130.0,78.5 131.2,80.5 132.0,82.5 133.5,86.0 135.0,89.5 137.0,93.0 139.0,96.5 140.0,100.0 140.5,103.5 141.0,106.2 138.3,107.4 135.3,108.9 131.3,110.4 127.3,111.4 123.8,111.9 122.5,110.4 121.8,106.2 123.3,102.0 123.5,99.0 122.8,94.7 123.0,94.7 124.7,92.0 125.0,88.5 123.5,86.0 121.0,83.8 119.5,82.0 121.5,80.0 124.5,78.0" fill="#f4976a" stroke="#f4976a"/>
<polygon points="132.0,82.5 135.0,81.5 140.0,81.0 144.0,81.5 146.5,83.5 147.5,87.0 146.5,91.0 145.8,95.5 149.0,96.5 150.0,99.5 152.0,101.0 152.5,104.5 153.5,107.5 155.0,110.0 156.0,111.8 155.3,112.6 153.5,113.9 150.7,115.1 147.8,115.3 145.2,113.5 142.8,110.0 141.0,106.2 140.5,103.5 140.0,100.0 139.0,96.5 137.0,93.0 135.0,89.5 133.5,86.0" fill="#fffdbf" stroke="#fffdbf"/>
<polygon points="163.5,90.8 165.0,93.0 169.0,94.0 173.0,94.5 176.0,96.5 177.5,99.5 179.0,102.0 182.0,104.0 185.0,105.5 188.0,107.5 190.5,110.0 192.0,112.5 191.0,114.0 188.0,113.2 185.0,112.2 182.0,111.2 179.0,110.7 177.0,111.6 175.0,113.0 173.5,114.0 172.0,113.6 169.5,112.6 167.5,111.2 165.0,110.2 162.0,109.7 159.0,109.7 157.0,110.7 156.0,111.8 155.0,110.0 153.5,107.5 152.5,104.5 152.0,101.0 150.0,99.5 149.0,96.5 145.8,95.5 148.0,93.5 151.0,93.0 155.0,92.5 159.0,92.0 162.0,90.8 163.5,90.5" fill="#fffdbf" stroke="#fffdbf"/>
<polygon points="94.5,90.0 96.5,89.7 98.5,89.0 99.0,91.0 99.8,93.0 101.2,94.5 103.0,99.0 105.0,100.2 109.0,99.0 112.5,97.0 113.5,93.5 116.0,92.0 119.0,92.5 121.5,93.8 123.0,94.7 122.8,94.7 123.5,99.0 123.3,102.0 121.8,106.2 120.8,105.2 118.8,103.9 115.3,103.2 111.3,103.4 109.8,104.9 110.8,106.9 112.8,109.9 112.8,112.9 111.3,115.4 109.8,117.9 108.3,120.4 107.8,122.4 105.3,123.4 102.8,125.4 100.3,127.2 98.0,126.5 96.0,125.0 93.5,124.0 94.5,122.0 95.5,119.5 95.0,116.5 92.5,116.5 89.5,117.5 86.5,118.0 84.0,116.5 82.5,114.0 80.5,112.0 78.0,110.5 76.5,107.7 78.5,105.0 80.5,102.5 82.0,99.5 84.0,97.5 85.5,96.0 87.5,94.8 90.0,95.0 92.5,94.0 94.5,92.0" fill="#f4976a" stroke="#f4976a"/>
<polygon points="76.5,107.7 78.0,110.5 80.5,112.0 82.5,114.0 84.0,116.5 86.5,118.0 89.5,117.5 92.5,116.5 95.0,116.5 95.5,119.5 94.5,122.0 93.5,124.0 92.0,127.0 90.0,130.5 88.5,134.0 86.0,136.5 83.5,138.5 81.5,140.0 79.0,139.0 76.0,139.0 72.5,138.0 70.0,136.0 69.0,133.0 69.5,130.5 71.5,128.5 74.0,127.5 75.5,125.5 74.5,123.0 75.0,120.0 73.5,117.0 72.0,114.0 69.6,110.9 71.9,109.6 75.4,108.3" fill="#f4976a" stroke="#f4976a"/>
<polygon points="46.2,115.8 48.8,114.5 52.4,114.9 55.5,115.8 57.7,114.9 60.8,113.6 63.5,111.8 66.5,110.0 69.6,110.9 72.0,114.0 73.5,117.0 75.0,120.0 74.5,123.0 75.5,125.5 74.0,127.5 71.5,128.5 69.5,130.5 69.0,133.0 70.0,136.0 72.5,138.0 76.0,139.0 79.0,139.0 81.5,140.0 80.8,142.0 80.0,144.5 79.0,146.5 77.5,148.0 75.0,150.0 72.0,152.0 69.0,153.0 66.0,153.0 62.5,152.5 59.5,153.5 56.5,155.0 54.0,156.5 51.5,155.0 49.0,154.5 47.0,153.0 44.5,153.5 42.0,152.0 40.0,149.0 39.2,146.0 39.0,142.5 40.5,140.0 43.0,138.5 45.5,137.0 47.0,134.5 48.0,131.0 48.5,127.0 48.0,123.0 47.0,119.0" fill="#e02e25" stroke="#e02e25"/>
<polygon points="121.8,106.2 122.5,110.4 123.8,111.9 123.3,114.4 124.8,117.4 125.3,119.9 123.8,122.4 125.3,124.4 127.3,125.9 128.8,127.4 129.3,130.4 128.8,133.9 129.8,136.4 130.3,138.9 127.8,138.4 125.3,139.4 122.8,138.9 120.3,139.9 118.8,139.4 119.8,136.9 119.3,133.9 118.3,130.9 116.8,128.9 115.3,127.4 113.3,127.9 111.3,126.9 110.3,124.4 107.8,122.4 108.3,120.4 109.8,117.9 111.3,115.4 112.8,112.9 112.8,109.9 110.8,106.9 109.8,104.9 111.3,103.4 115.3,103.2 118.8,103.9 120.8,105.2" fill="#fffdbf" stroke="#fffdbf"/>
<polygon points="123.8,111.9 127.3,111.4 131.3,110.4 135.3,108.9 138.3,107.4 141.0,106.2 141.5,109.4 141.5,113.9 141.3,117.9 139.8,119.4 137.3,120.4 134.8,119.9 132.3,121.4 130.3,124.4 128.8,127.4 127.3,125.9 125.3,124.4 123.8,122.4 125.3,119.9 124.8,117.4 123.3,114.4" fill="#fffdbf" stroke="#fffdbf"/>
<polygon points="141.0,106.2 142.8,110.0 145.2,113.5 147.8,115.3 148.5,119.1 149.5,122.1 150.5,124.6 151.2,126.6 148.5,127.1 145.0,126.6 142.5,127.6 140.0,128.6 139.0,130.6 138.5,133.6 139.0,136.6 138.8,139.1 136.0,138.0 133.0,139.5 130.3,138.9 129.8,136.4 128.8,133.9 129.3,130.4 128.8,127.4 130.3,124.4 132.3,121.4 134.8,119.9 137.3,120.4 139.8,119.4 141.3,117.9 141.5,113.9 141.5,109.4" fill="#a1b3c0" stroke="#a1b3c0"/>
<polygon points="147.8,115.3 150.7,115.1 153.5,113.9 155.3,112.6 156.0,111.8 156.3,115.1 159.1,117.5 161.1,120.3 161.9,123.5 160.3,125.9 157.9,128.3 155.1,130.6 152.7,133.3 150.5,136.1 149.5,139.6 148.0,138.1 145.0,137.6 143.0,138.1 141.5,139.6 138.8,139.1 139.0,136.6 138.5,133.6 139.0,130.6 140.0,128.6 142.5,127.6 145.0,126.6 148.5,127.1 151.2,126.6 150.5,124.6 149.5,122.1 148.5,119.1" fill="#a1b3c0" stroke="#a1b3c0"/>
<polygon points="156.0,111.8 157.3,112.9 159.5,112.3 162.0,112.2 164.0,113.2 165.8,115.2 167.8,116.6 170.5,116.8 173.0,116.8 175.3,117.6 177.0,120.0 178.5,122.5 176.5,124.5 175.5,127.5 176.0,130.0 175.0,132.5 173.5,134.5 172.0,135.5 170.0,137.5 168.0,139.5 167.5,142.0 166.0,143.5 163.0,144.1 159.0,143.6 155.0,142.6 151.0,141.1 149.5,139.6 150.5,136.1 152.7,133.3 155.1,130.6 157.9,128.3 160.3,125.9 161.9,123.5 161.1,120.3 159.1,117.5 156.3,115.1" fill="#a1b3c0" stroke="#a1b3c0"/>
<polygon points="178.5,122.5 181.5,122.5 184.5,123.5 187.5,125.0 190.0,126.5 192.5,129.0 194.5,131.5 196.5,134.0 195.5,136.5 193.5,138.5 191.0,140.0 188.0,141.5 185.5,143.5 184.0,144.0 182.5,142.0 180.5,140.5 178.0,140.0 176.0,138.0 174.0,136.5 172.0,135.5 173.5,134.5 175.0,132.5 176.0,130.0 175.5,127.5 176.5,124.5" fill="#a1b3c0" stroke="#a1b3c0"/>
<polygon points="175.3,115.0 177.5,113.4 180.5,113.6 183.5,114.6 186.5,116.0 189.5,117.0 192.0,117.6 192.6,119.5 190.0,120.0 187.0,119.6 184.0,118.6 181.0,117.6 178.0,116.8 175.8,116.0" fill="#a1b3c0" stroke="#a1b3c0"/>
<polygon points="166.0,143.5 167.5,142.0 168.0,139.5 170.0,137.5 172.0,135.5 174.0,136.5 176.0,138.0 178.0,140.0 180.5,140.5 182.5,142.0 184.0,144.0 182.0,146.0 180.0,148.5 178.0,151.0 176.5,153.5 175.0,155.5 172.5,157.0 170.0,159.0 168.5,158.0 166.0,157.0 164.0,155.5 162.0,153.5 162.5,151.0 163.5,148.5 165.0,146.0" fill="#4474bc" stroke="#4474bc"/>
<polygon points="93.5,124.0 96.0,125.0 98.0,126.5 100.3,127.2 102.8,125.4 105.3,123.4 107.8,122.4 110.3,124.4 111.3,126.9 109.8,129.4 110.3,133.4 109.8,136.4 110.5,137.6 108.3,140.5 105.6,143.0 103.2,145.6 103.5,148.4 100.8,147.3 98.3,147.9 96.9,150.2 94.5,151.5 91.0,152.5 88.0,152.8 85.5,152.0 83.5,150.0 81.5,147.5 80.0,144.5 80.8,142.0 81.5,140.0 83.5,138.5 86.0,136.5 88.5,134.0 90.0,130.5 92.0,127.0" fill="#fffdbf" stroke="#fffdbf"/>
<polygon points="111.3,126.9 113.3,127.9 115.3,127.4 116.8,128.9 118.3,130.9 119.3,133.9 119.8,136.9 118.8,139.4 117.3,138.4 115.0,136.9 112.8,136.8 110.5,137.6 109.8,136.4 110.3,133.4 109.8,129.4" fill="#fffdbf" stroke="#fffdbf"/>
<polygon points="110.5,137.6 112.8,136.8 115.0,136.9 117.3,138.4 118.8,139.4 118.8,143.4 117.8,146.4 116.3,148.9 115.3,151.9 113.8,154.4 111.3,155.9 109.3,157.4 107.3,158.9 105.8,155.9 104.8,153.9 104.8,150.4 103.5,148.4 103.2,145.6 105.6,143.0 108.3,140.5" fill="#a1b3c0" stroke="#a1b3c0"/>
<polygon points="96.9,150.2 98.3,147.9 100.8,147.3 103.5,148.4 104.8,150.4 104.8,153.9 102.8,155.4 100.3,156.9 98.8,158.4 97.8,156.8 97.2,155.2 97.0,153.0" fill="#fffdbf" stroke="#fffdbf"/>
<polygon points="54.0,156.5 56.5,155.0 59.5,153.5 62.5,152.5 66.0,153.0 69.0,153.0 72.0,152.0 75.0,150.0 77.5,148.0 79.0,146.5 80.0,144.5 81.5,147.5 83.5,150.0 85.5,152.0 88.0,152.8 91.0,152.5 94.5,151.5 96.9,150.2 97.0,153.0 97.2,155.2 94.3,156.9 91.3,158.9 88.8,160.9 86.8,163.5 85.0,166.0 83.3,167.8 81.5,170.5 80.3,174.0 80.0,178.0 80.3,181.5 79.0,183.5 76.0,182.8 74.3,183.3 73.0,185.5 71.0,188.0 68.0,189.5 65.0,190.0 62.5,188.5 61.0,185.0 59.5,182.0 57.5,179.5 55.0,177.5 54.5,174.5 53.5,171.0 52.0,168.0 50.5,165.5 51.0,162.5 52.5,159.5" fill="#f4976a" stroke="#f4976a"/>
<polygon points="97.2,155.2 97.8,156.8 98.8,158.4 100.3,156.9 102.8,155.4 104.8,153.9 105.8,155.9 107.3,158.9 106.3,161.9 105.8,163.4 105.3,164.9 104.8,168.4 103.8,171.4 101.8,173.9 99.3,175.9 96.8,177.4 94.3,178.9 91.8,180.4 89.8,182.2 88.5,184.0 87.5,185.5 87.0,188.0 85.5,190.0 83.5,192.0 81.0,193.5 78.5,194.0 77.0,192.5 77.5,190.0 79.0,187.5 80.0,184.8 79.0,183.5 80.3,181.5 80.0,178.0 80.3,174.0 81.5,170.5 83.3,167.8 85.0,166.0 86.8,163.5 88.8,160.9 91.3,158.9 94.3,156.9" fill="#fffdbf" stroke="#fffdbf"/>
<polygon points="118.8,139.4 120.3,139.9 122.8,138.9 125.3,139.4 127.8,138.4 130.3,138.9 133.0,139.5 136.0,138.0 138.8,139.1 141.3,141.0 141.5,143.0 141.0,146.5 140.0,150.0 138.5,152.5 136.5,154.5 134.5,156.0 136.0,158.5 138.5,161.5 135.0,163.5 131.0,164.5 128.5,165.0 127.5,167.0 129.0,169.5 128.5,172.5 127.0,174.5 124.5,176.0 121.5,177.5 120.5,174.5 118.5,173.0 116.0,171.5 115.0,169.0 112.5,166.5 110.0,165.0 107.5,163.5 105.8,163.4 106.3,161.9 107.3,158.9 109.3,157.4 111.3,155.9 113.8,154.4 115.3,151.9 116.3,148.9 117.8,146.4 118.8,143.4" fill="#a1b3c0" stroke="#a1b3c0"/>
<polygon points="138.8,139.1 141.5,139.6 143.0,138.1 145.0,137.6 148.0,138.1 149.5,139.6 151.0,141.1 155.0,142.6 159.0,143.6 163.0,144.1 166.0,143.5 165.0,146.0 163.5,148.5 162.5,151.0 162.0,153.5 159.0,153.5 156.0,154.5 153.0,155.5 150.0,156.5 147.5,158.5 144.5,159.0 141.5,160.0 138.5,161.5 136.0,158.5 134.5,156.0 136.5,154.5 138.5,152.5 140.0,150.0 141.0,146.5 141.5,143.0 141.3,141.0" fill="#4474bc" stroke="#4474bc"/>
<polygon points="105.8,163.4 107.5,163.5 110.0,165.0 112.5,166.5 115.0,169.0 116.0,171.5 118.5,173.0 120.5,174.5 121.5,177.5 124.5,176.0 127.0,174.5 128.5,177.0 128.0,180.0 126.5,183.0 124.5,185.5 122.5,188.0 120.5,190.0 118.5,191.5 117.5,192.2 115.0,193.0 112.0,191.5 109.0,191.0 106.0,191.5 104.0,191.0 101.0,190.3 98.0,190.0 95.0,188.5 93.0,186.5 90.5,185.5 88.5,184.0 89.8,182.2 91.8,180.4 94.3,178.9 96.8,177.4 99.3,175.9 101.8,173.9 103.8,171.4 104.8,168.4 105.3,164.9" fill="#a1b3c0" stroke="#a1b3c0"/>
<polygon points="127.0,174.5 128.5,172.5 129.0,169.5 127.5,167.0 128.5,165.0 131.0,164.5 135.0,163.5 138.5,161.5 141.5,160.0 144.5,159.0 147.5,158.5 150.0,156.5 153.0,155.5 156.0,154.5 159.0,153.5 162.0,153.5 164.0,155.5 166.0,157.0 168.5,158.0 170.0,159.0 170.8,160.5 169.5,161.8 167.0,162.8 164.5,164.0 163.0,167.5 161.0,171.0 159.0,174.5 156.5,177.5 155.5,180.0 154.0,183.0 152.0,185.0 150.5,187.5 148.5,189.5 146.5,191.5 145.0,194.0 143.5,196.5 141.5,194.5 138.5,195.5 135.5,195.0 133.0,194.0 130.5,195.5 128.5,197.5 126.0,196.0 123.0,195.0 120.0,193.5 117.5,192.2 118.5,191.5 120.5,190.0 122.5,188.0 124.5,185.5 126.5,183.0 128.0,180.0 128.5,177.0" fill="#4474bc" stroke="#4474bc"/>
<polygon points="169.5,161.8 171.5,161.5 175.0,161.0 178.5,160.3 179.0,162.0 180.5,164.5 182.5,167.0 184.5,169.5 183.5,172.0 184.0,174.5 185.5,177.0 187.5,179.5 189.0,182.0 186.5,183.5 184.0,184.5 181.5,185.5 179.0,186.5 176.5,185.5 174.5,184.0 172.0,182.5 170.0,183.5 167.5,185.0 165.5,183.5 163.5,182.5 161.5,180.5 159.0,179.0 156.5,177.5 159.0,174.5 161.0,171.0 163.0,167.5 164.5,164.0 167.0,162.8" fill="#4474bc" stroke="#4474bc"/>
<polygon points="178.5,160.3 181.5,157.5 184.5,155.5 187.5,155.0 190.5,156.0 193.5,158.0 196.5,160.0 199.5,161.5 202.5,162.5 205.5,163.0 208.5,162.5 207.0,164.5 204.5,166.5 202.0,168.5 200.0,171.0 198.5,173.5 196.5,176.0 195.5,177.5 197.5,177.0 200.0,175.5 202.0,173.5 204.0,171.5 206.0,170.5 207.5,172.0 207.0,174.5 208.5,177.0 209.5,179.5 208.0,181.0 206.5,182.5 205.0,181.0 204.0,179.0 202.5,178.0 201.5,180.0 202.0,182.5 200.5,183.5 198.5,183.0 197.0,184.8 196.5,186.2 194.5,187.5 192.5,187.0 190.5,184.5 189.0,182.0 187.5,179.5 185.5,177.0 184.0,174.5 183.5,172.0 184.5,169.5 182.5,167.0 180.5,164.5 179.0,162.0" fill="#4474bc" stroke="#4474bc"/>
<polygon points="205.3,156.2 207.2,155.4 209.8,156.0 211.8,157.6 212.3,159.3 210.3,160.0 207.6,159.2 205.8,157.8" fill="#4474bc" stroke="#4474bc"/>
<polygon points="206.2,150.3 207.6,149.8 208.6,150.8 207.8,151.8 206.5,151.5" fill="#4474bc" stroke="#4474bc"/>
<polygon points="211.6,136.5 213.5,136.5 213.5,137.5 211.6,137.5" fill="#4474bc" stroke="#4474bc"/>
<polygon points="117.5,192.2 120.0,193.5 123.0,195.0 126.0,196.0 128.5,197.5 130.5,195.5 133.0,194.0 135.5,195.0 138.5,195.5 141.5,194.5 143.5,196.5 145.5,199.0 146.5,202.0 146.5,205.0 147.0,207.0 144.0,208.0 141.5,209.5 139.5,211.5 138.0,214.0 136.5,216.5 134.5,218.5 133.5,220.5 134.0,223.0 133.0,224.5 130.0,225.0 127.5,225.5 126.5,224.0 126.0,220.5 125.0,217.0 123.5,213.5 121.5,210.5 120.0,208.5 117.5,207.5 115.0,206.0 113.0,204.0 112.0,201.5 112.5,198.5 114.5,196.0 116.0,194.0" fill="#4474bc" stroke="#4474bc"/>
<polygon points="143.5,196.5 145.0,194.0 146.5,191.5 148.5,189.5 150.5,187.5 152.0,185.0 154.0,183.0 155.5,180.0 156.5,177.5 159.0,179.0 161.5,180.5 163.5,182.5 165.5,183.5 167.5,185.0 170.0,183.5 172.0,182.5 174.5,184.0 176.5,185.5 179.0,186.5 180.0,189.5 179.5,192.5 179.5,195.5 178.5,198.0 176.5,199.5 174.5,201.5 172.5,199.5 170.5,199.5 168.5,201.5 166.0,203.0 163.0,203.5 161.0,205.0 160.0,208.0 158.5,211.0 155.5,213.0 153.0,212.0 151.0,210.0 149.5,207.5 147.0,207.0 146.5,205.0 146.5,202.0 145.5,199.0" fill="#4474bc" stroke="#4474bc"/>
<polygon points="189.0,182.0 186.5,183.5 184.0,184.5 181.5,185.5 179.0,186.5 189.0,182.0 190.5,184.5 192.5,187.0 194.5,187.5 196.5,186.2 199.0,185.5 202.0,186.5 204.0,188.5 204.5,191.0 203.0,193.0 204.0,195.5 202.5,197.5 201.0,198.5 202.0,201.0 204.5,203.0 206.0,205.5 206.5,208.5 205.0,210.0 203.0,210.0 201.0,211.0 200.0,213.0 199.5,215.5 198.0,217.5 196.5,217.0 196.0,214.5 197.0,212.5 195.5,211.5 194.0,212.5 193.5,210.0 194.5,208.0 194.0,206.5 191.5,207.0 189.0,208.0 186.0,207.5 183.0,207.0 180.0,206.5 177.5,207.5 175.5,208.0 173.5,209.5 173.0,207.0 173.5,204.0 174.5,201.5 176.5,199.5 178.5,198.0 179.5,195.5 179.5,192.5 180.0,189.5 179.0,186.5" fill="#4474bc" stroke="#4474bc"/>
<polygon points="133.0,224.5 134.0,223.0 133.5,220.5 134.5,218.5 136.5,216.5 138.0,214.0 139.5,211.5 141.5,209.5 144.0,208.0 147.0,207.0 149.5,207.5 151.0,210.0 153.0,212.0 155.5,213.0 158.5,211.0 160.0,208.0 161.0,205.0 163.0,203.5 166.0,203.0 168.5,201.5 170.5,199.5 172.5,199.5 174.5,201.5 173.5,204.0 173.0,207.0 173.5,209.5 175.5,208.0 175.0,210.5 174.5,213.5 175.5,216.5 176.5,219.5 176.2,222.5 174.5,225.0 172.0,226.5 169.0,227.5 166.0,229.0 163.5,231.0 162.0,234.0 160.5,237.0 158.5,237.3 157.2,238.3 156.9,240.6 155.9,242.0 154.2,243.0 152.9,244.3 151.2,246.0 149.6,246.3 148.0,244.3 146.3,244.6 144.3,245.0 142.3,244.6 142.0,242.3 141.0,239.6 139.6,237.0 138.0,234.3 136.3,231.6 135.3,229.0 134.3,226.8" fill="#4474bc" stroke="#4474bc"/>
<polygon points="175.5,208.0 177.5,207.5 180.0,206.5 183.0,207.0 186.0,207.5 189.0,208.0 191.5,207.0 194.0,206.5 194.5,208.0 193.5,211.5 192.5,214.5 193.0,217.5 191.0,220.5 188.5,222.0 189.5,224.5 188.0,227.0 186.0,229.5 185.0,232.5 186.5,235.0 185.5,238.0 186.0,241.0 184.5,244.0 182.5,246.0 180.0,245.0 177.5,244.0 175.0,244.5 172.5,245.5 169.5,246.0 166.5,246.5 165.0,244.5 163.5,242.0 162.0,239.5 160.5,237.0 162.0,234.0 163.5,231.0 166.0,229.0 169.0,227.5 172.0,226.5 174.5,225.0 176.2,222.5 176.5,219.5 175.5,216.5 174.5,213.5 175.0,210.5" fill="#4474bc" stroke="#4474bc"/>
</g>
<path class="rg" fill="none" d="M48.8 54.0 48.5 53.0 48.8 50.0 51.0 47.5 54.0 46.5 58.0 46.2 61.0 47.5 63.5 50.0 65.5 52.5 67.0 55.0 69.0 56.5 70.0 54.5 72.5 54.0 74.5 55.0 76.5 54.0 78.5 52.0 81.0 51.2 83.5 49.0 86.5 48.8 89.0 50.5 90.5 53.5 92.5 54.8M92.5 54.8 95.0 54.5 99.0 54.0 102.0 55.0 103.5 54.3M103.5 54.3 101.5 58.0 100.0 60.0 96.0 61.2 92.0 62.2 89.8 63.2 90.2 65.5 91.5 68.0 92.8 70.5 93.2 72.5M93.2 72.5 90.0 73.2 87.5 73.7 85.7 74.7 84.2 74.7 83.5 72.3 82.0 69.5 78.4 67.5 77.0 67.5 74.5 66.8 72.0 67.5 69.0 67.5 66.5 66.8 65.0 65.0 63.5 62.5 61.5 60.5 58.5 59.0 55.0 57.5 52.0 56.0 49.5 55.0 48.8 54.0M92.5 54.8 93.5 54.5 96.5 53.0 96.5 45.5 99.0 45.0 103.0 40.5 103.5 35.0 108.0 33.5 111.0 31.5 112.5 33.0 112.8 37.0 115.0 40.0 117.5 40.5 120.0 43.0 122.5 45.0 125.0 46.0 127.0 46.5 128.5 46.8M128.5 46.8 127.5 50.0 126.5 53.0 124.0 54.5 123.5 57.0 125.0 59.5 124.5 61.0M124.5 61.0 121.5 61.5 118.5 61.2 116.0 60.5M116.0 60.5 115.0 58.5 113.5 55.0 111.5 52.5 108.5 53.0 105.0 54.0 103.5 54.3M116.0 60.5 116.5 61.5 115.8 63.5 114.5 65.0 112.0 66.5 110.0 68.0 109.5 71.0 110.0 74.0 109.5 77.0 110.5 80.0 110.0 83.0 108.5 85.0 106.0 87.0 104.3 87.9 99.0 88.3 98.8 88.8 104.1 88.7 103.8 90.0 102.5 92.5 101.2 94.5M101.2 94.5 99.8 93.0 99.0 91.0 98.5 89.0 96.5 89.7 94.5 90.0M94.5 90.0 93.5 88.5 92.0 86.8M92.0 86.8 92.5 84.0 93.0 80.0 92.5 77.0 93.0 74.0 93.2 72.5M48.8 54.0 47.0 56.5 45.2 58.5 45.5 60.5 48.0 61.5 50.0 63.5 52.5 65.0 54.5 67.5 55.5 70.0 56.5 72.0M56.5 72.0 58.5 71.5 61.5 70.5 65.0 68.5 65.7 72.0 66.2 75.0 66.0 78.0 66.5 81.0 66.7 84.0 66.6 87.0 66.5 89.6M66.5 89.6 65.8 89.7M65.8 89.7 64.4 87.1 62.2 86.1 58.6 85.6 56.4 81.6 54.8 78.5M54.8 78.5 54.6 77.0 55.8 75.0 56.2 73.0 56.5 72.0M66.5 89.6 69.3 90.1 71.5 87.9 73.7 84.7 76.4 83.8 79.1 85.6 81.8 88.3 85.3 89.6 87.9 88.7 92.0 86.8M65.8 89.7 64.8 94.1 65.3 96.8 67.0 99.4M67.0 99.4 63.5 101.7 60.4 102.1 56.8 99.5M56.8 99.5 55.2 102.2 52.5 102.2 50.0 101.0 47.0 99.5 44.5 97.5 43.0 95.0 42.5 92.0 41.0 90.0 38.5 89.0 36.0 88.5M36.0 88.5 35.5 86.0 34.5 83.0 33.5 79.0 33.0 75.5 34.5 73.5 37.0 73.0 39.5 74.5 42.5 75.5 44.5 78.0 46.5 81.0 48.5 81.0 51.0 79.5 53.5 77.5 54.8 78.5M56.8 99.5 57.0 103.0 58.0 107.0 58.5 111.0 57.7 114.9M57.7 114.9 55.5 115.8 52.4 114.9 48.8 114.5 46.2 115.8M46.2 115.8 44.5 116.0 42.5 116.0 40.5 117.0 38.0 117.5 35.5 117.0 33.0 116.5 30.5 115.5 29.0 113.0 28.5 110.5 27.5 108.0 25.0 107.0 22.5 106.0 21.0 104.5 20.5 102.2 21.5 101.8 24.0 102.5 27.0 102.0 29.0 100.0 29.5 96.0 30.0 92.0 31.5 89.0 36.0 88.5M67.0 99.4 70.0 101.8 72.5 104.0 75.0 106.0 76.5 107.7M76.5 107.7 75.4 108.3 71.9 109.6 69.6 110.9M69.6 110.9 66.5 110.0 63.5 111.8 60.8 113.6 57.7 114.9M94.5 90.0 94.5 92.0 92.5 94.0 90.0 95.0 87.5 94.8 85.5 96.0 84.0 97.5 82.0 99.5 80.5 102.5 78.5 105.0 76.5 107.7M124.5 61.0 125.0 63.0 126.5 66.0 126.0 69.0 125.5 72.0 126.5 75.0 127.5 76.5M127.5 76.5 124.5 78.0 121.5 80.0 119.5 82.0 121.0 83.8 123.5 86.0 125.0 88.5 124.7 92.0 123.0 94.7M123.0 94.7 121.5 93.8 119.0 92.5 116.0 92.0 113.5 93.5 112.5 97.0 109.0 99.0 105.0 100.2 103.0 99.0 101.2 94.5M128.5 46.8 132.0 46.5 136.0 47.5 139.0 49.5 141.0 52.5 143.5 56.0 146.0 60.0 148.5 64.0 151.0 68.5 153.5 73.0 156.0 77.5 158.5 81.0 161.0 84.0 162.5 87.5 163.5 90.5M163.5 90.5 162.0 90.8 159.0 92.0 155.0 92.5 151.0 93.0 148.0 93.5 145.8 95.5M145.8 95.5 146.5 91.0 147.5 87.0 146.5 83.5 144.0 81.5 140.0 81.0 135.0 81.5 132.0 82.5M132.0 82.5 131.2 80.5 130.0 78.5 127.5 76.5M132.0 82.5 133.5 86.0 135.0 89.5 137.0 93.0 139.0 96.5 140.0 100.0 140.5 103.5 141.0 106.2M123.8 111.9 127.3 111.4 131.3 110.4 135.3 108.9 138.3 107.4 141.0 106.2M121.8 106.2 122.5 110.4 123.8 111.9M122.8 94.7 123.5 99.0 123.3 102.0 121.8 106.2M121.8 106.2 120.8 105.2 118.8 103.9 115.3 103.2 111.3 103.4 109.8 104.9 110.8 106.9 112.8 109.9 112.8 112.9 111.3 115.4 109.8 117.9 108.3 120.4 107.8 122.4M141.0 106.2 141.5 109.4 141.5 113.9 141.3 117.9 139.8 119.4 137.3 120.4 134.8 119.9 132.3 121.4 130.3 124.4 128.8 127.4M123.8 111.9 123.3 114.4 124.8 117.4 125.3 119.9 123.8 122.4 125.3 124.4 127.3 125.9 128.8 127.4M128.8 127.4 129.3 130.4 128.8 133.9 129.8 136.4 130.3 138.9M130.3 138.9 127.8 138.4 125.3 139.4 122.8 138.9 120.3 139.9 118.8 139.4M118.8 139.4 119.8 136.9 119.3 133.9 118.3 130.9 116.8 128.9 115.3 127.4 113.3 127.9 111.3 126.9M111.3 126.9 110.3 124.4 107.8 122.4M145.8 95.5 149.0 96.5 150.0 99.5 152.0 101.0 152.5 104.5 153.5 107.5 155.0 110.0 156.0 111.8M156.0 111.8 155.3 112.6 153.5 113.9 150.7 115.1 147.8 115.3M147.8 115.3 145.2 113.5 142.8 110.0 141.0 106.2M163.5 90.8 165.0 93.0 169.0 94.0 173.0 94.5 176.0 96.5 177.5 99.5 179.0 102.0 182.0 104.0 185.0 105.5 188.0 107.5 190.5 110.0 192.0 112.5 191.0 114.0 188.0 113.2 185.0 112.2 182.0 111.2 179.0 110.7 177.0 111.6 175.0 113.0 173.5 114.0 172.0 113.6 169.5 112.6 167.5 111.2 165.0 110.2 162.0 109.7 159.0 109.7 157.0 110.7 156.0 111.8M147.8 115.3 148.5 119.1 149.5 122.1 150.5 124.6 151.2 126.6 148.5 127.1 145.0 126.6 142.5 127.6 140.0 128.6 139.0 130.6 138.5 133.6 139.0 136.6 138.8 139.1M156.0 111.8 156.3 115.1 159.1 117.5 161.1 120.3 161.9 123.5 160.3 125.9 157.9 128.3 155.1 130.6 152.7 133.3 150.5 136.1 149.5 139.6M149.5 139.6 148.0 138.1 145.0 137.6 143.0 138.1 141.5 139.6 138.8 139.1M156.0 111.8 157.3 112.9 159.5 112.3 162.0 112.2 164.0 113.2 165.8 115.2 167.8 116.6 170.5 116.8 173.0 116.8 175.3 117.6 177.0 120.0 178.5 122.5M178.5 122.5 176.5 124.5 175.5 127.5 176.0 130.0 175.0 132.5 173.5 134.5 172.0 135.5M172.0 135.5 170.0 137.5 168.0 139.5 167.5 142.0 166.0 143.5M166.0 143.5 163.0 144.1 159.0 143.6 155.0 142.6 151.0 141.1 149.5 139.6M178.5 122.5 181.5 122.5 184.5 123.5 187.5 125.0 190.0 126.5 192.5 129.0 194.5 131.5 196.5 134.0 195.5 136.5 193.5 138.5 191.0 140.0 188.0 141.5 185.5 143.5 184.0 144.0M184.0 144.0 182.5 142.0 180.5 140.5 178.0 140.0 176.0 138.0 174.0 136.5 172.0 135.5M166.0 143.5 165.0 146.0 163.5 148.5 162.5 151.0 162.0 153.5M162.0 153.5 164.0 155.5 166.0 157.0 168.5 158.0 170.0 159.0M170.0 159.0 172.5 157.0 175.0 155.5 176.5 153.5 178.0 151.0 180.0 148.5 182.0 146.0 184.0 144.0M175.3 115.0 177.5 113.4 180.5 113.6 183.5 114.6 186.5 116.0 189.5 117.0 192.0 117.6 192.6 119.5 190.0 120.0 187.0 119.6 184.0 118.6 181.0 117.6 178.0 116.8 175.8 116.0ZM138.8 139.1 136.0 138.0 133.0 139.5 130.3 138.9M76.5 107.7 78.0 110.5 80.5 112.0 82.5 114.0 84.0 116.5 86.5 118.0 89.5 117.5 92.5 116.5 95.0 116.5 95.5 119.5 94.5 122.0 93.5 124.0M107.8 122.4 105.3 123.4 102.8 125.4 100.3 127.2 98.0 126.5 96.0 125.0 93.5 124.0M93.5 124.0 92.0 127.0 90.0 130.5 88.5 134.0 86.0 136.5 83.5 138.5 81.5 140.0M81.5 140.0 79.0 139.0 76.0 139.0 72.5 138.0 70.0 136.0 69.0 133.0 69.5 130.5 71.5 128.5 74.0 127.5 75.5 125.5 74.5 123.0 75.0 120.0 73.5 117.0 72.0 114.0 69.6 110.9M54.0 156.5 51.5 155.0 49.0 154.5 47.0 153.0 44.5 153.5 42.0 152.0 40.0 149.0 39.2 146.0 39.0 142.5 40.5 140.0 43.0 138.5 45.5 137.0 47.0 134.5 48.0 131.0 48.5 127.0 48.0 123.0 47.0 119.0 46.2 115.8M80.0 144.5 79.0 146.5 77.5 148.0 75.0 150.0 72.0 152.0 69.0 153.0 66.0 153.0 62.5 152.5 59.5 153.5 56.5 155.0 54.0 156.5M81.5 140.0 80.8 142.0 80.0 144.5M80.0 144.5 81.5 147.5 83.5 150.0 85.5 152.0 88.0 152.8 91.0 152.5 94.5 151.5 96.9 150.2M96.9 150.2 97.0 153.0 97.2 155.2M97.2 155.2 94.3 156.9 91.3 158.9 88.8 160.9 86.8 163.5 85.0 166.0 83.3 167.8 81.5 170.5 80.3 174.0 80.0 178.0 80.3 181.5 79.0 183.5M79.0 183.5 76.0 182.8 74.3 183.3 73.0 185.5 71.0 188.0 68.0 189.5 65.0 190.0 62.5 188.5 61.0 185.0 59.5 182.0 57.5 179.5 55.0 177.5 54.5 174.5 53.5 171.0 52.0 168.0 50.5 165.5 51.0 162.5 52.5 159.5 54.0 156.5M111.3 126.9 109.8 129.4 110.3 133.4 109.8 136.4 110.5 137.6M110.5 137.6 108.3 140.5 105.6 143.0 103.2 145.6 103.5 148.4M103.5 148.4 100.8 147.3 98.3 147.9 96.9 150.2M110.5 137.6 112.8 136.8 115.0 136.9 117.3 138.4 118.8 139.4M118.8 139.4 118.8 143.4 117.8 146.4 116.3 148.9 115.3 151.9 113.8 154.4 111.3 155.9 109.3 157.4 107.3 158.9M107.3 158.9 105.8 155.9 104.8 153.9M104.8 153.9 104.8 150.4 103.5 148.4M104.8 153.9 102.8 155.4 100.3 156.9 98.8 158.4 97.8 156.8 97.2 155.2M107.3 158.9 106.3 161.9 105.8 163.4M105.8 163.4 105.3 164.9 104.8 168.4 103.8 171.4 101.8 173.9 99.3 175.9 96.8 177.4 94.3 178.9 91.8 180.4 89.8 182.2 88.5 184.0M88.5 184.0 87.5 185.5 87.0 188.0 85.5 190.0 83.5 192.0 81.0 193.5 78.5 194.0 77.0 192.5 77.5 190.0 79.0 187.5 80.0 184.8 79.0 183.5M138.8 139.1 141.3 141.0 141.5 143.0 141.0 146.5 140.0 150.0 138.5 152.5 136.5 154.5 134.5 156.0 136.0 158.5 138.5 161.5M138.5 161.5 135.0 163.5 131.0 164.5 128.5 165.0 127.5 167.0 129.0 169.5 128.5 172.5 127.0 174.5M127.0 174.5 124.5 176.0 121.5 177.5 120.5 174.5 118.5 173.0 116.0 171.5 115.0 169.0 112.5 166.5 110.0 165.0 107.5 163.5 105.8 163.4M127.0 174.5 128.5 177.0 128.0 180.0 126.5 183.0 124.5 185.5 122.5 188.0 120.5 190.0 118.5 191.5 117.5 192.2M88.5 184.0 90.5 185.5 93.0 186.5 95.0 188.5 98.0 190.0 101.0 190.3 104.0 191.0 106.0 191.5 109.0 191.0 112.0 191.5 115.0 193.0 117.5 192.2M117.5 192.2 120.0 193.5 123.0 195.0 126.0 196.0 128.5 197.5 130.5 195.5 133.0 194.0 135.5 195.0 138.5 195.5 141.5 194.5 143.5 196.5M133.0 224.5 130.0 225.0 127.5 225.5 126.5 224.0 126.0 220.5 125.0 217.0 123.5 213.5 121.5 210.5 120.0 208.5 117.5 207.5 115.0 206.0 113.0 204.0 112.0 201.5 112.5 198.5 114.5 196.0 116.0 194.0 117.5 192.2M143.5 196.5 145.5 199.0 146.5 202.0 146.5 205.0 147.0 207.0M147.0 207.0 144.0 208.0 141.5 209.5 139.5 211.5 138.0 214.0 136.5 216.5 134.5 218.5 133.5 220.5 134.0 223.0 133.0 224.5M156.5 177.5 155.5 180.0 154.0 183.0 152.0 185.0 150.5 187.5 148.5 189.5 146.5 191.5 145.0 194.0 143.5 196.5M147.0 207.0 149.5 207.5 151.0 210.0 153.0 212.0 155.5 213.0 158.5 211.0 160.0 208.0 161.0 205.0 163.0 203.5 166.0 203.0 168.5 201.5 170.5 199.5 172.5 199.5 174.5 201.5M160.5 237.0 158.5 237.3 157.2 238.3 156.9 240.6 155.9 242.0 154.2 243.0 152.9 244.3 151.2 246.0 149.6 246.3 148.0 244.3 146.3 244.6 144.3 245.0 142.3 244.6 142.0 242.3 141.0 239.6 139.6 237.0 138.0 234.3 136.3 231.6 135.3 229.0 134.3 226.8 133.0 224.5M175.5 208.0 175.0 210.5 174.5 213.5 175.5 216.5 176.5 219.5 176.2 222.5 174.5 225.0 172.0 226.5 169.0 227.5 166.0 229.0 163.5 231.0 162.0 234.0 160.5 237.0M175.5 208.0 177.5 207.5 180.0 206.5 183.0 207.0 186.0 207.5 189.0 208.0 191.5 207.0 194.0 206.5M194.0 206.5 194.5 208.0 193.5 211.5 192.5 214.5 193.0 217.5 191.0 220.5 188.5 222.0 189.5 224.5 188.0 227.0 186.0 229.5 185.0 232.5 186.5 235.0 185.5 238.0 186.0 241.0 184.5 244.0 182.5 246.0 180.0 245.0 177.5 244.0 175.0 244.5 172.5 245.5 169.5 246.0 166.5 246.5 165.0 244.5 163.5 242.0 162.0 239.5 160.5 237.0M174.5 201.5 173.5 204.0 173.0 207.0 173.5 209.5 175.5 208.0M179.0 186.5 180.0 189.5 179.5 192.5 179.5 195.5 178.5 198.0 176.5 199.5 174.5 201.5M156.5 177.5 159.0 179.0 161.5 180.5 163.5 182.5 165.5 183.5 167.5 185.0 170.0 183.5 172.0 182.5 174.5 184.0 176.5 185.5 179.0 186.5M179.0 186.5 181.5 185.5 184.0 184.5 186.5 183.5 189.0 182.0M189.0 182.0 187.5 179.5 185.5 177.0 184.0 174.5 183.5 172.0 184.5 169.5 182.5 167.0 180.5 164.5 179.0 162.0 178.5 160.3M169.5 161.8 171.5 161.5 175.0 161.0 178.5 160.3M169.5 161.8 167.0 162.8 164.5 164.0 163.0 167.5 161.0 171.0 159.0 174.5 156.5 177.5M170.0 159.0 170.8 160.5 169.5 161.8M138.5 161.5 141.5 160.0 144.5 159.0 147.5 158.5 150.0 156.5 153.0 155.5 156.0 154.5 159.0 153.5 162.0 153.5M189.0 182.0 190.5 184.5 192.5 187.0 194.5 187.5 196.5 186.2M178.5 160.3 181.5 157.5 184.5 155.5 187.5 155.0 190.5 156.0 193.5 158.0 196.5 160.0 199.5 161.5 202.5 162.5 205.5 163.0 208.5 162.5 207.0 164.5 204.5 166.5 202.0 168.5 200.0 171.0 198.5 173.5 196.5 176.0 195.5 177.5 197.5 177.0 200.0 175.5 202.0 173.5 204.0 171.5 206.0 170.5 207.5 172.0 207.0 174.5 208.5 177.0 209.5 179.5 208.0 181.0 206.5 182.5 205.0 181.0 204.0 179.0 202.5 178.0 201.5 180.0 202.0 182.5 200.5 183.5 198.5 183.0 197.0 184.8 196.5 186.2M196.5 186.2 199.0 185.5 202.0 186.5 204.0 188.5 204.5 191.0 203.0 193.0 204.0 195.5 202.5 197.5 201.0 198.5 202.0 201.0 204.5 203.0 206.0 205.5 206.5 208.5 205.0 210.0 203.0 210.0 201.0 211.0 200.0 213.0 199.5 215.5 198.0 217.5 196.5 217.0 196.0 214.5 197.0 212.5 195.5 211.5 194.0 212.5 193.5 210.0 194.5 208.0 194.0 206.5M205.3 156.2 207.2 155.4 209.8 156.0 211.8 157.6 212.3 159.3 210.3 160.0 207.6 159.2 205.8 157.8ZM206.2 150.3 207.6 149.8 208.6 150.8 207.8 151.8 206.5 151.5ZM211.6 136.5 213.5 136.5 213.5 137.5 211.6 137.5Z"/>
</g>
<g class="rl">
<text transform="translate(332.3 320.7) scale(1 1.2)">LYG</text>
<text transform="translate(299.6 335.7) scale(1 1.2)">XZ</text>
<text transform="translate(294.7 348.5) scale(1 1.2)">SuZ</text>
<text transform="translate(322.2 346.9) scale(1 1.2)">SQ</text>
<text transform="translate(336.4 350.6) scale(1 1.2)">HA</text>
<text transform="translate(359.2 345.6) scale(1 1.2)">YC</text>
<text transform="translate(281.4 353.1) scale(1 1.2)">HB</text>
<text transform="translate(270.6 363.1) scale(1 1.2)">BZ</text>
<text transform="translate(298.0 368.1) scale(1 1.2)">BB</text>
<text transform="translate(351.3 369.0) scale(1 1.2)">YZ</text>
<text transform="translate(366.3 376.9) scale(1 1.2)">TZ</text>
<text transform="translate(385.1 377.3) scale(1 1.2)">NT</text>
<text transform="translate(259.0 379.8) scale(1 1.2)">FY</text>
<text transform="translate(285.9 380.6) scale(1 1.2)">HN</text>
<text transform="translate(313.8 380.9) scale(1 1.2)">ChuZ</text>
<text transform="translate(304.1 399.8) scale(1 1.2)">HF</text>
<text transform="translate(337.2 394.8) scale(1 1.2)">NJ</text>
<text transform="translate(355.5 389.3) scale(1 1.2)">ZJ</text>
<text transform="translate(359.6 399.0) scale(1 1.2)">CZ</text>
<text transform="translate(376.7 396.4) scale(1 1.2)">WX</text>
<text transform="translate(388.9 403.0) scale(1 1.2)">SZ</text>
<text transform="translate(405.5 406.4) scale(1 1.2)">SH</text>
<text transform="translate(278.9 409.8) scale(1 1.2)">LA</text>
<text transform="translate(318.0 412.7) scale(1 1.2)">CH</text>
<text transform="translate(336.1 407.0) scale(1 1.2)">MAS</text>
<text transform="translate(331.9 421.4) scale(1 1.2)">WH</text>
<text transform="translate(321.5 426.8) scale(1 1.2)">TL</text>
<text transform="translate(371.8 421.8) scale(1 1.2)">HuZ</text>
<text transform="translate(391.7 421.4) scale(1 1.2)">JX</text>
<text transform="translate(345.9 430.6) scale(1 1.2)">XC</text>
<text transform="translate(287.5 441.4) scale(1 1.2)">AQ</text>
<text transform="translate(310.9 447.2) scale(1 1.2)">ChiZ</text>
<text transform="translate(429.4 431.5) scale(1 1.2)">ZS</text>
<text transform="translate(412.2 444.7) scale(1 1.2)">NB</text>
<text transform="translate(393.9 448.1) scale(1 1.2)">SX</text>
<text transform="translate(330.1 454.7) scale(1 1.2)">HS</text>
<text transform="translate(361.7 450.6) scale(1 1.2)">HZ</text>
<text transform="translate(384.5 468.1) scale(1 1.2)">JH</text>
<text transform="translate(410.0 471.1) scale(1 1.2)">TaiZ</text>
<text transform="translate(352.0 479.6) scale(1 1.2)">QZ</text>
<text transform="translate(370.7 497.1) scale(1 1.2)">LS</text>
<text transform="translate(400.6 500.6) scale(1 1.2)">WZ</text>
</g>
<rect x="238.5" y="284.6" width="201.1" height="252.2" fill="none" stroke="#3a3a3a" stroke-width="0.9"/>
<text class="ti" x="243.8" y="294.2">d.industrial structure</text>
<text class="t" text-anchor="middle" x="239.0" y="543.8">114°0'0"E</text>
<text class="t" text-anchor="middle" x="291.1" y="543.8">116°0'0"E</text>
<text class="t" text-anchor="middle" x="343.5" y="543.8">118°0'0"E</text>
<text class="t" text-anchor="middle" x="395.8" y="543.8">120°0'0"E</text>
<text class="t" text-anchor="middle" transform="translate(446.4 297.5) rotate(-90)">34°30'0"N</text>
<text class="t" text-anchor="middle" transform="translate(446.4 340.4) rotate(-90)">33°0'0"N</text>
<text class="t" text-anchor="middle" transform="translate(446.4 383.5) rotate(-90)">31°30'0"N</text>
<text class="t" text-anchor="middle" transform="translate(446.4 428.2) rotate(-90)">30°0'0"N</text>
<text class="t" text-anchor="middle" transform="translate(446.4 472.3) rotate(-90)">28°30'0"N</text>
<text class="t" text-anchor="middle" transform="translate(446.4 516.0) rotate(-90)">27°0'0"N</text>
<path d="M239.0 536.4 V541.4 M291.1 536.4 V541.4 M343.5 536.4 V541.4 M395.8 536.4 V541.4 M439.2 297.5 H443.2 M439.2 340.4 H443.2 M439.2 383.5 H443.2 M439.2 428.2 H443.2 M439.2 472.3 H443.2 M439.2 516.0 H443.2" stroke="#333" stroke-width="0.6" fill="none"/>
<polygon points="430.9,292.4 435.4,305.3 430.9,302.6 426.4,305.3" fill="#000"/>
<text x="430.9" y="289.0" text-anchor="middle" style="font-family:'Liberation Serif',serif;font-size:4.2px;fill:#333">N</text>
<path d="M368.5 526.7 V530.3 H420.2 V526.7 M394.4 530.3 V528.0" stroke="#2a2a2a" stroke-width="0.7" fill="none"/>
<text class="sb" x="368.5" y="523.4">0</text>
<text class="sb" x="394.4" y="523.4">100</text>
<text class="sb" x="415.6" y="523.4" text-anchor="start" style="text-anchor:start">200 km</text>
<text class="lt" x="247.0" y="472.7">Regression Coefficient</text>
<rect x="246.0" y="478.5" width="15.9" height="7.4" fill="#4474bc"/>
<text class="lg" x="264.9" y="484.5" xml:space="preserve">0.063 - 0.086</text>
<rect x="246.0" y="489.4" width="15.9" height="7.4" fill="#a1b3c0"/>
<text class="lg" x="264.9" y="495.4" xml:space="preserve">0.087 - 0.129</text>
<rect x="246.0" y="500.3" width="15.9" height="7.4" fill="#fffdbf"/>
<text class="lg" x="264.9" y="506.3" xml:space="preserve">0.130 - 0.191</text>
<rect x="246.0" y="511.2" width="15.9" height="7.4" fill="#f4976a"/>
<text class="lg" x="264.9" y="517.2" xml:space="preserve">0.192 - 0.258</text>
<rect x="246.0" y="522.1" width="15.9" height="7.4" fill="#e02e25"/>
<text class="lg" x="264.9" y="528.1" xml:space="preserve">0.259 -  0.306</text>
</g>
</svg></body></html>
